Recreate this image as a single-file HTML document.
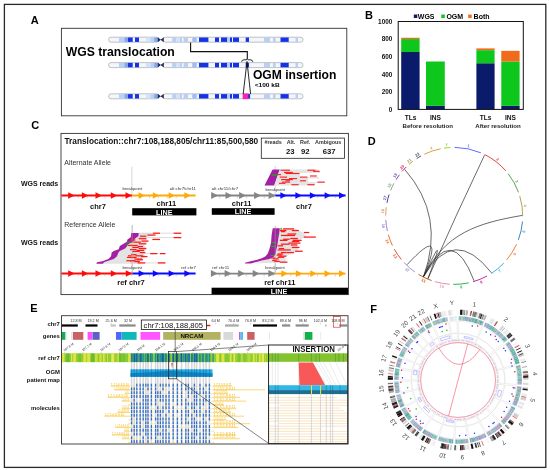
<!DOCTYPE html>
<html><head><meta charset="utf-8"><title>Figure</title>
<style>
html,body{margin:0;padding:0;background:#fff;}
svg{display:block;font-family:"Liberation Sans",Arial,sans-serif;}
</style></head><body>
<svg width="550" height="470" viewBox="0 0 550 470">
<rect x="0" y="0" width="550" height="470" fill="#fff"/>
<rect x="4.4" y="4.4" width="541.4" height="463" fill="none" stroke="#2a2a2a" stroke-width="1.3"/>
<text x="30.7" y="24" font-size="11" font-weight="bold" fill="#000" >A</text>
<text x="365" y="18.7" font-size="11" font-weight="bold" fill="#000" >B</text>
<text x="31.3" y="129.4" font-size="11" font-weight="bold" fill="#000" >C</text>
<text x="367.7" y="144.9" font-size="11" font-weight="bold" fill="#000" >D</text>
<text x="30.3" y="312.2" font-size="11" font-weight="bold" fill="#000" >E</text>
<text x="370.3" y="313" font-size="11" font-weight="bold" fill="#000" >F</text>
<rect x="61.4" y="28.3" width="285.4" height="87.5" fill="none" stroke="#333" stroke-width="0.9"/>
<g>
<rect x="108.6" y="37.2" width="50" height="5.0" rx="2.4" fill="#f3f6fc" stroke="#9a9a9a" stroke-width="0.6"/>
<rect x="163" y="37.2" width="140" height="5.0" rx="2.4" fill="#f3f6fc" stroke="#9a9a9a" stroke-width="0.6"/>
<rect x="119" y="37.5" width="5.5" height="4.4" fill="#b9d0f5" />
<rect x="124.5" y="37.5" width="3.5" height="4.4" fill="#7fa6ee" />
<rect x="128" y="37.5" width="4.7" height="4.4" fill="#1433e6" />
<rect x="135" y="37.5" width="4" height="4.4" fill="#1433e6" />
<rect x="146" y="37.5" width="4.4" height="4.4" fill="#d3e2f9" />
<rect x="150.4" y="37.5" width="3.8" height="4.4" fill="#b9d0f5" />
<rect x="154.2" y="37.5" width="4.2" height="4.4" fill="#7fa6ee" />
<rect x="172.2" y="37.5" width="4.3" height="4.4" fill="#b9d0f5" />
<rect x="176.5" y="37.5" width="3.3" height="4.4" fill="#d3e2f9" />
<rect x="179.8" y="37.5" width="2.2" height="4.4" fill="#b9d0f5" />
<rect x="183.6" y="37.5" width="4.4" height="4.4" fill="#b9d0f5" />
<rect x="192.3" y="37.5" width="4.4" height="4.4" fill="#9dbcf2" />
<rect x="199" y="37.5" width="9.4" height="4.4" fill="#1433e6" />
<rect x="215" y="37.5" width="4" height="4.4" fill="#1433e6" />
<rect x="221" y="37.5" width="6.3" height="4.4" fill="#1433e6" />
<rect x="227.3" y="37.5" width="2.7" height="4.4" fill="#b9d0f5" />
<rect x="230" y="37.5" width="2" height="4.4" fill="#1433e6" />
<rect x="233" y="37.5" width="6" height="4.4" fill="#1433e6" />
<rect x="245.7" y="37.5" width="3.3" height="4.4" fill="#1433e6" />
<rect x="264" y="37.5" width="6" height="4.4" fill="#b9d0f5" />
<rect x="273" y="37.5" width="2.7" height="4.4" fill="#b9d0f5" />
<rect x="280.5" y="37.5" width="8.2" height="4.4" fill="#1433e6" />
<rect x="295.5" y="37.5" width="2.5" height="4.4" fill="#b9d0f5" />
<path d="M157.8 37.2 L160.9 39.7 L157.8 42.2 Z M163.8 37.2 L160.5 39.7 L163.8 42.2 Z" fill="#2a2a55"/>
</g>
<g>
<rect x="108.6" y="62.6" width="50" height="5.0" rx="2.4" fill="#f3f6fc" stroke="#9a9a9a" stroke-width="0.6"/>
<rect x="163" y="62.6" width="140" height="5.0" rx="2.4" fill="#f3f6fc" stroke="#9a9a9a" stroke-width="0.6"/>
<rect x="119" y="62.9" width="5.5" height="4.4" fill="#b9d0f5" />
<rect x="124.5" y="62.9" width="3.5" height="4.4" fill="#7fa6ee" />
<rect x="128" y="62.9" width="4.7" height="4.4" fill="#1433e6" />
<rect x="135" y="62.9" width="4" height="4.4" fill="#1433e6" />
<rect x="146" y="62.9" width="4.4" height="4.4" fill="#d3e2f9" />
<rect x="150.4" y="62.9" width="3.8" height="4.4" fill="#b9d0f5" />
<rect x="154.2" y="62.9" width="4.2" height="4.4" fill="#7fa6ee" />
<rect x="172.2" y="62.9" width="4.3" height="4.4" fill="#b9d0f5" />
<rect x="176.5" y="62.9" width="3.3" height="4.4" fill="#d3e2f9" />
<rect x="179.8" y="62.9" width="2.2" height="4.4" fill="#b9d0f5" />
<rect x="183.6" y="62.9" width="4.4" height="4.4" fill="#b9d0f5" />
<rect x="192.3" y="62.9" width="4.4" height="4.4" fill="#9dbcf2" />
<rect x="199" y="62.9" width="9.4" height="4.4" fill="#1433e6" />
<rect x="215" y="62.9" width="4" height="4.4" fill="#1433e6" />
<rect x="221" y="62.9" width="6.3" height="4.4" fill="#1433e6" />
<rect x="227.3" y="62.9" width="2.7" height="4.4" fill="#b9d0f5" />
<rect x="230" y="62.9" width="2" height="4.4" fill="#1433e6" />
<rect x="233" y="62.9" width="6" height="4.4" fill="#1433e6" />
<rect x="245.7" y="62.9" width="3.3" height="4.4" fill="#1433e6" />
<rect x="264" y="62.9" width="6" height="4.4" fill="#b9d0f5" />
<rect x="273" y="62.9" width="2.7" height="4.4" fill="#b9d0f5" />
<rect x="280.5" y="62.9" width="8.2" height="4.4" fill="#1433e6" />
<rect x="295.5" y="62.9" width="2.5" height="4.4" fill="#b9d0f5" />
<path d="M157.8 62.6 L160.9 65.1 L157.8 67.6 Z M163.8 62.6 L160.5 65.1 L163.8 67.6 Z" fill="#2a2a55"/>
</g>
<g>
<rect x="108.6" y="93.8" width="50" height="5.0" rx="2.4" fill="#f3f6fc" stroke="#9a9a9a" stroke-width="0.6"/>
<rect x="163" y="93.8" width="140" height="5.0" rx="2.4" fill="#f3f6fc" stroke="#9a9a9a" stroke-width="0.6"/>
<rect x="119" y="94.1" width="5.5" height="4.4" fill="#b9d0f5" />
<rect x="124.5" y="94.1" width="3.5" height="4.4" fill="#7fa6ee" />
<rect x="128" y="94.1" width="4.7" height="4.4" fill="#1433e6" />
<rect x="135" y="94.1" width="4" height="4.4" fill="#1433e6" />
<rect x="146" y="94.1" width="4.4" height="4.4" fill="#d3e2f9" />
<rect x="150.4" y="94.1" width="3.8" height="4.4" fill="#b9d0f5" />
<rect x="154.2" y="94.1" width="4.2" height="4.4" fill="#7fa6ee" />
<rect x="172.2" y="94.1" width="4.3" height="4.4" fill="#b9d0f5" />
<rect x="176.5" y="94.1" width="3.3" height="4.4" fill="#d3e2f9" />
<rect x="179.8" y="94.1" width="2.2" height="4.4" fill="#b9d0f5" />
<rect x="183.6" y="94.1" width="4.4" height="4.4" fill="#b9d0f5" />
<rect x="192.3" y="94.1" width="4.4" height="4.4" fill="#9dbcf2" />
<rect x="199" y="94.1" width="9.4" height="4.4" fill="#1433e6" />
<rect x="215" y="94.1" width="4" height="4.4" fill="#1433e6" />
<rect x="221" y="94.1" width="6.3" height="4.4" fill="#1433e6" />
<rect x="227.3" y="94.1" width="2.7" height="4.4" fill="#b9d0f5" />
<rect x="230" y="94.1" width="2" height="4.4" fill="#1433e6" />
<rect x="233" y="94.1" width="6" height="4.4" fill="#1433e6" />
<rect x="245.7" y="94.1" width="3.3" height="4.4" fill="#1433e6" />
<rect x="264" y="94.1" width="6" height="4.4" fill="#b9d0f5" />
<rect x="273" y="94.1" width="2.7" height="4.4" fill="#b9d0f5" />
<rect x="280.5" y="94.1" width="8.2" height="4.4" fill="#1433e6" />
<rect x="295.5" y="94.1" width="2.5" height="4.4" fill="#b9d0f5" />
<path d="M157.8 93.8 L160.9 96.3 L157.8 98.8 Z M163.8 93.8 L160.5 96.3 L163.8 98.8 Z" fill="#2a2a55"/>
<rect x="242.7" y="93.5" width="5.8" height="5.6" fill="#ff1fb4" />
<rect x="248.5" y="94.1" width="1.6" height="4.4" fill="#1433e6" />
</g>
<path d="M190.6 42.4 V51.6 H247.3 V58.6" fill="none" stroke="#111" stroke-width="1.1"/>
<path d="M241.6 61.8 Q241.8 59.8 244 59.8 H246 Q247.2 59.8 247.3 58.4 Q247.4 59.8 248.6 59.8 H250.4 Q252.6 59.8 252.8 61.8" fill="none" stroke="#111" stroke-width="0.9"/>
<path d="M243.2 94 L247 61.5 L250.6 94" fill="none" stroke="#111" stroke-width="0.9"/>
<text x="65.8" y="56.2" font-size="12.5" font-weight="bold" fill="#000" textLength="109" lengthAdjust="spacingAndGlyphs" >WGS translocation</text>
<text x="252.9" y="79" font-size="12.5" font-weight="bold" fill="#000" textLength="83.4" lengthAdjust="spacingAndGlyphs" >OGM insertion</text>
<text x="254.7" y="87" font-size="5.6" font-weight="bold" fill="#000" textLength="25" lengthAdjust="spacingAndGlyphs" >&lt;100 kB</text>
<rect x="401.2" y="52" width="18.4" height="57.4" fill="#0b1b6b" />
<rect x="401.2" y="39.08" width="18.4" height="12.92" fill="#0ec71c" />
<rect x="401.2" y="37.76" width="18.4" height="1.32" fill="#f26a1b" />
<rect x="426" y="105.88" width="18.8" height="3.52" fill="#0b1b6b" />
<rect x="426" y="61.49" width="18.8" height="44.39" fill="#0ec71c" />
<rect x="476.4" y="63.25" width="18.2" height="46.15" fill="#0b1b6b" />
<rect x="476.4" y="50.16" width="18.2" height="13.1" fill="#0ec71c" />
<rect x="476.4" y="48.4" width="18.2" height="1.76" fill="#f26a1b" />
<rect x="501.3" y="105.88" width="18.3" height="3.52" fill="#0b1b6b" />
<rect x="501.3" y="61.49" width="18.3" height="44.39" fill="#0ec71c" />
<rect x="501.3" y="50.86" width="18.3" height="10.64" fill="#f26a1b" />
<rect x="398.2" y="21.5" width="125.1" height="87.9" fill="none" stroke="#111" stroke-width="1"/>
<text x="392.3" y="111.7" font-size="6.4" font-weight="bold" text-anchor="end" fill="#111" >0</text>
<text x="392.3" y="94.12" font-size="6.4" font-weight="bold" text-anchor="end" fill="#111" >200</text>
<text x="392.3" y="76.54" font-size="6.4" font-weight="bold" text-anchor="end" fill="#111" >400</text>
<text x="392.3" y="58.96" font-size="6.4" font-weight="bold" text-anchor="end" fill="#111" >600</text>
<text x="392.3" y="41.38" font-size="6.4" font-weight="bold" text-anchor="end" fill="#111" >800</text>
<text x="392.3" y="23.8" font-size="6.4" font-weight="bold" text-anchor="end" fill="#111" >1000</text>
<rect x="413.8" y="14.5" width="3.5" height="3.5" fill="#0b1b6b" />
<text x="417.8" y="18.7" font-size="7" font-weight="bold" fill="#000" >WGS</text>
<rect x="441.3" y="14.5" width="3.5" height="3.5" fill="#0ec71c" />
<text x="446.4" y="18.7" font-size="7" font-weight="bold" fill="#000" >OGM</text>
<rect x="468.2" y="14.5" width="3.5" height="3.5" fill="#f26a1b" />
<text x="473.6" y="18.7" font-size="7" font-weight="bold" fill="#000" >Both</text>
<text x="410.6" y="120" font-size="6.6" font-weight="bold" text-anchor="middle" fill="#111" >TLs</text>
<text x="435.5" y="120" font-size="6.6" font-weight="bold" text-anchor="middle" fill="#111" >INS</text>
<text x="485.5" y="120" font-size="6.6" font-weight="bold" text-anchor="middle" fill="#111" >TLs</text>
<text x="510.5" y="120" font-size="6.6" font-weight="bold" text-anchor="middle" fill="#111" >INS</text>
<text x="427.8" y="128.2" font-size="6.1" font-weight="bold" text-anchor="middle" fill="#222" >Before resolution</text>
<text x="498" y="128.2" font-size="6.1" font-weight="bold" text-anchor="middle" fill="#222" >After resolution</text>
<rect x="61" y="133.4" width="287.4" height="161.2" fill="none" stroke="#333" stroke-width="0.9"/>
<text x="64.5" y="143.6" font-size="8.4" font-weight="bold" fill="#111" textLength="193.7" lengthAdjust="spacingAndGlyphs" >Translocation::chr7:108,188,805/chr11:85,500,580</text>
<rect x="261.3" y="138.1" width="83.2" height="20.2" fill="none" stroke="#222" stroke-width="0.8"/>
<text x="264.4" y="143.8" font-size="5.4" font-weight="bold" fill="#333" >#reads</text>
<text x="286.7" y="143.8" font-size="5.4" font-weight="bold" fill="#333" >Alt.</text>
<text x="300" y="143.8" font-size="5.4" font-weight="bold" fill="#333" >Ref.</text>
<text x="315" y="143.8" font-size="5.4" font-weight="bold" fill="#333" >Ambigous</text>
<text x="290.2" y="154.2" font-size="7.7" font-weight="bold" text-anchor="middle" fill="#111" >23</text>
<text x="305.3" y="154.2" font-size="7.7" font-weight="bold" text-anchor="middle" fill="#111" >92</text>
<text x="329.1" y="154.2" font-size="7.7" font-weight="bold" text-anchor="middle" fill="#111" >637</text>
<text x="64.3" y="164.5" font-size="7" fill="#333" >Alternate Allele</text>
<text x="64.3" y="227.3" font-size="7" fill="#333" >Reference Allele</text>
<text x="20.9" y="185.7" font-size="7" font-weight="bold" fill="#111" >WGS reads</text>
<text x="20.9" y="245.3" font-size="7" font-weight="bold" fill="#111" >WGS reads</text>
<line x1="131.9" y1="166.8" x2="131.9" y2="196" stroke="#bbb" stroke-width="0.6" />
<line x1="61.4" y1="195.5" x2="131.9" y2="195.5" stroke="#ff0a0a" stroke-width="1.8" />
<line x1="131.9" y1="195.5" x2="195.6" y2="195.5" stroke="#ffa90a" stroke-width="1.8" />
<path d="M74.6 195.5 L68.2 192.2 V198.8 Z" fill="#ff0a0a"/>
<path d="M88.3 195.5 L81.9 192.2 V198.8 Z" fill="#ff0a0a"/>
<path d="M101.9 195.5 L95.5 192.2 V198.8 Z" fill="#ff0a0a"/>
<path d="M117.2 195.5 L110.8 192.2 V198.8 Z" fill="#ff0a0a"/>
<path d="M131.9 195.5 L125.5 192.2 V198.8 Z" fill="#ff0a0a"/>
<path d="M145 195.5 L138.6 192.2 V198.8 Z" fill="#ffa90a"/>
<path d="M159.2 195.5 L152.8 192.2 V198.8 Z" fill="#ffa90a"/>
<path d="M175 195.5 L168.6 192.2 V198.8 Z" fill="#ffa90a"/>
<path d="M190.8 195.5 L184.4 192.2 V198.8 Z" fill="#ffa90a"/>
<line x1="69.4" y1="196.5" x2="69.4" y2="198.3" stroke="#888" stroke-width="0.4" />
<line x1="78.3" y1="196.5" x2="78.3" y2="198.3" stroke="#888" stroke-width="0.4" />
<line x1="87.2" y1="196.5" x2="87.2" y2="198.3" stroke="#888" stroke-width="0.4" />
<line x1="96.1" y1="196.5" x2="96.1" y2="198.3" stroke="#888" stroke-width="0.4" />
<line x1="105" y1="196.5" x2="105" y2="198.3" stroke="#888" stroke-width="0.4" />
<line x1="113.9" y1="196.5" x2="113.9" y2="198.3" stroke="#888" stroke-width="0.4" />
<line x1="122.8" y1="196.5" x2="122.8" y2="198.3" stroke="#888" stroke-width="0.4" />
<line x1="131.7" y1="196.5" x2="131.7" y2="198.3" stroke="#888" stroke-width="0.4" />
<line x1="140.6" y1="196.5" x2="140.6" y2="198.3" stroke="#888" stroke-width="0.4" />
<line x1="149.5" y1="196.5" x2="149.5" y2="198.3" stroke="#888" stroke-width="0.4" />
<line x1="158.4" y1="196.5" x2="158.4" y2="198.3" stroke="#888" stroke-width="0.4" />
<line x1="167.3" y1="196.5" x2="167.3" y2="198.3" stroke="#888" stroke-width="0.4" />
<line x1="176.2" y1="196.5" x2="176.2" y2="198.3" stroke="#888" stroke-width="0.4" />
<line x1="185.1" y1="196.5" x2="185.1" y2="198.3" stroke="#888" stroke-width="0.4" />
<text x="132.3" y="190" font-size="4.2" text-anchor="middle" fill="#333" >breakpoint</text>
<text x="196" y="190" font-size="4.4" text-anchor="end" fill="#333" >alt chr7/chr11</text>
<text x="98" y="208.5" font-size="7.5" font-weight="bold" text-anchor="middle" fill="#111" >chr7</text>
<text x="166.4" y="206.2" font-size="7.5" font-weight="bold" text-anchor="middle" fill="#111" >chr11</text>
<rect x="132.2" y="208.2" width="64.2" height="7.2" fill="#000" />
<text x="164.3" y="214.7" font-size="7.2" font-weight="bold" text-anchor="middle" fill="#fff" >LINE</text>
<line x1="275.2" y1="166" x2="275.2" y2="196" stroke="#bbb" stroke-width="0.6" />
<line x1="211.8" y1="195.5" x2="275.4" y2="195.5" stroke="#858585" stroke-width="1.8" />
<line x1="275.4" y1="195.5" x2="345.6" y2="195.5" stroke="#0a0aff" stroke-width="1.8" />
<path d="M218 195.5 L211.2 192 V199 Z" fill="#858585"/>
<path d="M232.3 195.5 L225.5 192 V199 Z" fill="#858585"/>
<path d="M245.9 195.5 L239.1 192 V199 Z" fill="#858585"/>
<path d="M260.9 195.5 L254.1 192 V199 Z" fill="#858585"/>
<path d="M275.4 195.5 L268.6 192 V199 Z" fill="#858585"/>
<path d="M286.8 195.5 L280.4 192.2 V198.8 Z" fill="#0a0aff"/>
<path d="M301.8 195.5 L295.4 192.2 V198.8 Z" fill="#0a0aff"/>
<path d="M316.3 195.5 L309.9 192.2 V198.8 Z" fill="#0a0aff"/>
<path d="M331 195.5 L324.6 192.2 V198.8 Z" fill="#0a0aff"/>
<path d="M345.4 195.5 L339 192.2 V198.8 Z" fill="#0a0aff"/>
<line x1="219.8" y1="196.5" x2="219.8" y2="198.3" stroke="#888" stroke-width="0.4" />
<line x1="228.7" y1="196.5" x2="228.7" y2="198.3" stroke="#888" stroke-width="0.4" />
<line x1="237.6" y1="196.5" x2="237.6" y2="198.3" stroke="#888" stroke-width="0.4" />
<line x1="246.5" y1="196.5" x2="246.5" y2="198.3" stroke="#888" stroke-width="0.4" />
<line x1="255.4" y1="196.5" x2="255.4" y2="198.3" stroke="#888" stroke-width="0.4" />
<line x1="264.3" y1="196.5" x2="264.3" y2="198.3" stroke="#888" stroke-width="0.4" />
<line x1="273.2" y1="196.5" x2="273.2" y2="198.3" stroke="#888" stroke-width="0.4" />
<line x1="282.1" y1="196.5" x2="282.1" y2="198.3" stroke="#888" stroke-width="0.4" />
<line x1="291" y1="196.5" x2="291" y2="198.3" stroke="#888" stroke-width="0.4" />
<line x1="299.9" y1="196.5" x2="299.9" y2="198.3" stroke="#888" stroke-width="0.4" />
<line x1="308.8" y1="196.5" x2="308.8" y2="198.3" stroke="#888" stroke-width="0.4" />
<line x1="317.7" y1="196.5" x2="317.7" y2="198.3" stroke="#888" stroke-width="0.4" />
<line x1="326.6" y1="196.5" x2="326.6" y2="198.3" stroke="#888" stroke-width="0.4" />
<line x1="335.5" y1="196.5" x2="335.5" y2="198.3" stroke="#888" stroke-width="0.4" />
<text x="211.8" y="189.6" font-size="4.4" fill="#333" >alt chr11/chr7</text>
<text x="275.2" y="191" font-size="4.2" text-anchor="middle" fill="#333" >breakpoint</text>
<text x="241.6" y="206.2" font-size="7.5" font-weight="bold" text-anchor="middle" fill="#111" >chr11</text>
<rect x="211.8" y="208.2" width="62.8" height="6.6" fill="#000" />
<text x="243" y="214.3" font-size="7.2" font-weight="bold" text-anchor="middle" fill="#fff" >LINE</text>
<text x="304" y="209" font-size="7.5" font-weight="bold" text-anchor="middle" fill="#111" >chr7</text>
<line x1="132.2" y1="225" x2="132.2" y2="274" stroke="#bbb" stroke-width="0.6" />
<line x1="61.4" y1="273.5" x2="132.2" y2="273.5" stroke="#ff0a0a" stroke-width="1.8" />
<line x1="132.2" y1="273.5" x2="195.6" y2="273.5" stroke="#0a0aff" stroke-width="1.8" />
<path d="M74.6 273.5 L68.2 270.2 V276.8 Z" fill="#ff0a0a"/>
<path d="M88.3 273.5 L81.9 270.2 V276.8 Z" fill="#ff0a0a"/>
<path d="M101.9 273.5 L95.5 270.2 V276.8 Z" fill="#ff0a0a"/>
<path d="M117.2 273.5 L110.8 270.2 V276.8 Z" fill="#ff0a0a"/>
<path d="M132.2 273.5 L125.8 270.2 V276.8 Z" fill="#ff0a0a"/>
<path d="M145 273.5 L138.6 270.2 V276.8 Z" fill="#0a0aff"/>
<path d="M159.2 273.5 L152.8 270.2 V276.8 Z" fill="#0a0aff"/>
<path d="M175 273.5 L168.6 270.2 V276.8 Z" fill="#0a0aff"/>
<path d="M190.8 273.5 L184.4 270.2 V276.8 Z" fill="#0a0aff"/>
<line x1="69.4" y1="274.5" x2="69.4" y2="276.3" stroke="#888" stroke-width="0.4" />
<line x1="78.3" y1="274.5" x2="78.3" y2="276.3" stroke="#888" stroke-width="0.4" />
<line x1="87.2" y1="274.5" x2="87.2" y2="276.3" stroke="#888" stroke-width="0.4" />
<line x1="96.1" y1="274.5" x2="96.1" y2="276.3" stroke="#888" stroke-width="0.4" />
<line x1="105" y1="274.5" x2="105" y2="276.3" stroke="#888" stroke-width="0.4" />
<line x1="113.9" y1="274.5" x2="113.9" y2="276.3" stroke="#888" stroke-width="0.4" />
<line x1="122.8" y1="274.5" x2="122.8" y2="276.3" stroke="#888" stroke-width="0.4" />
<line x1="131.7" y1="274.5" x2="131.7" y2="276.3" stroke="#888" stroke-width="0.4" />
<line x1="140.6" y1="274.5" x2="140.6" y2="276.3" stroke="#888" stroke-width="0.4" />
<line x1="149.5" y1="274.5" x2="149.5" y2="276.3" stroke="#888" stroke-width="0.4" />
<line x1="158.4" y1="274.5" x2="158.4" y2="276.3" stroke="#888" stroke-width="0.4" />
<line x1="167.3" y1="274.5" x2="167.3" y2="276.3" stroke="#888" stroke-width="0.4" />
<line x1="176.2" y1="274.5" x2="176.2" y2="276.3" stroke="#888" stroke-width="0.4" />
<line x1="185.1" y1="274.5" x2="185.1" y2="276.3" stroke="#888" stroke-width="0.4" />
<text x="132.3" y="269.2" font-size="4.2" text-anchor="middle" fill="#333" >breakpoint</text>
<text x="196" y="269.2" font-size="4.4" text-anchor="end" fill="#333" >ref chr7</text>
<text x="131" y="284.5" font-size="7.5" font-weight="bold" text-anchor="middle" fill="#111" >ref chr7</text>
<line x1="275.2" y1="226" x2="275.2" y2="274" stroke="#bbb" stroke-width="0.6" />
<line x1="211.6" y1="273.6" x2="275.2" y2="273.6" stroke="#858585" stroke-width="1.8" />
<line x1="275.2" y1="273.6" x2="345.6" y2="273.6" stroke="#ffa90a" stroke-width="1.8" />
<path d="M217.7 273.6 L210.9 270.1 V277.1 Z" fill="#858585"/>
<path d="M231.4 273.6 L224.6 270.1 V277.1 Z" fill="#858585"/>
<path d="M245 273.6 L238.2 270.1 V277.1 Z" fill="#858585"/>
<path d="M259.5 273.6 L252.7 270.1 V277.1 Z" fill="#858585"/>
<path d="M275.2 273.6 L268.4 270.1 V277.1 Z" fill="#858585"/>
<path d="M287.8 273.6 L281.4 270.3 V276.9 Z" fill="#ffa90a"/>
<path d="M302.3 273.6 L295.9 270.3 V276.9 Z" fill="#ffa90a"/>
<path d="M316.7 273.6 L310.3 270.3 V276.9 Z" fill="#ffa90a"/>
<path d="M330.9 273.6 L324.5 270.3 V276.9 Z" fill="#ffa90a"/>
<path d="M345.4 273.6 L339 270.3 V276.9 Z" fill="#ffa90a"/>
<line x1="219.6" y1="274.6" x2="219.6" y2="276.4" stroke="#888" stroke-width="0.4" />
<line x1="228.5" y1="274.6" x2="228.5" y2="276.4" stroke="#888" stroke-width="0.4" />
<line x1="237.4" y1="274.6" x2="237.4" y2="276.4" stroke="#888" stroke-width="0.4" />
<line x1="246.3" y1="274.6" x2="246.3" y2="276.4" stroke="#888" stroke-width="0.4" />
<line x1="255.2" y1="274.6" x2="255.2" y2="276.4" stroke="#888" stroke-width="0.4" />
<line x1="264.1" y1="274.6" x2="264.1" y2="276.4" stroke="#888" stroke-width="0.4" />
<line x1="273" y1="274.6" x2="273" y2="276.4" stroke="#888" stroke-width="0.4" />
<line x1="281.9" y1="274.6" x2="281.9" y2="276.4" stroke="#888" stroke-width="0.4" />
<line x1="290.8" y1="274.6" x2="290.8" y2="276.4" stroke="#888" stroke-width="0.4" />
<line x1="299.7" y1="274.6" x2="299.7" y2="276.4" stroke="#888" stroke-width="0.4" />
<line x1="308.6" y1="274.6" x2="308.6" y2="276.4" stroke="#888" stroke-width="0.4" />
<line x1="317.5" y1="274.6" x2="317.5" y2="276.4" stroke="#888" stroke-width="0.4" />
<line x1="326.4" y1="274.6" x2="326.4" y2="276.4" stroke="#888" stroke-width="0.4" />
<line x1="335.3" y1="274.6" x2="335.3" y2="276.4" stroke="#888" stroke-width="0.4" />
<text x="212.3" y="268.8" font-size="4.4" fill="#333" >ref chr11</text>
<text x="275" y="269.4" font-size="4.2" text-anchor="middle" fill="#333" >breakpoint</text>
<text x="279.8" y="285.4" font-size="7.5" font-weight="bold" text-anchor="middle" fill="#111" >ref chr11</text>
<rect x="211.6" y="287.7" width="136.4" height="6.7" fill="#000" />
<text x="279" y="293.9" font-size="7.2" font-weight="bold" text-anchor="middle" fill="#fff" >LINE</text>
<path d="M264.5 185.6 L272.6 169.4 H279.8 L274.2 185.6 Z" fill="#a31fa3"/>
<path d="M279.8 169.4 H318.5 V171.5 H320 V173 H300 V177 H319 V178.5 H308 V182 H325 V183 H315 V185.4 H274.2 Z" fill="#e4e4e4"/>
<line x1="280.5" y1="170.2" x2="290" y2="170.2" stroke="#ff1a1a" stroke-width="1.1" />
<line x1="307.4" y1="170.2" x2="315.4" y2="170.2" stroke="#ff1a1a" stroke-width="1.1" />
<line x1="313" y1="171.3" x2="319.7" y2="171.3" stroke="#ff1a1a" stroke-width="1.1" />
<line x1="284" y1="172.4" x2="292.8" y2="172.4" stroke="#ff1a1a" stroke-width="1.1" />
<line x1="285.5" y1="173.5" x2="299.4" y2="173.5" stroke="#ff1a1a" stroke-width="1.1" />
<line x1="278" y1="174.6" x2="281" y2="174.6" stroke="#ff1a1a" stroke-width="1.1" />
<line x1="310" y1="176" x2="316.8" y2="176" stroke="#ff1a1a" stroke-width="1.1" />
<line x1="279.7" y1="177.1" x2="287" y2="177.1" stroke="#ff1a1a" stroke-width="1.1" />
<line x1="300" y1="177.1" x2="307.4" y2="177.1" stroke="#ff1a1a" stroke-width="1.1" />
<line x1="289" y1="178.6" x2="297" y2="178.6" stroke="#ff1a1a" stroke-width="1.1" />
<line x1="281" y1="179.6" x2="292.8" y2="179.6" stroke="#ff1a1a" stroke-width="1.1" />
<line x1="285.5" y1="180.8" x2="290" y2="180.8" stroke="#ff1a1a" stroke-width="1.1" />
<line x1="300" y1="180.8" x2="306" y2="180.8" stroke="#ff1a1a" stroke-width="1.1" />
<line x1="282" y1="182.1" x2="290" y2="182.1" stroke="#ff1a1a" stroke-width="1.1" />
<line x1="317.5" y1="182.1" x2="324.8" y2="182.1" stroke="#ff1a1a" stroke-width="1.1" />
<line x1="279" y1="183.3" x2="285.5" y2="183.3" stroke="#ff1a1a" stroke-width="1.1" />
<line x1="291.4" y1="184.7" x2="298.6" y2="184.7" stroke="#ff1a1a" stroke-width="1.1" />
<line x1="307.4" y1="184.7" x2="314.6" y2="184.7" stroke="#ff1a1a" stroke-width="1.1" />
<line x1="271.7" y1="175" x2="277.6" y2="175" stroke="#12b312" stroke-width="1.2" />
<path d="M138.89 232.91 L153.07 232.91 L153.07 235.63 L146.53 236.72 L147.62 242.18 L144.34 244.36 L146.53 249.81 L143.25 253.08 L145.44 256.57 L139.98 260.72 L141.07 263.77 L102.91 263.77 L102.91 263.77 L104 262.35 L108.36 260.72 L113.81 259.08 L117.08 256.35 L118.17 253.08 L119.81 250.9 L124.72 248.72 L126.9 246.54 L127.99 244.36 L132.89 242.18 L134.53 238.91 L138.35 236.18 Z" fill="#e3e3e3" />
<path d="M131.26 232.91 L130.71 237.27 L127.44 239.45 L126.9 241.63 L123.62 243.81 L119.81 245.99 L118.72 249.26 L113.81 250.9 L111.63 252.54 L111.08 256.35 L108.36 259.08 L105.09 260.17 L102.36 261.26 L96.91 262.35 L96.36 263.77 L102.91 263.77 L104 262.35 L108.36 260.72 L113.81 259.08 L117.08 256.35 L118.17 253.08 L119.81 250.9 L124.72 248.72 L126.9 246.54 L127.99 244.36 L132.89 242.18 L134.53 238.91 L138.35 236.18 L138.89 232.91 Z" fill="#a31fa3" />
<line x1="138.72" y1="233.23" x2="181.25" y2="233.23" stroke="#cfcfcf" stroke-width="0.7" />
<line x1="136.54" y1="237.6" x2="181.25" y2="237.6" stroke="#cfcfcf" stroke-width="0.7" />
<line x1="130" y1="253.63" x2="165.44" y2="253.63" stroke="#cfcfcf" stroke-width="0.7" />
<line x1="130" y1="262.9" x2="165.44" y2="262.9" stroke="#cfcfcf" stroke-width="0.7" />
<line x1="152.9" y1="233.23" x2="159.99" y2="233.23" stroke="#ff1a1a" stroke-width="1.25" />
<line x1="173.62" y1="233.23" x2="181.25" y2="233.23" stroke="#ff1a1a" stroke-width="1.25" />
<line x1="147.45" y1="235.09" x2="155.63" y2="235.09" stroke="#ff1a1a" stroke-width="1.25" />
<line x1="173.62" y1="237.6" x2="181.25" y2="237.6" stroke="#ff1a1a" stroke-width="1.25" />
<line x1="138.72" y1="238.69" x2="146.36" y2="238.69" stroke="#ff1a1a" stroke-width="1.25" />
<line x1="152.36" y1="239.45" x2="159.99" y2="239.45" stroke="#ff1a1a" stroke-width="1.25" />
<line x1="141.45" y1="241.09" x2="148.54" y2="241.09" stroke="#ff1a1a" stroke-width="1.25" />
<line x1="138.72" y1="243.81" x2="146.36" y2="243.81" stroke="#ff1a1a" stroke-width="1.25" />
<line x1="131.09" y1="245.45" x2="137.63" y2="245.45" stroke="#ff1a1a" stroke-width="1.25" />
<line x1="132.18" y1="247.41" x2="138.72" y2="247.41" stroke="#ff1a1a" stroke-width="1.25" />
<line x1="138.72" y1="248.5" x2="146.36" y2="248.5" stroke="#ff1a1a" stroke-width="1.25" />
<line x1="136.54" y1="250.36" x2="144.18" y2="250.36" stroke="#ff1a1a" stroke-width="1.25" />
<line x1="132.18" y1="251.45" x2="139.81" y2="251.45" stroke="#ff1a1a" stroke-width="1.25" />
<line x1="150.17" y1="253.63" x2="157.26" y2="253.63" stroke="#ff1a1a" stroke-width="1.25" />
<line x1="159.99" y1="253.63" x2="165.44" y2="253.63" stroke="#ff1a1a" stroke-width="1.25" />
<line x1="135.45" y1="255.81" x2="143.09" y2="255.81" stroke="#ff1a1a" stroke-width="1.25" />
<line x1="130" y1="257.44" x2="136.54" y2="257.44" stroke="#ff1a1a" stroke-width="1.25" />
<line x1="134.36" y1="259.08" x2="142" y2="259.08" stroke="#ff1a1a" stroke-width="1.25" />
<line x1="130" y1="260.72" x2="133.82" y2="260.72" stroke="#ff1a1a" stroke-width="1.25" />
<line x1="137.63" y1="262.9" x2="145.27" y2="262.9" stroke="#ff1a1a" stroke-width="1.25" />
<line x1="157.81" y1="262.9" x2="165.44" y2="262.9" stroke="#ff1a1a" stroke-width="1.25" />
<line x1="133.27" y1="242.18" x2="140.91" y2="242.18" stroke="#ff1a1a" stroke-width="1.25" />
<line x1="139.81" y1="236.18" x2="146.36" y2="236.18" stroke="#ff1a1a" stroke-width="1.25" />
<line x1="131.09" y1="254.72" x2="136.54" y2="254.72" stroke="#ff1a1a" stroke-width="1.25" />
<line x1="130" y1="240" x2="135.45" y2="240" stroke="#ff1a1a" stroke-width="1.25" />
<line x1="137.63" y1="246.54" x2="143.09" y2="246.54" stroke="#ff1a1a" stroke-width="1.25" />
<line x1="130" y1="249.59" x2="136.54" y2="249.59" stroke="#ff1a1a" stroke-width="1.25" />
<line x1="139.81" y1="252.54" x2="145.27" y2="252.54" stroke="#ff1a1a" stroke-width="1.25" />
<line x1="140.91" y1="256.57" x2="147.45" y2="256.57" stroke="#ff1a1a" stroke-width="1.25" />
<line x1="136.54" y1="259.84" x2="143.09" y2="259.84" stroke="#ff1a1a" stroke-width="1.25" />
<line x1="134.36" y1="261.59" x2="139.81" y2="261.59" stroke="#ff1a1a" stroke-width="1.25" />
<line x1="127.99" y1="245.45" x2="132.35" y2="245.45" stroke="#ff1a1a" stroke-width="1.25" />
<line x1="126.9" y1="257.44" x2="135.62" y2="257.44" stroke="#ff1a1a" stroke-width="1.25" />
<line x1="126.35" y1="260.72" x2="135.62" y2="260.72" stroke="#ff1a1a" stroke-width="1.25" />
<line x1="127.99" y1="255.81" x2="131.48" y2="255.81" stroke="#ff1a1a" stroke-width="1.25" />
<line x1="126.9" y1="242.39" x2="131.8" y2="242.39" stroke="#12b312" stroke-width="1" />
<line x1="126.35" y1="244.9" x2="128.21" y2="244.9" stroke="#12b312" stroke-width="1" />
<line x1="132.2" y1="225" x2="132.2" y2="274" stroke="#aaa" stroke-width="0.5" />
<path d="M279.8 228.36 L295.08 228.36 L302.72 232.51 L307.08 236.87 L297.26 240.36 L298.35 251.26 L291.81 253.44 L285.27 256.72 L286.36 262.39 L254.18 263.48 L261.81 260.53 L269.44 258.9 L273.81 256.72 L275.44 253.99 L276.53 249.08 L277.62 243.63 L278.17 239.27 L279.26 233.81 Z" fill="#e3e3e3"/>
<path d="M272.72 228.36 L271.62 234.91 L271.08 242.54 L269.44 249.08 L267.81 253.44 L265.63 256.17 L261.81 258.35 L256.36 259.99 L249.81 261.62 L244.91 262.71 L244.91 263.48 L250.91 263.48 L256.36 261.95 L261.81 260.53 L269.44 258.9 L273.81 256.72 L275.44 253.99 L276.53 249.08 L277.62 243.63 L278.17 239.27 L279.26 233.81 L279.8 228.36 Z" fill="#a31fa3" />
<line x1="283.09" y1="228.91" x2="293.99" y2="228.91" stroke="#ff1a1a" stroke-width="1.25" />
<line x1="279.81" y1="230.54" x2="286.36" y2="230.54" stroke="#ff1a1a" stroke-width="1.25" />
<line x1="291.81" y1="230.54" x2="298.9" y2="230.54" stroke="#ff1a1a" stroke-width="1.25" />
<line x1="303.81" y1="232.51" x2="309.26" y2="232.51" stroke="#ff1a1a" stroke-width="1.25" />
<line x1="287.45" y1="234.03" x2="296.17" y2="234.03" stroke="#ff1a1a" stroke-width="1.25" />
<line x1="280.91" y1="235.45" x2="287.45" y2="235.45" stroke="#ff1a1a" stroke-width="1.25" />
<line x1="286.36" y1="235.45" x2="295.08" y2="235.45" stroke="#ff1a1a" stroke-width="1.25" />
<line x1="303.81" y1="237.09" x2="315.8" y2="237.09" stroke="#ff1a1a" stroke-width="1.25" />
<line x1="290.17" y1="238.5" x2="297.81" y2="238.5" stroke="#ff1a1a" stroke-width="1.25" />
<line x1="279.81" y1="240.36" x2="287.45" y2="240.36" stroke="#ff1a1a" stroke-width="1.25" />
<line x1="292.9" y1="240.36" x2="301.62" y2="240.36" stroke="#ff1a1a" stroke-width="1.25" />
<line x1="291.81" y1="241.45" x2="299.44" y2="241.45" stroke="#ff1a1a" stroke-width="1.25" />
<line x1="288.54" y1="243.08" x2="300.53" y2="243.08" stroke="#ff1a1a" stroke-width="1.25" />
<line x1="280.91" y1="244.17" x2="289.63" y2="244.17" stroke="#ff1a1a" stroke-width="1.25" />
<line x1="277.63" y1="245.81" x2="283.09" y2="245.81" stroke="#ff1a1a" stroke-width="1.25" />
<line x1="291.81" y1="247.45" x2="299.44" y2="247.45" stroke="#ff1a1a" stroke-width="1.25" />
<line x1="278.72" y1="248.54" x2="284.18" y2="248.54" stroke="#ff1a1a" stroke-width="1.25" />
<line x1="277.63" y1="249.95" x2="290.72" y2="249.95" stroke="#ff1a1a" stroke-width="1.25" />
<line x1="295.08" y1="251.26" x2="302.72" y2="251.26" stroke="#ff1a1a" stroke-width="1.25" />
<line x1="286.36" y1="252.57" x2="293.99" y2="252.57" stroke="#ff1a1a" stroke-width="1.25" />
<line x1="280.91" y1="252.57" x2="286.36" y2="252.57" stroke="#ff1a1a" stroke-width="1.25" />
<line x1="277.63" y1="253.99" x2="283.09" y2="253.99" stroke="#ff1a1a" stroke-width="1.25" />
<line x1="278.72" y1="256.17" x2="286.36" y2="256.17" stroke="#ff1a1a" stroke-width="1.25" />
<line x1="277.63" y1="257.26" x2="284.18" y2="257.26" stroke="#ff1a1a" stroke-width="1.25" />
<line x1="273.27" y1="258.9" x2="278.72" y2="258.9" stroke="#ff1a1a" stroke-width="1.25" />
<line x1="272.18" y1="260.53" x2="276.54" y2="260.53" stroke="#ff1a1a" stroke-width="1.25" />
<line x1="279.81" y1="262.17" x2="287.45" y2="262.17" stroke="#ff1a1a" stroke-width="1.25" />
<line x1="280.91" y1="231.63" x2="285.27" y2="231.63" stroke="#ff1a1a" stroke-width="1.25" />
<line x1="283.09" y1="239.27" x2="289.63" y2="239.27" stroke="#ff1a1a" stroke-width="1.25" />
<line x1="290.72" y1="244.94" x2="297.26" y2="244.94" stroke="#ff1a1a" stroke-width="1.25" />
<line x1="276.54" y1="255.08" x2="282" y2="255.08" stroke="#ff1a1a" stroke-width="1.25" />
<line x1="271.09" y1="258.02" x2="275.45" y2="258.02" stroke="#ff1a1a" stroke-width="1.25" />
<line x1="274.36" y1="261.4" x2="279.81" y2="261.4" stroke="#ff1a1a" stroke-width="1.25" />
<line x1="280.35" y1="228.91" x2="281.98" y2="228.91" stroke="#12b312" stroke-width="1.1" />
<line x1="276.53" y1="235.23" x2="278.71" y2="235.23" stroke="#12b312" stroke-width="1.1" />
<line x1="271.62" y1="242.54" x2="275.99" y2="242.54" stroke="#12b312" stroke-width="1.1" />
<line x1="270.53" y1="246.36" x2="275.44" y2="246.36" stroke="#12b312" stroke-width="1.1" />
<line x1="270.53" y1="255.41" x2="274.35" y2="255.41" stroke="#12b312" stroke-width="1.1" />
<line x1="275.2" y1="226" x2="275.2" y2="274" stroke="#aaa" stroke-width="0.5" />
<path d="M454.56 147.4 A68.5 68.5 0 0 1 480.85 152.8" fill="none" stroke="#5b6cff" stroke-width="1"/>
<text x="468.3" y="147.23" font-size="4" font-weight="bold" fill="#5b6cff" text-anchor="middle" transform="rotate(11.6 468.3 147.23)">1</text>
<path d="M484.66 154.54 A68.5 68.5 0 0 1 505.74 170.78" fill="none" stroke="#f0413a" stroke-width="1"/>
<text x="496.97" y="160.36" font-size="4" font-weight="bold" fill="#f0413a" text-anchor="middle" transform="rotate(37.6 496.97 160.36)">2</text>
<path d="M508.18 173.73 A68.5 68.5 0 0 1 518.53 192.36" fill="none" stroke="#5aa455" stroke-width="1"/>
<text x="515.48" y="181.86" font-size="4" font-weight="bold" fill="#5aa455" text-anchor="middle" transform="rotate(60.95 515.48 181.86)">3</text>
<path d="M519.74 195.99 A68.5 68.5 0 0 1 522.7 216.26" fill="none" stroke="#b3a45c" stroke-width="1"/>
<text x="523.57" y="205.78" font-size="4" font-weight="bold" fill="#b3a45c" text-anchor="middle" transform="rotate(81.7 523.57 205.78)">4</text>
<path d="M522.47 221.51 A68.5 68.5 0 0 1 518.36 239.89" fill="none" stroke="#3f86b8" stroke-width="1"/>
<text x="525.34" y="231.8" font-size="4" font-weight="bold" fill="#3f86b8" text-anchor="middle" transform="rotate(282.6 525.34 231.8)">5</text>
<path d="M516.58 244.2 A68.5 68.5 0 0 1 506.75 259.84" fill="none" stroke="#ec8142" stroke-width="1"/>
<text x="515.92" y="254.69" font-size="4" font-weight="bold" fill="#ec8142" text-anchor="middle" transform="rotate(302.15 515.92 254.69)">6</text>
<path d="M503.81 263.14 A68.5 68.5 0 0 1 491.11 273.61" fill="none" stroke="#3fb0dc" stroke-width="1"/>
<text x="500.57" y="272.15" font-size="4" font-weight="bold" fill="#3fb0dc" text-anchor="middle" transform="rotate(320.5 500.57 272.15)">7</text>
<path d="M486.99 276.04 A68.5 68.5 0 0 1 472.97 281.78" fill="none" stroke="#c22f9c" stroke-width="1"/>
<text x="481.8" y="283.37" font-size="4" font-weight="bold" fill="#c22f9c" text-anchor="middle" transform="rotate(337.75 481.8 283.37)">8</text>
<path d="M468.68 282.85 A68.5 68.5 0 0 1 453.24 284.39" fill="none" stroke="#2fb552" stroke-width="1"/>
<text x="461.44" y="288.44" font-size="4" font-weight="bold" fill="#2fb552" text-anchor="middle" transform="rotate(354.3 461.44 288.44)">9</text>
<path d="M449.78 284.26 A68.5 68.5 0 0 1 434.97 281.65" fill="none" stroke="#e38fb4" stroke-width="1"/>
<text x="441.54" y="287.69" font-size="4" font-weight="bold" fill="#e38fb4" text-anchor="middle" transform="rotate(370 441.54 287.69)">10</text>
<path d="M431.56 280.55 A68.5 68.5 0 0 1 418.51 274.37" fill="none" stroke="#c2601c" stroke-width="1"/>
<text x="422.99" y="281.78" font-size="4" font-weight="bold" fill="#c2601c" text-anchor="middle" transform="rotate(385.35 422.99 281.78)">11</text>
<path d="M414.91 272.01 A68.5 68.5 0 0 1 404.02 262.53" fill="none" stroke="#9a98c8" stroke-width="1"/>
<text x="406.33" y="270.88" font-size="4" font-weight="bold" fill="#9a98c8" text-anchor="middle" transform="rotate(401.05 406.33 270.88)">12</text>
<path d="M401.34 259.47 A68.5 68.5 0 0 1 394.29 249.11" fill="none" stroke="#ea4f2c" stroke-width="1"/>
<text x="393.94" y="256.93" font-size="4" font-weight="bold" fill="#ea4f2c" text-anchor="middle" transform="rotate(415.75 393.94 256.93)">13</text>
<path d="M392.42 245.5 A68.5 68.5 0 0 1 388.32 234.67" fill="none" stroke="#e8742c" stroke-width="1"/>
<text x="386.03" y="241.73" font-size="4" font-weight="bold" fill="#e8742c" text-anchor="middle" transform="rotate(429.25 386.03 241.73)">14</text>
<path d="M387.38 230.96 A68.5 68.5 0 0 1 385.82 219.96" fill="none" stroke="#9a84d6" stroke-width="1"/>
<text x="382.02" y="226.11" font-size="4" font-weight="bold" fill="#9a84d6" text-anchor="middle" transform="rotate(441.95 382.02 226.11)">15</text>
<path d="M385.7 215.54 A68.5 68.5 0 0 1 386.26 207.2" fill="none" stroke="#d9a066" stroke-width="1"/>
<text x="384.25" y="211.25" font-size="4" font-weight="bold" fill="#d9a066" text-anchor="middle" transform="rotate(273.8 384.25 211.25)">16</text>
<path d="M386.96 202.83 A68.5 68.5 0 0 1 389.13 194.51" fill="none" stroke="#4b3f9e" stroke-width="1"/>
<text x="386.36" y="198.23" font-size="4" font-weight="bold" fill="#4b3f9e" text-anchor="middle" transform="rotate(284.6 386.36 198.23)">17</text>
<path d="M390.55 190.57 A68.5 68.5 0 0 1 393.94 183.32" fill="none" stroke="#8aa78a" stroke-width="1"/>
<text x="390.69" y="186.22" font-size="4" font-weight="bold" fill="#8aa78a" text-anchor="middle" transform="rotate(295.05 390.69 186.22)">18</text>
<path d="M396.05 179.7 A68.5 68.5 0 0 1 399.42 174.77" fill="none" stroke="#7a3fc0" stroke-width="1"/>
<text x="396.36" y="176.3" font-size="4" font-weight="bold" fill="#7a3fc0" text-anchor="middle" transform="rotate(304.4 396.36 176.3)">19</text>
<path d="M402.19 171.32 A68.5 68.5 0 0 1 406.27 166.96" fill="none" stroke="#d62468" stroke-width="1"/>
<text x="403.02" y="168" font-size="4" font-weight="bold" fill="#d62468" text-anchor="middle" transform="rotate(313.1 403.02 168)">20</text>
<path d="M409.17 164.28 A68.5 68.5 0 0 1 412.69 161.41" fill="none" stroke="#a89a3c" stroke-width="1"/>
<text x="409.89" y="161.58" font-size="4" font-weight="bold" fill="#a89a3c" text-anchor="middle" transform="rotate(320.8 409.89 161.58)">21</text>
<path d="M416.69 158.58 A68.5 68.5 0 0 1 421.1 155.93" fill="none" stroke="#46505a" stroke-width="1"/>
<text x="418.04" y="155.84" font-size="4" font-weight="bold" fill="#46505a" text-anchor="middle" transform="rotate(328.95 418.04 155.84)">22</text>
<path d="M424.28 154.28 A68.5 68.5 0 0 1 440.66 148.75" fill="none" stroke="#d9a23c" stroke-width="1"/>
<text x="431.78" y="149.48" font-size="4" font-weight="bold" fill="#d9a23c" text-anchor="middle" transform="rotate(341.35 431.78 149.48)">X</text>
<path d="M443.96 148.17 A68.5 68.5 0 0 1 450.14 147.52" fill="none" stroke="#9fd62a" stroke-width="1"/>
<text x="446.87" y="146.18" font-size="4" font-weight="bold" fill="#9fd62a" text-anchor="middle" transform="rotate(354 446.87 146.18)">Y</text>
<path d="M407.03 264.74 Q446.3 222.3 423.59 276.51" fill="none" stroke="#2a2a2a" stroke-width="0.7"/>
<path d="M404.7 169.42 Q445.6 216 423.59 276.51" fill="none" stroke="#2a2a2a" stroke-width="0.7"/>
<path d="M423.59 276.51 Q448.8 223 428 278.54" fill="none" stroke="#2a2a2a" stroke-width="0.7"/>
<path d="M484.5 155.13 Q455.5 216 428 278.54" fill="none" stroke="#2a2a2a" stroke-width="0.7"/>
<path d="M491.38 272.72 Q454 225 423.59 276.51" fill="none" stroke="#2a2a2a" stroke-width="0.7"/>
<path d="M474.05 280.83 Q452 222 423.59 276.51" fill="none" stroke="#2a2a2a" stroke-width="0.7"/>
<path d="M522.1 215.43 C478 223 445 233 423.59 276.51" fill="none" stroke="#2a2a2a" stroke-width="0.7"/>
<text x="59.9" y="326.2" font-size="5.9" font-weight="bold" text-anchor="end" fill="#111" >chr7</text>
<text x="59.9" y="337.5" font-size="5.9" font-weight="bold" text-anchor="end" fill="#111" >genes</text>
<text x="59.9" y="360" font-size="5.9" font-weight="bold" text-anchor="end" fill="#111" >ref chr7</text>
<text x="59.9" y="374.3" font-size="5.9" font-weight="bold" text-anchor="end" fill="#111" >OGM</text>
<text x="59.9" y="381.5" font-size="5.9" font-weight="bold" text-anchor="end" fill="#111" >patient map</text>
<text x="59.9" y="409.5" font-size="5.9" font-weight="bold" text-anchor="end" fill="#111" >molecules</text>
<rect x="61.5" y="324.4" width="16.3" height="2.2" fill="#000" />
<rect x="85.5" y="324.4" width="12" height="2.2" fill="#000" />
<rect x="110.6" y="324.4" width="5.4" height="2.2" fill="#c4c4c4" />
<rect x="119.3" y="324.4" width="16.3" height="2.2" fill="#8a8a8a" />
<rect x="225" y="324.4" width="13.7" height="2.2" fill="#a8a8a8" />
<rect x="253" y="324.4" width="24" height="2.2" fill="#000" />
<rect x="282" y="324.4" width="8.2" height="2.2" fill="#8a8a8a" />
<rect x="295.6" y="324.4" width="13.1" height="2.2" fill="#8a8a8a" />
<rect x="325.4" y="324.4" width="1" height="2.2" fill="#999" />
<rect x="339.3" y="324.4" width="8.1" height="2.2" fill="#8a8a8a" />
<rect x="206.5" y="324.8" width="3.8" height="1.4" fill="#f01010" />
<rect x="333.4" y="316.6" width="7" height="10.6" fill="none" stroke="#f03030" stroke-width="0.7"/>
<text x="76" y="322.4" font-size="3.7" text-anchor="middle" fill="#333" >12.8 M</text>
<line x1="76" y1="323" x2="76" y2="324.4" stroke="#666" stroke-width="0.3" />
<text x="93.1" y="322.4" font-size="3.7" text-anchor="middle" fill="#333" >19.2 M</text>
<line x1="93.1" y1="323" x2="93.1" y2="324.4" stroke="#666" stroke-width="0.3" />
<text x="111.2" y="322.4" font-size="3.7" text-anchor="middle" fill="#333" >25.6 M</text>
<line x1="111.2" y1="323" x2="111.2" y2="324.4" stroke="#666" stroke-width="0.3" />
<text x="128" y="322.4" font-size="3.7" text-anchor="middle" fill="#333" >32 M</text>
<line x1="128" y1="323" x2="128" y2="324.4" stroke="#666" stroke-width="0.3" />
<text x="215.7" y="322.4" font-size="3.7" text-anchor="middle" fill="#333" >64 M</text>
<line x1="215.7" y1="323" x2="215.7" y2="324.4" stroke="#666" stroke-width="0.3" />
<text x="233.6" y="322.4" font-size="3.7" text-anchor="middle" fill="#333" >70.4 M</text>
<line x1="233.6" y1="323" x2="233.6" y2="324.4" stroke="#666" stroke-width="0.3" />
<text x="250.5" y="322.4" font-size="3.7" text-anchor="middle" fill="#333" >76.8 M</text>
<line x1="250.5" y1="323" x2="250.5" y2="324.4" stroke="#666" stroke-width="0.3" />
<text x="268" y="322.4" font-size="3.7" text-anchor="middle" fill="#333" >83.2 M</text>
<line x1="268" y1="323" x2="268" y2="324.4" stroke="#666" stroke-width="0.3" />
<text x="285.4" y="322.4" font-size="3.7" text-anchor="middle" fill="#333" >89.6 M</text>
<line x1="285.4" y1="323" x2="285.4" y2="324.4" stroke="#666" stroke-width="0.3" />
<text x="302.8" y="322.4" font-size="3.7" text-anchor="middle" fill="#333" >96 M</text>
<line x1="302.8" y1="323" x2="302.8" y2="324.4" stroke="#666" stroke-width="0.3" />
<text x="320.3" y="322.4" font-size="3.7" text-anchor="middle" fill="#333" >102.4 M</text>
<line x1="320.3" y1="323" x2="320.3" y2="324.4" stroke="#666" stroke-width="0.3" />
<text x="337.8" y="322.4" font-size="3.7" text-anchor="middle" fill="#333" >108.8 M</text>
<line x1="337.8" y1="323" x2="337.8" y2="324.4" stroke="#666" stroke-width="0.3" />
<rect x="61.8" y="332" width="3.6" height="7.8" fill="#12b04c" />
<rect x="65.4" y="332" width="1" height="7.8" fill="#b8e0c8" />
<rect x="71.3" y="332" width="1.3" height="7.8" fill="#d8d8d8" />
<rect x="73" y="332" width="10.3" height="7.8" fill="#c96262" />
<rect x="87.6" y="332" width="4.4" height="7.8" fill="#ff52ff" />
<rect x="92.4" y="332" width="7.2" height="7.8" fill="#6060c4" />
<rect x="116" y="332" width="5.5" height="7.8" fill="#5464ff" />
<rect x="121.5" y="332" width="15.1" height="7.8" fill="#10b9b9" />
<rect x="140.5" y="332" width="19.6" height="7.8" fill="#ff54ff" />
<rect x="163.2" y="332" width="57.4" height="7.8" fill="#b2b260" />
<rect x="223.4" y="332" width="9.8" height="7.8" fill="#d9d9d9" />
<rect x="239" y="332" width="1.6" height="7.8" fill="#e050e0" />
<rect x="240.6" y="332" width="2.4" height="7.8" fill="#40c8e8" />
<rect x="247.2" y="332" width="7.4" height="7.8" fill="#c96262" />
<rect x="303.3" y="332" width="1.7" height="7.8" fill="#d8d8d8" />
<rect x="305" y="332" width="7.4" height="7.8" fill="#12b04c" />
<line x1="269.5" y1="332" x2="269.5" y2="339.8" stroke="#c8d4f0" stroke-width="0.5" />
<line x1="320.7" y1="332" x2="320.7" y2="339.8" stroke="#c8d4f0" stroke-width="0.5" />
<text x="191.9" y="338.4" font-size="6.2" font-weight="bold" text-anchor="middle" fill="#111" >NRCAM</text>
<text x="64.6" y="351.6" font-size="3.3" fill="#333" transform="rotate(-38 64.6 351.6)">107.6 M</text>
<line x1="64.6" y1="352.2" x2="64.6" y2="353.4" stroke="#555" stroke-width="0.3" />
<text x="82.9" y="351.6" font-size="3.3" fill="#333" transform="rotate(-38 82.9 351.6)">107.7 M</text>
<line x1="82.9" y1="352.2" x2="82.9" y2="353.4" stroke="#555" stroke-width="0.3" />
<text x="101.2" y="351.6" font-size="3.3" fill="#333" transform="rotate(-38 101.2 351.6)">107.8 M</text>
<line x1="101.2" y1="352.2" x2="101.2" y2="353.4" stroke="#555" stroke-width="0.3" />
<text x="119.5" y="351.6" font-size="3.3" fill="#333" transform="rotate(-38 119.5 351.6)">107.9 M</text>
<line x1="119.5" y1="352.2" x2="119.5" y2="353.4" stroke="#555" stroke-width="0.3" />
<text x="137.8" y="351.6" font-size="3.3" fill="#333" transform="rotate(-38 137.8 351.6)">108 M</text>
<line x1="137.8" y1="352.2" x2="137.8" y2="353.4" stroke="#555" stroke-width="0.3" />
<text x="156.1" y="351.6" font-size="3.3" fill="#333" transform="rotate(-38 156.1 351.6)">108.1 M</text>
<line x1="156.1" y1="352.2" x2="156.1" y2="353.4" stroke="#555" stroke-width="0.3" />
<text x="174.4" y="351.6" font-size="3.3" fill="#333" transform="rotate(-38 174.4 351.6)">108.2 M</text>
<line x1="174.4" y1="352.2" x2="174.4" y2="353.4" stroke="#555" stroke-width="0.3" />
<text x="192.7" y="351.6" font-size="3.3" fill="#333" transform="rotate(-38 192.7 351.6)">108.3 M</text>
<line x1="192.7" y1="352.2" x2="192.7" y2="353.4" stroke="#555" stroke-width="0.3" />
<text x="211" y="351.6" font-size="3.3" fill="#333" transform="rotate(-38 211 351.6)">108.4 M</text>
<line x1="211" y1="352.2" x2="211" y2="353.4" stroke="#555" stroke-width="0.3" />
<text x="229.3" y="351.6" font-size="3.3" fill="#333" transform="rotate(-38 229.3 351.6)">108.5 M</text>
<line x1="229.3" y1="352.2" x2="229.3" y2="353.4" stroke="#555" stroke-width="0.3" />
<text x="247.6" y="351.6" font-size="3.3" fill="#333" transform="rotate(-38 247.6 351.6)">108.6 M</text>
<line x1="247.6" y1="352.2" x2="247.6" y2="353.4" stroke="#555" stroke-width="0.3" />
<rect x="61.5" y="353.4" width="207.1" height="8.7" fill="#8ccc34" />
<rect x="61.5" y="353.4" width="3" height="8.7" fill="#dfe440" />
<rect x="66.3" y="353.4" width="3" height="8.7" fill="#6dbb34" />
<rect x="71.1" y="353.4" width="1.2" height="8.7" fill="#e8e84c" />
<rect x="73.1" y="353.4" width="3" height="8.7" fill="#dfe440" />
<rect x="78.5" y="353.4" width="2.4" height="8.7" fill="#78c234" />
<rect x="83.3" y="353.4" width="3" height="8.7" fill="#dfe440" />
<rect x="87.1" y="353.4" width="3" height="8.7" fill="#dfe440" />
<rect x="91.3" y="353.4" width="3" height="8.7" fill="#6dbb34" />
<rect x="95.1" y="353.4" width="2.4" height="8.7" fill="#cfe03a" />
<rect x="99.3" y="353.4" width="2.4" height="8.7" fill="#cfe03a" />
<rect x="102.9" y="353.4" width="1.2" height="8.7" fill="#dfe440" />
<rect x="104.4" y="353.4" width="0.8" height="8.7" fill="#e8e84c" />
<rect x="107" y="353.4" width="0.8" height="8.7" fill="#dfe440" />
<rect x="108.6" y="353.4" width="0.8" height="8.7" fill="#9cd238" />
<rect x="111.2" y="353.4" width="3" height="8.7" fill="#e8e84c" />
<rect x="115.4" y="353.4" width="1.8" height="8.7" fill="#9cd238" />
<rect x="117.5" y="353.4" width="1.2" height="8.7" fill="#dfe440" />
<rect x="119" y="353.4" width="2.4" height="8.7" fill="#6dbb34" />
<rect x="122.2" y="353.4" width="3" height="8.7" fill="#78c234" />
<rect x="127" y="353.4" width="0.8" height="8.7" fill="#84c834" />
<rect x="128.1" y="353.4" width="3" height="8.7" fill="#dfe440" />
<rect x="131.9" y="353.4" width="0.8" height="8.7" fill="#2a8f8a" />
<rect x="135.1" y="353.4" width="1.6" height="8.7" fill="#1f8f9c" />
<rect x="137.5" y="353.4" width="1.2" height="8.7" fill="#2a8f8a" />
<rect x="141.1" y="353.4" width="1" height="8.7" fill="#157a8c" />
<rect x="142.4" y="353.4" width="0.6" height="8.7" fill="#4fb03a" />
<rect x="143.8" y="353.4" width="0.6" height="8.7" fill="#2a9a6a" />
<rect x="146.8" y="353.4" width="1.2" height="8.7" fill="#4fb03a" />
<rect x="149.8" y="353.4" width="1.6" height="8.7" fill="#157a8c" />
<rect x="152.2" y="353.4" width="0.8" height="8.7" fill="#1f8f9c" />
<rect x="155.4" y="353.4" width="0.8" height="8.7" fill="#1f8f9c" />
<rect x="158.6" y="353.4" width="0.8" height="8.7" fill="#157a8c" />
<rect x="161.2" y="353.4" width="1.6" height="8.7" fill="#1b6fb0" />
<rect x="163.1" y="353.4" width="0.6" height="8.7" fill="#2a9a6a" />
<rect x="164.5" y="353.4" width="1.2" height="8.7" fill="#2a8f8a" />
<rect x="168.1" y="353.4" width="1.2" height="8.7" fill="#1f8f9c" />
<rect x="169.6" y="353.4" width="0.8" height="8.7" fill="#4fb03a" />
<rect x="172.8" y="353.4" width="1.6" height="8.7" fill="#1f8f9c" />
<rect x="175.2" y="353.4" width="0.6" height="8.7" fill="#157a8c" />
<rect x="177.6" y="353.4" width="0.8" height="8.7" fill="#1f8f9c" />
<rect x="179.6" y="353.4" width="1" height="8.7" fill="#1f8f9c" />
<rect x="180.9" y="353.4" width="1" height="8.7" fill="#157a8c" />
<rect x="183.1" y="353.4" width="1.6" height="8.7" fill="#1f8f9c" />
<rect x="187.1" y="353.4" width="0.6" height="8.7" fill="#157a8c" />
<rect x="188.9" y="353.4" width="1" height="8.7" fill="#1b6fb0" />
<rect x="192.3" y="353.4" width="0.6" height="8.7" fill="#1b6fb0" />
<rect x="194.1" y="353.4" width="1" height="8.7" fill="#1b6fb0" />
<rect x="195.4" y="353.4" width="1.2" height="8.7" fill="#1b6fb0" />
<rect x="196.9" y="353.4" width="0.8" height="8.7" fill="#2a9a6a" />
<rect x="198.9" y="353.4" width="0.6" height="8.7" fill="#1b6fb0" />
<rect x="201.3" y="353.4" width="0.6" height="8.7" fill="#4fb03a" />
<rect x="202.2" y="353.4" width="1.6" height="8.7" fill="#157a8c" />
<rect x="206.2" y="353.4" width="0.6" height="8.7" fill="#1b6fb0" />
<rect x="207.1" y="353.4" width="0.6" height="8.7" fill="#157a8c" />
<rect x="208.9" y="353.4" width="1.2" height="8.7" fill="#1b6fb0" />
<rect x="212.5" y="353.4" width="1.2" height="8.7" fill="#2a8f8a" />
<rect x="216.1" y="353.4" width="3" height="8.7" fill="#dfe440" />
<rect x="220.3" y="353.4" width="0.8" height="8.7" fill="#84c834" />
<rect x="221.4" y="353.4" width="3" height="8.7" fill="#dfe440" />
<rect x="225.6" y="353.4" width="1.8" height="8.7" fill="#84c834" />
<rect x="229.8" y="353.4" width="1.8" height="8.7" fill="#dfe440" />
<rect x="233.4" y="353.4" width="1.8" height="8.7" fill="#e8e84c" />
<rect x="236" y="353.4" width="1.2" height="8.7" fill="#9cd238" />
<rect x="238" y="353.4" width="1.8" height="8.7" fill="#78c234" />
<rect x="241.6" y="353.4" width="0.8" height="8.7" fill="#e8e84c" />
<rect x="243.2" y="353.4" width="2.4" height="8.7" fill="#84c834" />
<rect x="247.4" y="353.4" width="3" height="8.7" fill="#b4d838" />
<rect x="252.8" y="353.4" width="1.8" height="8.7" fill="#dfe440" />
<rect x="255.8" y="353.4" width="0.8" height="8.7" fill="#e8e84c" />
<rect x="259" y="353.4" width="1.8" height="8.7" fill="#dfe440" />
<rect x="261.6" y="353.4" width="2.4" height="8.7" fill="#e8e84c" />
<rect x="264.8" y="353.4" width="0.8" height="8.7" fill="#cfe03a" />
<rect x="267.4" y="353.4" width="3" height="8.7" fill="#b4d838" />
<line x1="131.6" y1="362.1" x2="131.6" y2="443.5" stroke="#d6d6d6" stroke-width="1.5" />
<rect x="130.8" y="353.4" width="1.6" height="8.7" fill="#1b7fa6" />
<line x1="134.2" y1="362.1" x2="134.2" y2="443.5" stroke="#d6d6d6" stroke-width="1.5" />
<rect x="133.4" y="353.4" width="1.6" height="8.7" fill="#135f9e" />
<line x1="136.8" y1="362.1" x2="136.8" y2="443.5" stroke="#d6d6d6" stroke-width="1.5" />
<rect x="136" y="353.4" width="1.6" height="8.7" fill="#1766ae" />
<line x1="140.2" y1="362.1" x2="140.2" y2="443.5" stroke="#d6d6d6" stroke-width="1.5" />
<rect x="139.4" y="353.4" width="1.6" height="8.7" fill="#1766ae" />
<line x1="143.2" y1="362.1" x2="143.2" y2="443.5" stroke="#d6d6d6" stroke-width="1.5" />
<rect x="142.4" y="353.4" width="1.6" height="8.7" fill="#22998a" />
<line x1="145.8" y1="362.1" x2="145.8" y2="443.5" stroke="#d6d6d6" stroke-width="1.5" />
<rect x="145" y="353.4" width="1.6" height="8.7" fill="#22998a" />
<line x1="148" y1="362.1" x2="148" y2="443.5" stroke="#d6d6d6" stroke-width="1.5" />
<rect x="147.2" y="353.4" width="1.6" height="8.7" fill="#135f9e" />
<line x1="151.4" y1="362.1" x2="151.4" y2="443.5" stroke="#d6d6d6" stroke-width="1.5" />
<rect x="150.6" y="353.4" width="1.6" height="8.7" fill="#22998a" />
<line x1="155.6" y1="362.1" x2="155.6" y2="443.5" stroke="#d6d6d6" stroke-width="1.5" />
<rect x="154.8" y="353.4" width="1.6" height="8.7" fill="#1f8f9c" />
<line x1="157.8" y1="362.1" x2="157.8" y2="443.5" stroke="#d6d6d6" stroke-width="1.5" />
<rect x="157" y="353.4" width="1.6" height="8.7" fill="#1766ae" />
<line x1="160.4" y1="362.1" x2="160.4" y2="443.5" stroke="#d6d6d6" stroke-width="1.5" />
<rect x="159.6" y="353.4" width="1.6" height="8.7" fill="#1f8f9c" />
<line x1="163" y1="362.1" x2="163" y2="443.5" stroke="#d6d6d6" stroke-width="1.5" />
<rect x="162.2" y="353.4" width="1.6" height="8.7" fill="#135f9e" />
<line x1="166" y1="362.1" x2="166" y2="443.5" stroke="#d6d6d6" stroke-width="1.5" />
<rect x="165.2" y="353.4" width="1.6" height="8.7" fill="#1b7fa6" />
<line x1="169" y1="362.1" x2="169" y2="443.5" stroke="#d6d6d6" stroke-width="1.5" />
<rect x="168.2" y="353.4" width="1.6" height="8.7" fill="#1766ae" />
<line x1="173.2" y1="362.1" x2="173.2" y2="443.5" stroke="#d6d6d6" stroke-width="1.5" />
<rect x="172.4" y="353.4" width="1.6" height="8.7" fill="#135f9e" />
<line x1="177.4" y1="362.1" x2="177.4" y2="443.5" stroke="#d6d6d6" stroke-width="1.5" />
<rect x="176.6" y="353.4" width="1.6" height="8.7" fill="#135f9e" />
<line x1="181.6" y1="362.1" x2="181.6" y2="443.5" stroke="#d6d6d6" stroke-width="1.5" />
<rect x="180.8" y="353.4" width="1.6" height="8.7" fill="#135f9e" />
<line x1="185.8" y1="362.1" x2="185.8" y2="443.5" stroke="#d6d6d6" stroke-width="1.5" />
<rect x="185" y="353.4" width="1.6" height="8.7" fill="#1766ae" />
<line x1="188.4" y1="362.1" x2="188.4" y2="443.5" stroke="#d6d6d6" stroke-width="1.5" />
<rect x="187.6" y="353.4" width="1.6" height="8.7" fill="#1b7fa6" />
<line x1="191.8" y1="362.1" x2="191.8" y2="443.5" stroke="#d6d6d6" stroke-width="1.5" />
<rect x="191" y="353.4" width="1.6" height="8.7" fill="#1b7fa6" />
<line x1="194.4" y1="362.1" x2="194.4" y2="443.5" stroke="#d6d6d6" stroke-width="1.5" />
<rect x="193.6" y="353.4" width="1.6" height="8.7" fill="#1766ae" />
<line x1="196.6" y1="362.1" x2="196.6" y2="443.5" stroke="#d6d6d6" stroke-width="1.5" />
<rect x="195.8" y="353.4" width="1.6" height="8.7" fill="#1766ae" />
<line x1="200" y1="362.1" x2="200" y2="443.5" stroke="#d6d6d6" stroke-width="1.5" />
<rect x="199.2" y="353.4" width="1.6" height="8.7" fill="#1f8f9c" />
<line x1="203.4" y1="362.1" x2="203.4" y2="443.5" stroke="#d6d6d6" stroke-width="1.5" />
<rect x="202.6" y="353.4" width="1.6" height="8.7" fill="#22998a" />
<line x1="206" y1="362.1" x2="206" y2="443.5" stroke="#d6d6d6" stroke-width="1.5" />
<rect x="205.2" y="353.4" width="1.6" height="8.7" fill="#1f8f9c" />
<line x1="209.4" y1="362.1" x2="209.4" y2="443.5" stroke="#d6d6d6" stroke-width="1.5" />
<rect x="208.6" y="353.4" width="1.6" height="8.7" fill="#1f8f9c" />
<rect x="130.5" y="369.3" width="82" height="7.5" fill="#25aee6" />
<path d="M130.5 373.2 Q150 372.6 171 370.8 Q192 372.6 212.5 373.2 V376.8 H130.5 Z" fill="#0f86c0"/>
<line x1="131.6" y1="369.3" x2="131.6" y2="376.8" stroke="#0b5fa8" stroke-width="0.7" opacity="0.75"/>
<line x1="134.2" y1="369.3" x2="134.2" y2="376.8" stroke="#0b5fa8" stroke-width="0.7" opacity="0.75"/>
<line x1="136.8" y1="369.3" x2="136.8" y2="376.8" stroke="#0b5fa8" stroke-width="0.7" opacity="0.75"/>
<line x1="140.2" y1="369.3" x2="140.2" y2="376.8" stroke="#0b5fa8" stroke-width="0.7" opacity="0.75"/>
<line x1="143.2" y1="369.3" x2="143.2" y2="376.8" stroke="#0b5fa8" stroke-width="0.7" opacity="0.75"/>
<line x1="145.8" y1="369.3" x2="145.8" y2="376.8" stroke="#0b5fa8" stroke-width="0.7" opacity="0.75"/>
<line x1="148" y1="369.3" x2="148" y2="376.8" stroke="#0b5fa8" stroke-width="0.7" opacity="0.75"/>
<line x1="151.4" y1="369.3" x2="151.4" y2="376.8" stroke="#0b5fa8" stroke-width="0.7" opacity="0.75"/>
<line x1="155.6" y1="369.3" x2="155.6" y2="376.8" stroke="#0b5fa8" stroke-width="0.7" opacity="0.75"/>
<line x1="157.8" y1="369.3" x2="157.8" y2="376.8" stroke="#0b5fa8" stroke-width="0.7" opacity="0.75"/>
<line x1="160.4" y1="369.3" x2="160.4" y2="376.8" stroke="#0b5fa8" stroke-width="0.7" opacity="0.75"/>
<line x1="163" y1="369.3" x2="163" y2="376.8" stroke="#0b5fa8" stroke-width="0.7" opacity="0.75"/>
<line x1="166" y1="369.3" x2="166" y2="376.8" stroke="#0b5fa8" stroke-width="0.7" opacity="0.75"/>
<line x1="169" y1="369.3" x2="169" y2="376.8" stroke="#0b5fa8" stroke-width="0.7" opacity="0.75"/>
<line x1="173.2" y1="369.3" x2="173.2" y2="376.8" stroke="#0b5fa8" stroke-width="0.7" opacity="0.75"/>
<line x1="177.4" y1="369.3" x2="177.4" y2="376.8" stroke="#0b5fa8" stroke-width="0.7" opacity="0.75"/>
<line x1="181.6" y1="369.3" x2="181.6" y2="376.8" stroke="#0b5fa8" stroke-width="0.7" opacity="0.75"/>
<line x1="185.8" y1="369.3" x2="185.8" y2="376.8" stroke="#0b5fa8" stroke-width="0.7" opacity="0.75"/>
<line x1="188.4" y1="369.3" x2="188.4" y2="376.8" stroke="#0b5fa8" stroke-width="0.7" opacity="0.75"/>
<line x1="191.8" y1="369.3" x2="191.8" y2="376.8" stroke="#0b5fa8" stroke-width="0.7" opacity="0.75"/>
<line x1="194.4" y1="369.3" x2="194.4" y2="376.8" stroke="#0b5fa8" stroke-width="0.7" opacity="0.75"/>
<line x1="196.6" y1="369.3" x2="196.6" y2="376.8" stroke="#0b5fa8" stroke-width="0.7" opacity="0.75"/>
<line x1="200" y1="369.3" x2="200" y2="376.8" stroke="#0b5fa8" stroke-width="0.7" opacity="0.75"/>
<line x1="203.4" y1="369.3" x2="203.4" y2="376.8" stroke="#0b5fa8" stroke-width="0.7" opacity="0.75"/>
<line x1="206" y1="369.3" x2="206" y2="376.8" stroke="#0b5fa8" stroke-width="0.7" opacity="0.75"/>
<line x1="209.4" y1="369.3" x2="209.4" y2="376.8" stroke="#0b5fa8" stroke-width="0.7" opacity="0.75"/>
<line x1="110.9" y1="386.1" x2="130.5" y2="386.1" stroke="#f5bd1e" stroke-width="0.6" />
<line x1="212.5" y1="386.1" x2="232" y2="386.1" stroke="#f5bd1e" stroke-width="0.6" />
<line x1="130.5" y1="386.1" x2="212.5" y2="386.1" stroke="#f7d77a" stroke-width="0.4" />
<text x="110.9" y="385.8" font-size="2.6" fill="#f2b40a" textLength="18.1" lengthAdjust="spacingAndGlyphs">1,2,5,6,8,9,10</text>
<text x="213.5" y="385.8" font-size="2.6" fill="#f2b40a" textLength="18" lengthAdjust="spacingAndGlyphs">1,2,3,5,8,9,11</text>
<rect x="136.15" y="383.7" width="1.3" height="2.9" fill="#2f70d6" />
<rect x="139.55" y="383.7" width="1.3" height="2.9" fill="#2f70d6" />
<rect x="142.55" y="383.7" width="1.3" height="2.9" fill="#2f70d6" />
<rect x="145.15" y="383.7" width="1.3" height="2.9" fill="#2f70d6" />
<rect x="147.35" y="383.7" width="1.3" height="2.9" fill="#2f70d6" />
<rect x="150.75" y="383.7" width="1.3" height="2.9" fill="#2f70d6" />
<rect x="154.95" y="383.7" width="1.3" height="2.9" fill="#2f70d6" />
<rect x="159.75" y="383.7" width="1.3" height="2.9" fill="#2f70d6" />
<rect x="162.35" y="383.7" width="1.3" height="2.9" fill="#2f70d6" />
<rect x="165.35" y="383.7" width="1.3" height="2.9" fill="#2f70d6" />
<rect x="168.35" y="383.7" width="1.3" height="2.9" fill="#2f70d6" />
<rect x="172.55" y="383.7" width="1.3" height="2.9" fill="#2f70d6" />
<rect x="176.75" y="383.7" width="1.3" height="2.9" fill="#2f70d6" />
<rect x="180.95" y="383.7" width="1.3" height="2.9" fill="#2f70d6" />
<rect x="185.15" y="383.7" width="1.3" height="2.9" fill="#2f70d6" />
<rect x="187.75" y="383.7" width="1.3" height="2.9" fill="#2f70d6" />
<rect x="193.75" y="383.7" width="1.3" height="2.9" fill="#2f70d6" />
<rect x="199.35" y="383.7" width="1.3" height="2.9" fill="#2f70d6" />
<rect x="205.35" y="383.7" width="1.3" height="2.9" fill="#2f70d6" />
<rect x="208.75" y="383.7" width="1.3" height="2.9" fill="#2f70d6" />
<line x1="114.2" y1="389.86" x2="130.5" y2="389.86" stroke="#f5bd1e" stroke-width="0.6" />
<line x1="212.5" y1="389.86" x2="265" y2="389.86" stroke="#f5bd1e" stroke-width="0.6" />
<line x1="130.5" y1="389.86" x2="212.5" y2="389.86" stroke="#f7d77a" stroke-width="0.4" />
<text x="114.2" y="389.56" font-size="2.6" fill="#f2b40a" textLength="14.8" lengthAdjust="spacingAndGlyphs">1,2,5,6,8,9,10</text>
<text x="213.5" y="389.56" font-size="2.6" fill="#f2b40a" textLength="22" lengthAdjust="spacingAndGlyphs">1,2,3,5,8,9,11</text>
<rect x="130.95" y="387.46" width="1.3" height="2.9" fill="#2f70d6" />
<rect x="133.55" y="387.46" width="1.3" height="2.9" fill="#2f70d6" />
<rect x="136.15" y="387.46" width="1.3" height="2.9" fill="#2f70d6" />
<rect x="139.55" y="387.46" width="1.3" height="2.9" fill="#2f70d6" />
<rect x="142.55" y="387.46" width="1.3" height="2.9" fill="#2f70d6" />
<rect x="147.35" y="387.46" width="1.3" height="2.9" fill="#2f70d6" />
<rect x="150.75" y="387.46" width="1.3" height="2.9" fill="#2f70d6" />
<rect x="154.95" y="387.46" width="1.3" height="2.9" fill="#2f70d6" />
<rect x="162.35" y="387.46" width="1.3" height="2.9" fill="#2f70d6" />
<rect x="172.55" y="387.46" width="1.3" height="2.9" fill="#2f70d6" />
<rect x="176.75" y="387.46" width="1.3" height="2.9" fill="#2f70d6" />
<rect x="180.95" y="387.46" width="1.3" height="2.9" fill="#2f70d6" />
<rect x="185.15" y="387.46" width="1.3" height="2.9" fill="#2f70d6" />
<rect x="187.75" y="387.46" width="1.3" height="2.9" fill="#2f70d6" />
<rect x="191.15" y="387.46" width="1.3" height="2.9" fill="#2f70d6" />
<rect x="193.75" y="387.46" width="1.3" height="2.9" fill="#2f70d6" />
<rect x="199.35" y="387.46" width="1.3" height="2.9" fill="#2f70d6" />
<rect x="202.75" y="387.46" width="1.3" height="2.9" fill="#2f70d6" />
<rect x="208.75" y="387.46" width="1.3" height="2.9" fill="#2f70d6" />
<line x1="125" y1="393.62" x2="130.5" y2="393.62" stroke="#f5bd1e" stroke-width="0.6" />
<line x1="212.5" y1="393.62" x2="228" y2="393.62" stroke="#f5bd1e" stroke-width="0.6" />
<line x1="130.5" y1="393.62" x2="212.5" y2="393.62" stroke="#f7d77a" stroke-width="0.4" />
<text x="125" y="393.32" font-size="2.6" fill="#f2b40a" textLength="4" lengthAdjust="spacingAndGlyphs">1,2,5,6,8,9,10</text>
<text x="213.5" y="393.32" font-size="2.6" fill="#f2b40a" textLength="14" lengthAdjust="spacingAndGlyphs">1,2,3,5,8,9,11</text>
<rect x="130.95" y="391.22" width="1.3" height="2.9" fill="#2f70d6" />
<rect x="133.55" y="391.22" width="1.3" height="2.9" fill="#2f70d6" />
<rect x="136.15" y="391.22" width="1.3" height="2.9" fill="#2f70d6" />
<rect x="139.55" y="391.22" width="1.3" height="2.9" fill="#2f70d6" />
<rect x="142.55" y="391.22" width="1.3" height="2.9" fill="#2f70d6" />
<rect x="150.75" y="391.22" width="1.3" height="2.9" fill="#2f70d6" />
<rect x="154.95" y="391.22" width="1.3" height="2.9" fill="#2f70d6" />
<rect x="157.15" y="391.22" width="1.3" height="2.9" fill="#2f70d6" />
<rect x="159.75" y="391.22" width="1.3" height="2.9" fill="#2f70d6" />
<rect x="168.35" y="391.22" width="1.3" height="2.9" fill="#2f70d6" />
<rect x="172.55" y="391.22" width="1.3" height="2.9" fill="#2f70d6" />
<rect x="176.75" y="391.22" width="1.3" height="2.9" fill="#2f70d6" />
<rect x="180.95" y="391.22" width="1.3" height="2.9" fill="#2f70d6" />
<rect x="187.75" y="391.22" width="1.3" height="2.9" fill="#2f70d6" />
<rect x="191.15" y="391.22" width="1.3" height="2.9" fill="#2f70d6" />
<rect x="193.75" y="391.22" width="1.3" height="2.9" fill="#2f70d6" />
<rect x="195.95" y="391.22" width="1.3" height="2.9" fill="#2f70d6" />
<rect x="199.35" y="391.22" width="1.3" height="2.9" fill="#2f70d6" />
<rect x="202.75" y="391.22" width="1.3" height="2.9" fill="#2f70d6" />
<rect x="205.35" y="391.22" width="1.3" height="2.9" fill="#2f70d6" />
<rect x="208.75" y="391.22" width="1.3" height="2.9" fill="#2f70d6" />
<line x1="107.6" y1="397.38" x2="130.5" y2="397.38" stroke="#f5bd1e" stroke-width="0.6" />
<line x1="212.5" y1="397.38" x2="240" y2="397.38" stroke="#f5bd1e" stroke-width="0.6" />
<line x1="130.5" y1="397.38" x2="212.5" y2="397.38" stroke="#f7d77a" stroke-width="0.4" />
<text x="107.6" y="397.08" font-size="2.6" fill="#f2b40a" textLength="20" lengthAdjust="spacingAndGlyphs">1,2,5,6,8,9,10</text>
<text x="213.5" y="397.08" font-size="2.6" fill="#f2b40a" textLength="22" lengthAdjust="spacingAndGlyphs">1,2,3,5,8,9,11</text>
<rect x="130.95" y="394.98" width="1.3" height="2.9" fill="#2f70d6" />
<rect x="133.55" y="394.98" width="1.3" height="2.9" fill="#2f70d6" />
<rect x="136.15" y="394.98" width="1.3" height="2.9" fill="#2f70d6" />
<rect x="139.55" y="394.98" width="1.3" height="2.9" fill="#2f70d6" />
<rect x="142.55" y="394.98" width="1.3" height="2.9" fill="#2f70d6" />
<rect x="145.15" y="394.98" width="1.3" height="2.9" fill="#2f70d6" />
<rect x="147.35" y="394.98" width="1.3" height="2.9" fill="#2f70d6" />
<rect x="150.75" y="394.98" width="1.3" height="2.9" fill="#2f70d6" />
<rect x="154.95" y="394.98" width="1.3" height="2.9" fill="#2f70d6" />
<rect x="157.15" y="394.98" width="1.3" height="2.9" fill="#2f70d6" />
<rect x="159.75" y="394.98" width="1.3" height="2.9" fill="#2f70d6" />
<rect x="162.35" y="394.98" width="1.3" height="2.9" fill="#2f70d6" />
<rect x="165.35" y="394.98" width="1.3" height="2.9" fill="#2f70d6" />
<rect x="168.35" y="394.98" width="1.3" height="2.9" fill="#2f70d6" />
<rect x="172.55" y="394.98" width="1.3" height="2.9" fill="#2f70d6" />
<rect x="176.75" y="394.98" width="1.3" height="2.9" fill="#2f70d6" />
<rect x="180.95" y="394.98" width="1.3" height="2.9" fill="#2f70d6" />
<rect x="187.75" y="394.98" width="1.3" height="2.9" fill="#2f70d6" />
<rect x="193.75" y="394.98" width="1.3" height="2.9" fill="#2f70d6" />
<rect x="195.95" y="394.98" width="1.3" height="2.9" fill="#2f70d6" />
<rect x="205.35" y="394.98" width="1.3" height="2.9" fill="#2f70d6" />
<rect x="208.75" y="394.98" width="1.3" height="2.9" fill="#2f70d6" />
<line x1="121.8" y1="401.14" x2="130.5" y2="401.14" stroke="#f5bd1e" stroke-width="0.6" />
<line x1="212.5" y1="401.14" x2="246" y2="401.14" stroke="#f5bd1e" stroke-width="0.6" />
<line x1="130.5" y1="401.14" x2="212.5" y2="401.14" stroke="#f7d77a" stroke-width="0.4" />
<text x="121.8" y="400.84" font-size="2.6" fill="#f2b40a" textLength="7.2" lengthAdjust="spacingAndGlyphs">1,2,5,6,8,9,10</text>
<text x="213.5" y="400.84" font-size="2.6" fill="#f2b40a" textLength="22" lengthAdjust="spacingAndGlyphs">1,2,3,5,8,9,11</text>
<rect x="133.55" y="398.74" width="1.3" height="2.9" fill="#2f70d6" />
<rect x="142.55" y="398.74" width="1.3" height="2.9" fill="#2f70d6" />
<rect x="145.15" y="398.74" width="1.3" height="2.9" fill="#2f70d6" />
<rect x="147.35" y="398.74" width="1.3" height="2.9" fill="#2f70d6" />
<rect x="150.75" y="398.74" width="1.3" height="2.9" fill="#2f70d6" />
<rect x="154.95" y="398.74" width="1.3" height="2.9" fill="#2f70d6" />
<rect x="159.75" y="398.74" width="1.3" height="2.9" fill="#2f70d6" />
<rect x="162.35" y="398.74" width="1.3" height="2.9" fill="#2f70d6" />
<rect x="165.35" y="398.74" width="1.3" height="2.9" fill="#2f70d6" />
<rect x="168.35" y="398.74" width="1.3" height="2.9" fill="#2f70d6" />
<rect x="172.55" y="398.74" width="1.3" height="2.9" fill="#2f70d6" />
<rect x="176.75" y="398.74" width="1.3" height="2.9" fill="#2f70d6" />
<rect x="180.95" y="398.74" width="1.3" height="2.9" fill="#2f70d6" />
<rect x="185.15" y="398.74" width="1.3" height="2.9" fill="#2f70d6" />
<rect x="193.75" y="398.74" width="1.3" height="2.9" fill="#2f70d6" />
<rect x="195.95" y="398.74" width="1.3" height="2.9" fill="#2f70d6" />
<rect x="199.35" y="398.74" width="1.3" height="2.9" fill="#2f70d6" />
<rect x="202.75" y="398.74" width="1.3" height="2.9" fill="#2f70d6" />
<rect x="205.35" y="398.74" width="1.3" height="2.9" fill="#2f70d6" />
<rect x="208.75" y="398.74" width="1.3" height="2.9" fill="#2f70d6" />
<line x1="128.4" y1="404.9" x2="130.5" y2="404.9" stroke="#f5bd1e" stroke-width="0.6" />
<line x1="212.5" y1="404.9" x2="224" y2="404.9" stroke="#f5bd1e" stroke-width="0.6" />
<line x1="130.5" y1="404.9" x2="212.5" y2="404.9" stroke="#f7d77a" stroke-width="0.4" />
<text x="213.5" y="404.6" font-size="2.6" fill="#f2b40a" textLength="10" lengthAdjust="spacingAndGlyphs">1,2,3,5,8,9,11</text>
<rect x="130.95" y="402.5" width="1.3" height="2.9" fill="#2f70d6" />
<rect x="133.55" y="402.5" width="1.3" height="2.9" fill="#2f70d6" />
<rect x="136.15" y="402.5" width="1.3" height="2.9" fill="#2f70d6" />
<rect x="139.55" y="402.5" width="1.3" height="2.9" fill="#2f70d6" />
<rect x="142.55" y="402.5" width="1.3" height="2.9" fill="#2f70d6" />
<rect x="145.15" y="402.5" width="1.3" height="2.9" fill="#2f70d6" />
<rect x="147.35" y="402.5" width="1.3" height="2.9" fill="#2f70d6" />
<rect x="150.75" y="402.5" width="1.3" height="2.9" fill="#2f70d6" />
<rect x="154.95" y="402.5" width="1.3" height="2.9" fill="#2f70d6" />
<rect x="165.35" y="402.5" width="1.3" height="2.9" fill="#2f70d6" />
<rect x="168.35" y="402.5" width="1.3" height="2.9" fill="#2f70d6" />
<rect x="176.75" y="402.5" width="1.3" height="2.9" fill="#2f70d6" />
<rect x="180.95" y="402.5" width="1.3" height="2.9" fill="#2f70d6" />
<rect x="185.15" y="402.5" width="1.3" height="2.9" fill="#2f70d6" />
<rect x="187.75" y="402.5" width="1.3" height="2.9" fill="#2f70d6" />
<rect x="191.15" y="402.5" width="1.3" height="2.9" fill="#2f70d6" />
<rect x="193.75" y="402.5" width="1.3" height="2.9" fill="#2f70d6" />
<rect x="195.95" y="402.5" width="1.3" height="2.9" fill="#2f70d6" />
<rect x="199.35" y="402.5" width="1.3" height="2.9" fill="#2f70d6" />
<rect x="202.75" y="402.5" width="1.3" height="2.9" fill="#2f70d6" />
<rect x="208.75" y="402.5" width="1.3" height="2.9" fill="#2f70d6" />
<line x1="121.8" y1="408.66" x2="130.5" y2="408.66" stroke="#f5bd1e" stroke-width="0.6" />
<line x1="212.5" y1="408.66" x2="236" y2="408.66" stroke="#f5bd1e" stroke-width="0.6" />
<line x1="130.5" y1="408.66" x2="212.5" y2="408.66" stroke="#f7d77a" stroke-width="0.4" />
<text x="121.8" y="408.36" font-size="2.6" fill="#f2b40a" textLength="7.2" lengthAdjust="spacingAndGlyphs">1,2,5,6,8,9,10</text>
<text x="213.5" y="408.36" font-size="2.6" fill="#f2b40a" textLength="22" lengthAdjust="spacingAndGlyphs">1,2,3,5,8,9,11</text>
<rect x="130.95" y="406.26" width="1.3" height="2.9" fill="#2f70d6" />
<rect x="133.55" y="406.26" width="1.3" height="2.9" fill="#2f70d6" />
<rect x="136.15" y="406.26" width="1.3" height="2.9" fill="#2f70d6" />
<rect x="139.55" y="406.26" width="1.3" height="2.9" fill="#2f70d6" />
<rect x="142.55" y="406.26" width="1.3" height="2.9" fill="#2f70d6" />
<rect x="145.15" y="406.26" width="1.3" height="2.9" fill="#2f70d6" />
<rect x="147.35" y="406.26" width="1.3" height="2.9" fill="#2f70d6" />
<rect x="157.15" y="406.26" width="1.3" height="2.9" fill="#2f70d6" />
<rect x="162.35" y="406.26" width="1.3" height="2.9" fill="#2f70d6" />
<rect x="165.35" y="406.26" width="1.3" height="2.9" fill="#2f70d6" />
<rect x="168.35" y="406.26" width="1.3" height="2.9" fill="#2f70d6" />
<rect x="172.55" y="406.26" width="1.3" height="2.9" fill="#2f70d6" />
<rect x="185.15" y="406.26" width="1.3" height="2.9" fill="#2f70d6" />
<rect x="191.15" y="406.26" width="1.3" height="2.9" fill="#2f70d6" />
<rect x="193.75" y="406.26" width="1.3" height="2.9" fill="#2f70d6" />
<rect x="199.35" y="406.26" width="1.3" height="2.9" fill="#2f70d6" />
<rect x="208.75" y="406.26" width="1.3" height="2.9" fill="#2f70d6" />
<line x1="117.5" y1="412.42" x2="130.5" y2="412.42" stroke="#f5bd1e" stroke-width="0.6" />
<line x1="212.5" y1="412.42" x2="231" y2="412.42" stroke="#f5bd1e" stroke-width="0.6" />
<line x1="130.5" y1="412.42" x2="212.5" y2="412.42" stroke="#f7d77a" stroke-width="0.4" />
<text x="117.5" y="412.12" font-size="2.6" fill="#f2b40a" textLength="11.5" lengthAdjust="spacingAndGlyphs">1,2,5,6,8,9,10</text>
<text x="213.5" y="412.12" font-size="2.6" fill="#f2b40a" textLength="17" lengthAdjust="spacingAndGlyphs">1,2,3,5,8,9,11</text>
<rect x="130.95" y="410.02" width="1.3" height="2.9" fill="#2f70d6" />
<rect x="133.55" y="410.02" width="1.3" height="2.9" fill="#2f70d6" />
<rect x="136.15" y="410.02" width="1.3" height="2.9" fill="#2f70d6" />
<rect x="139.55" y="410.02" width="1.3" height="2.9" fill="#2f70d6" />
<rect x="142.55" y="410.02" width="1.3" height="2.9" fill="#2f70d6" />
<rect x="145.15" y="410.02" width="1.3" height="2.9" fill="#2f70d6" />
<rect x="147.35" y="410.02" width="1.3" height="2.9" fill="#2f70d6" />
<rect x="150.75" y="410.02" width="1.3" height="2.9" fill="#2f70d6" />
<rect x="154.95" y="410.02" width="1.3" height="2.9" fill="#2f70d6" />
<rect x="157.15" y="410.02" width="1.3" height="2.9" fill="#2f70d6" />
<rect x="159.75" y="410.02" width="1.3" height="2.9" fill="#2f70d6" />
<rect x="162.35" y="410.02" width="1.3" height="2.9" fill="#2f70d6" />
<rect x="168.35" y="410.02" width="1.3" height="2.9" fill="#2f70d6" />
<rect x="172.55" y="410.02" width="1.3" height="2.9" fill="#2f70d6" />
<rect x="176.75" y="410.02" width="1.3" height="2.9" fill="#2f70d6" />
<rect x="180.95" y="410.02" width="1.3" height="2.9" fill="#2f70d6" />
<rect x="185.15" y="410.02" width="1.3" height="2.9" fill="#2f70d6" />
<rect x="187.75" y="410.02" width="1.3" height="2.9" fill="#2f70d6" />
<rect x="193.75" y="410.02" width="1.3" height="2.9" fill="#2f70d6" />
<rect x="195.95" y="410.02" width="1.3" height="2.9" fill="#2f70d6" />
<rect x="199.35" y="410.02" width="1.3" height="2.9" fill="#2f70d6" />
<rect x="205.35" y="410.02" width="1.3" height="2.9" fill="#2f70d6" />
<rect x="208.75" y="410.02" width="1.3" height="2.9" fill="#2f70d6" />
<line x1="104.4" y1="416.18" x2="130.5" y2="416.18" stroke="#f5bd1e" stroke-width="0.6" />
<line x1="212.5" y1="416.18" x2="244" y2="416.18" stroke="#f5bd1e" stroke-width="0.6" />
<line x1="130.5" y1="416.18" x2="212.5" y2="416.18" stroke="#f7d77a" stroke-width="0.4" />
<text x="104.4" y="415.88" font-size="2.6" fill="#f2b40a" textLength="20" lengthAdjust="spacingAndGlyphs">1,2,5,6,8,9,10</text>
<text x="213.5" y="415.88" font-size="2.6" fill="#f2b40a" textLength="22" lengthAdjust="spacingAndGlyphs">1,2,3,5,8,9,11</text>
<rect x="130.95" y="413.78" width="1.3" height="2.9" fill="#2f70d6" />
<rect x="133.55" y="413.78" width="1.3" height="2.9" fill="#2f70d6" />
<rect x="136.15" y="413.78" width="1.3" height="2.9" fill="#2f70d6" />
<rect x="139.55" y="413.78" width="1.3" height="2.9" fill="#2f70d6" />
<rect x="142.55" y="413.78" width="1.3" height="2.9" fill="#2f70d6" />
<rect x="145.15" y="413.78" width="1.3" height="2.9" fill="#2f70d6" />
<rect x="147.35" y="413.78" width="1.3" height="2.9" fill="#2f70d6" />
<rect x="150.75" y="413.78" width="1.3" height="2.9" fill="#2f70d6" />
<rect x="157.15" y="413.78" width="1.3" height="2.9" fill="#2f70d6" />
<rect x="159.75" y="413.78" width="1.3" height="2.9" fill="#2f70d6" />
<rect x="165.35" y="413.78" width="1.3" height="2.9" fill="#2f70d6" />
<rect x="172.55" y="413.78" width="1.3" height="2.9" fill="#2f70d6" />
<rect x="180.95" y="413.78" width="1.3" height="2.9" fill="#2f70d6" />
<rect x="185.15" y="413.78" width="1.3" height="2.9" fill="#2f70d6" />
<rect x="187.75" y="413.78" width="1.3" height="2.9" fill="#2f70d6" />
<rect x="191.15" y="413.78" width="1.3" height="2.9" fill="#2f70d6" />
<rect x="195.95" y="413.78" width="1.3" height="2.9" fill="#2f70d6" />
<rect x="199.35" y="413.78" width="1.3" height="2.9" fill="#2f70d6" />
<rect x="202.75" y="413.78" width="1.3" height="2.9" fill="#2f70d6" />
<rect x="205.35" y="413.78" width="1.3" height="2.9" fill="#2f70d6" />
<rect x="208.75" y="413.78" width="1.3" height="2.9" fill="#2f70d6" />
<line x1="128.5" y1="419.94" x2="130.5" y2="419.94" stroke="#f5bd1e" stroke-width="0.6" />
<line x1="212.5" y1="419.94" x2="226" y2="419.94" stroke="#f5bd1e" stroke-width="0.6" />
<line x1="130.5" y1="419.94" x2="212.5" y2="419.94" stroke="#f7d77a" stroke-width="0.4" />
<text x="213.5" y="419.64" font-size="2.6" fill="#f2b40a" textLength="12" lengthAdjust="spacingAndGlyphs">1,2,3,5,8,9,11</text>
<rect x="130.95" y="417.54" width="1.3" height="2.9" fill="#2f70d6" />
<rect x="136.15" y="417.54" width="1.3" height="2.9" fill="#2f70d6" />
<rect x="139.55" y="417.54" width="1.3" height="2.9" fill="#2f70d6" />
<rect x="142.55" y="417.54" width="1.3" height="2.9" fill="#2f70d6" />
<rect x="145.15" y="417.54" width="1.3" height="2.9" fill="#2f70d6" />
<rect x="147.35" y="417.54" width="1.3" height="2.9" fill="#2f70d6" />
<rect x="150.75" y="417.54" width="1.3" height="2.9" fill="#2f70d6" />
<rect x="154.95" y="417.54" width="1.3" height="2.9" fill="#2f70d6" />
<rect x="157.15" y="417.54" width="1.3" height="2.9" fill="#2f70d6" />
<rect x="159.75" y="417.54" width="1.3" height="2.9" fill="#2f70d6" />
<rect x="162.35" y="417.54" width="1.3" height="2.9" fill="#2f70d6" />
<rect x="165.35" y="417.54" width="1.3" height="2.9" fill="#2f70d6" />
<rect x="168.35" y="417.54" width="1.3" height="2.9" fill="#2f70d6" />
<rect x="172.55" y="417.54" width="1.3" height="2.9" fill="#2f70d6" />
<rect x="176.75" y="417.54" width="1.3" height="2.9" fill="#2f70d6" />
<rect x="180.95" y="417.54" width="1.3" height="2.9" fill="#2f70d6" />
<rect x="185.15" y="417.54" width="1.3" height="2.9" fill="#2f70d6" />
<rect x="191.15" y="417.54" width="1.3" height="2.9" fill="#2f70d6" />
<rect x="193.75" y="417.54" width="1.3" height="2.9" fill="#2f70d6" />
<rect x="202.75" y="417.54" width="1.3" height="2.9" fill="#2f70d6" />
<rect x="208.75" y="417.54" width="1.3" height="2.9" fill="#2f70d6" />
<line x1="128.5" y1="423.7" x2="130.5" y2="423.7" stroke="#f5bd1e" stroke-width="0.6" />
<line x1="212.5" y1="423.7" x2="250" y2="423.7" stroke="#f5bd1e" stroke-width="0.6" />
<line x1="130.5" y1="423.7" x2="212.5" y2="423.7" stroke="#f7d77a" stroke-width="0.4" />
<text x="213.5" y="423.4" font-size="2.6" fill="#f2b40a" textLength="22" lengthAdjust="spacingAndGlyphs">1,2,3,5,8,9,11</text>
<rect x="130.95" y="421.3" width="1.3" height="2.9" fill="#2f70d6" />
<rect x="136.15" y="421.3" width="1.3" height="2.9" fill="#2f70d6" />
<rect x="139.55" y="421.3" width="1.3" height="2.9" fill="#2f70d6" />
<rect x="145.15" y="421.3" width="1.3" height="2.9" fill="#2f70d6" />
<rect x="147.35" y="421.3" width="1.3" height="2.9" fill="#2f70d6" />
<rect x="157.15" y="421.3" width="1.3" height="2.9" fill="#2f70d6" />
<rect x="159.75" y="421.3" width="1.3" height="2.9" fill="#2f70d6" />
<rect x="162.35" y="421.3" width="1.3" height="2.9" fill="#2f70d6" />
<rect x="165.35" y="421.3" width="1.3" height="2.9" fill="#2f70d6" />
<rect x="168.35" y="421.3" width="1.3" height="2.9" fill="#2f70d6" />
<rect x="172.55" y="421.3" width="1.3" height="2.9" fill="#2f70d6" />
<rect x="176.75" y="421.3" width="1.3" height="2.9" fill="#2f70d6" />
<rect x="180.95" y="421.3" width="1.3" height="2.9" fill="#2f70d6" />
<rect x="185.15" y="421.3" width="1.3" height="2.9" fill="#2f70d6" />
<rect x="187.75" y="421.3" width="1.3" height="2.9" fill="#2f70d6" />
<rect x="191.15" y="421.3" width="1.3" height="2.9" fill="#2f70d6" />
<rect x="193.75" y="421.3" width="1.3" height="2.9" fill="#2f70d6" />
<rect x="195.95" y="421.3" width="1.3" height="2.9" fill="#2f70d6" />
<rect x="199.35" y="421.3" width="1.3" height="2.9" fill="#2f70d6" />
<rect x="202.75" y="421.3" width="1.3" height="2.9" fill="#2f70d6" />
<rect x="205.35" y="421.3" width="1.3" height="2.9" fill="#2f70d6" />
<line x1="115.3" y1="427.46" x2="130.5" y2="427.46" stroke="#f5bd1e" stroke-width="0.6" />
<line x1="212.5" y1="427.46" x2="238" y2="427.46" stroke="#f5bd1e" stroke-width="0.6" />
<line x1="130.5" y1="427.46" x2="212.5" y2="427.46" stroke="#f7d77a" stroke-width="0.4" />
<text x="115.3" y="427.16" font-size="2.6" fill="#f2b40a" textLength="13.7" lengthAdjust="spacingAndGlyphs">1,2,5,6,8,9,10</text>
<text x="213.5" y="427.16" font-size="2.6" fill="#f2b40a" textLength="22" lengthAdjust="spacingAndGlyphs">1,2,3,5,8,9,11</text>
<rect x="133.55" y="425.06" width="1.3" height="2.9" fill="#2f70d6" />
<rect x="136.15" y="425.06" width="1.3" height="2.9" fill="#2f70d6" />
<rect x="139.55" y="425.06" width="1.3" height="2.9" fill="#2f70d6" />
<rect x="145.15" y="425.06" width="1.3" height="2.9" fill="#2f70d6" />
<rect x="147.35" y="425.06" width="1.3" height="2.9" fill="#2f70d6" />
<rect x="150.75" y="425.06" width="1.3" height="2.9" fill="#2f70d6" />
<rect x="154.95" y="425.06" width="1.3" height="2.9" fill="#2f70d6" />
<rect x="157.15" y="425.06" width="1.3" height="2.9" fill="#2f70d6" />
<rect x="159.75" y="425.06" width="1.3" height="2.9" fill="#2f70d6" />
<rect x="162.35" y="425.06" width="1.3" height="2.9" fill="#2f70d6" />
<rect x="165.35" y="425.06" width="1.3" height="2.9" fill="#2f70d6" />
<rect x="168.35" y="425.06" width="1.3" height="2.9" fill="#2f70d6" />
<rect x="172.55" y="425.06" width="1.3" height="2.9" fill="#2f70d6" />
<rect x="176.75" y="425.06" width="1.3" height="2.9" fill="#2f70d6" />
<rect x="191.15" y="425.06" width="1.3" height="2.9" fill="#2f70d6" />
<rect x="193.75" y="425.06" width="1.3" height="2.9" fill="#2f70d6" />
<rect x="195.95" y="425.06" width="1.3" height="2.9" fill="#2f70d6" />
<rect x="199.35" y="425.06" width="1.3" height="2.9" fill="#2f70d6" />
<rect x="202.75" y="425.06" width="1.3" height="2.9" fill="#2f70d6" />
<rect x="205.35" y="425.06" width="1.3" height="2.9" fill="#2f70d6" />
<rect x="208.75" y="425.06" width="1.3" height="2.9" fill="#2f70d6" />
<line x1="124" y1="431.22" x2="130.5" y2="431.22" stroke="#f5bd1e" stroke-width="0.6" />
<line x1="212.5" y1="431.22" x2="214" y2="431.22" stroke="#f5bd1e" stroke-width="0.6" />
<line x1="130.5" y1="431.22" x2="212.5" y2="431.22" stroke="#f7d77a" stroke-width="0.4" />
<text x="124" y="430.92" font-size="2.6" fill="#f2b40a" textLength="5" lengthAdjust="spacingAndGlyphs">1,2,5,6,8,9,10</text>
<rect x="130.95" y="428.82" width="1.3" height="2.9" fill="#2f70d6" />
<rect x="133.55" y="428.82" width="1.3" height="2.9" fill="#2f70d6" />
<rect x="136.15" y="428.82" width="1.3" height="2.9" fill="#2f70d6" />
<rect x="139.55" y="428.82" width="1.3" height="2.9" fill="#2f70d6" />
<rect x="142.55" y="428.82" width="1.3" height="2.9" fill="#2f70d6" />
<rect x="145.15" y="428.82" width="1.3" height="2.9" fill="#2f70d6" />
<rect x="147.35" y="428.82" width="1.3" height="2.9" fill="#2f70d6" />
<rect x="150.75" y="428.82" width="1.3" height="2.9" fill="#2f70d6" />
<rect x="154.95" y="428.82" width="1.3" height="2.9" fill="#2f70d6" />
<rect x="157.15" y="428.82" width="1.3" height="2.9" fill="#2f70d6" />
<rect x="162.35" y="428.82" width="1.3" height="2.9" fill="#2f70d6" />
<rect x="165.35" y="428.82" width="1.3" height="2.9" fill="#2f70d6" />
<rect x="172.55" y="428.82" width="1.3" height="2.9" fill="#2f70d6" />
<rect x="176.75" y="428.82" width="1.3" height="2.9" fill="#2f70d6" />
<rect x="180.95" y="428.82" width="1.3" height="2.9" fill="#2f70d6" />
<rect x="185.15" y="428.82" width="1.3" height="2.9" fill="#2f70d6" />
<rect x="187.75" y="428.82" width="1.3" height="2.9" fill="#2f70d6" />
<rect x="193.75" y="428.82" width="1.3" height="2.9" fill="#2f70d6" />
<rect x="195.95" y="428.82" width="1.3" height="2.9" fill="#2f70d6" />
<rect x="202.75" y="428.82" width="1.3" height="2.9" fill="#2f70d6" />
<rect x="205.35" y="428.82" width="1.3" height="2.9" fill="#2f70d6" />
<rect x="208.75" y="428.82" width="1.3" height="2.9" fill="#2f70d6" />
<line x1="112" y1="434.98" x2="130.5" y2="434.98" stroke="#f5bd1e" stroke-width="0.6" />
<line x1="212.5" y1="434.98" x2="236" y2="434.98" stroke="#f5bd1e" stroke-width="0.6" />
<line x1="130.5" y1="434.98" x2="212.5" y2="434.98" stroke="#f7d77a" stroke-width="0.4" />
<text x="112" y="434.68" font-size="2.6" fill="#f2b40a" textLength="17" lengthAdjust="spacingAndGlyphs">1,2,5,6,8,9,10</text>
<text x="213.5" y="434.68" font-size="2.6" fill="#f2b40a" textLength="22" lengthAdjust="spacingAndGlyphs">1,2,3,5,8,9,11</text>
<rect x="133.55" y="432.58" width="1.3" height="2.9" fill="#2f70d6" />
<rect x="136.15" y="432.58" width="1.3" height="2.9" fill="#2f70d6" />
<rect x="139.55" y="432.58" width="1.3" height="2.9" fill="#2f70d6" />
<rect x="145.15" y="432.58" width="1.3" height="2.9" fill="#2f70d6" />
<rect x="147.35" y="432.58" width="1.3" height="2.9" fill="#2f70d6" />
<rect x="150.75" y="432.58" width="1.3" height="2.9" fill="#2f70d6" />
<rect x="154.95" y="432.58" width="1.3" height="2.9" fill="#2f70d6" />
<rect x="157.15" y="432.58" width="1.3" height="2.9" fill="#2f70d6" />
<rect x="159.75" y="432.58" width="1.3" height="2.9" fill="#2f70d6" />
<rect x="162.35" y="432.58" width="1.3" height="2.9" fill="#2f70d6" />
<rect x="165.35" y="432.58" width="1.3" height="2.9" fill="#2f70d6" />
<rect x="168.35" y="432.58" width="1.3" height="2.9" fill="#2f70d6" />
<rect x="172.55" y="432.58" width="1.3" height="2.9" fill="#2f70d6" />
<rect x="176.75" y="432.58" width="1.3" height="2.9" fill="#2f70d6" />
<rect x="180.95" y="432.58" width="1.3" height="2.9" fill="#2f70d6" />
<rect x="185.15" y="432.58" width="1.3" height="2.9" fill="#2f70d6" />
<rect x="187.75" y="432.58" width="1.3" height="2.9" fill="#2f70d6" />
<rect x="191.15" y="432.58" width="1.3" height="2.9" fill="#2f70d6" />
<rect x="193.75" y="432.58" width="1.3" height="2.9" fill="#2f70d6" />
<rect x="195.95" y="432.58" width="1.3" height="2.9" fill="#2f70d6" />
<rect x="199.35" y="432.58" width="1.3" height="2.9" fill="#2f70d6" />
<rect x="202.75" y="432.58" width="1.3" height="2.9" fill="#2f70d6" />
<rect x="205.35" y="432.58" width="1.3" height="2.9" fill="#2f70d6" />
<rect x="208.75" y="432.58" width="1.3" height="2.9" fill="#2f70d6" />
<line x1="121.8" y1="438.74" x2="130.5" y2="438.74" stroke="#f5bd1e" stroke-width="0.6" />
<line x1="212.5" y1="438.74" x2="240" y2="438.74" stroke="#f5bd1e" stroke-width="0.6" />
<line x1="130.5" y1="438.74" x2="212.5" y2="438.74" stroke="#f7d77a" stroke-width="0.4" />
<text x="121.8" y="438.44" font-size="2.6" fill="#f2b40a" textLength="7.2" lengthAdjust="spacingAndGlyphs">1,2,5,6,8,9,10</text>
<text x="213.5" y="438.44" font-size="2.6" fill="#f2b40a" textLength="22" lengthAdjust="spacingAndGlyphs">1,2,3,5,8,9,11</text>
<rect x="130.95" y="436.34" width="1.3" height="2.9" fill="#2f70d6" />
<rect x="142.55" y="436.34" width="1.3" height="2.9" fill="#2f70d6" />
<rect x="147.35" y="436.34" width="1.3" height="2.9" fill="#2f70d6" />
<rect x="150.75" y="436.34" width="1.3" height="2.9" fill="#2f70d6" />
<rect x="154.95" y="436.34" width="1.3" height="2.9" fill="#2f70d6" />
<rect x="162.35" y="436.34" width="1.3" height="2.9" fill="#2f70d6" />
<rect x="165.35" y="436.34" width="1.3" height="2.9" fill="#2f70d6" />
<rect x="168.35" y="436.34" width="1.3" height="2.9" fill="#2f70d6" />
<rect x="172.55" y="436.34" width="1.3" height="2.9" fill="#2f70d6" />
<rect x="176.75" y="436.34" width="1.3" height="2.9" fill="#2f70d6" />
<rect x="180.95" y="436.34" width="1.3" height="2.9" fill="#2f70d6" />
<rect x="185.15" y="436.34" width="1.3" height="2.9" fill="#2f70d6" />
<rect x="187.75" y="436.34" width="1.3" height="2.9" fill="#2f70d6" />
<rect x="191.15" y="436.34" width="1.3" height="2.9" fill="#2f70d6" />
<rect x="193.75" y="436.34" width="1.3" height="2.9" fill="#2f70d6" />
<rect x="199.35" y="436.34" width="1.3" height="2.9" fill="#2f70d6" />
<rect x="202.75" y="436.34" width="1.3" height="2.9" fill="#2f70d6" />
<rect x="205.35" y="436.34" width="1.3" height="2.9" fill="#2f70d6" />
<line x1="128.5" y1="442.5" x2="130.5" y2="442.5" stroke="#f5bd1e" stroke-width="0.6" />
<line x1="212.5" y1="442.5" x2="214" y2="442.5" stroke="#f5bd1e" stroke-width="0.6" />
<line x1="130.5" y1="442.5" x2="212.5" y2="442.5" stroke="#f7d77a" stroke-width="0.4" />
<rect x="130.95" y="440.1" width="1.3" height="2.9" fill="#2f70d6" />
<rect x="133.55" y="440.1" width="1.3" height="2.9" fill="#2f70d6" />
<rect x="136.15" y="440.1" width="1.3" height="2.9" fill="#2f70d6" />
<rect x="139.55" y="440.1" width="1.3" height="2.9" fill="#2f70d6" />
<rect x="142.55" y="440.1" width="1.3" height="2.9" fill="#2f70d6" />
<rect x="147.35" y="440.1" width="1.3" height="2.9" fill="#2f70d6" />
<rect x="154.95" y="440.1" width="1.3" height="2.9" fill="#2f70d6" />
<rect x="157.15" y="440.1" width="1.3" height="2.9" fill="#2f70d6" />
<rect x="159.75" y="440.1" width="1.3" height="2.9" fill="#2f70d6" />
<rect x="162.35" y="440.1" width="1.3" height="2.9" fill="#2f70d6" />
<rect x="165.35" y="440.1" width="1.3" height="2.9" fill="#2f70d6" />
<rect x="168.35" y="440.1" width="1.3" height="2.9" fill="#2f70d6" />
<rect x="176.75" y="440.1" width="1.3" height="2.9" fill="#2f70d6" />
<rect x="180.95" y="440.1" width="1.3" height="2.9" fill="#2f70d6" />
<rect x="185.15" y="440.1" width="1.3" height="2.9" fill="#2f70d6" />
<rect x="187.75" y="440.1" width="1.3" height="2.9" fill="#2f70d6" />
<rect x="191.15" y="440.1" width="1.3" height="2.9" fill="#2f70d6" />
<rect x="193.75" y="440.1" width="1.3" height="2.9" fill="#2f70d6" />
<rect x="195.95" y="440.1" width="1.3" height="2.9" fill="#2f70d6" />
<rect x="199.35" y="440.1" width="1.3" height="2.9" fill="#2f70d6" />
<rect x="202.75" y="440.1" width="1.3" height="2.9" fill="#2f70d6" />
<rect x="205.35" y="440.1" width="1.3" height="2.9" fill="#2f70d6" />
<rect x="208.75" y="440.1" width="1.3" height="2.9" fill="#2f70d6" />
<rect x="168.5" y="351.5" width="7.9" height="27.3" fill="none" stroke="#222" stroke-width="0.7"/>
<line x1="175.2" y1="329.5" x2="175.2" y2="351.5" stroke="#333" stroke-width="0.6" />
<line x1="176.4" y1="351.6" x2="268.6" y2="345" stroke="#333" stroke-width="0.6" />
<line x1="176.4" y1="378.8" x2="268.6" y2="443.4" stroke="#333" stroke-width="0.6" />
<path d="M171.2 363 L172 368.5 L172.9 363 Z" fill="#f05050"/>
<rect x="141.3" y="320" width="65.1" height="9.5" fill="#fff" stroke="#111" stroke-width="0.8"/>
<text x="143.6" y="327.6" font-size="7.7" fill="#111" textLength="59.4" lengthAdjust="spacingAndGlyphs" >chr7:108,188,805</text>
<rect x="268.6" y="345" width="79.2" height="98.6" fill="#fff" />
<rect x="268.6" y="353.3" width="79.2" height="8.5" fill="#84c32e" />
<line x1="272.3" y1="353.3" x2="272.3" y2="361.8" stroke="#3f8f4a" stroke-width="0.5" />
<line x1="275.3" y1="353.3" x2="275.3" y2="361.8" stroke="#3f8f4a" stroke-width="0.5" />
<line x1="278.1" y1="353.3" x2="278.1" y2="361.8" stroke="#3f8f4a" stroke-width="0.5" />
<line x1="298.7" y1="353.3" x2="298.7" y2="361.8" stroke="#3f8f4a" stroke-width="0.5" />
<line x1="311.4" y1="353.3" x2="311.4" y2="361.8" stroke="#3f8f4a" stroke-width="0.5" />
<line x1="316" y1="353.3" x2="316" y2="361.8" stroke="#3f8f4a" stroke-width="0.5" />
<line x1="319.4" y1="353.3" x2="319.4" y2="361.8" stroke="#3f8f4a" stroke-width="0.5" />
<line x1="335.5" y1="353.3" x2="335.5" y2="361.8" stroke="#3f8f4a" stroke-width="0.5" />
<line x1="338.9" y1="353.3" x2="338.9" y2="361.8" stroke="#3f8f4a" stroke-width="0.5" />
<line x1="343.5" y1="353.3" x2="343.5" y2="361.8" stroke="#3f8f4a" stroke-width="0.5" />
<line x1="272.3" y1="361.8" x2="272.3" y2="385.2" stroke="#c9c9c9" stroke-width="0.4" />
<line x1="275.3" y1="361.8" x2="275.3" y2="385.2" stroke="#c9c9c9" stroke-width="0.4" />
<line x1="278.1" y1="361.8" x2="278.1" y2="385.2" stroke="#c9c9c9" stroke-width="0.4" />
<line x1="298.7" y1="361.8" x2="298.7" y2="385.2" stroke="#c9c9c9" stroke-width="0.4" />
<line x1="311.4" y1="361.8" x2="326.3" y2="385.2" stroke="#d0d0d0" stroke-width="0.4" />
<line x1="316" y1="361.8" x2="330.4" y2="385.2" stroke="#d0d0d0" stroke-width="0.4" />
<line x1="319.4" y1="361.8" x2="332.7" y2="385.2" stroke="#d0d0d0" stroke-width="0.4" />
<line x1="335.5" y1="361.8" x2="347" y2="385.2" stroke="#d0d0d0" stroke-width="0.4" />
<line x1="329" y1="361.8" x2="340" y2="385.2" stroke="#d0d0d0" stroke-width="0.4" />
<line x1="323" y1="361.8" x2="336" y2="385.2" stroke="#d0d0d0" stroke-width="0.4" />
<path d="M298.7 362.5 H313 L325.1 384.9 H299.4 Z" fill="#f95858"/>
<rect x="268.6" y="385.2" width="79.2" height="4.9" fill="#33b7e6" />
<rect x="268.6" y="390.1" width="79.2" height="4" fill="#1f6f90" />
<line x1="275.3" y1="385.2" x2="275.3" y2="394.1" stroke="#1a5a80" stroke-width="0.4" />
<line x1="278.1" y1="385.2" x2="278.1" y2="394.1" stroke="#1a5a80" stroke-width="0.4" />
<line x1="299.2" y1="385.2" x2="299.2" y2="394.1" stroke="#1a5a80" stroke-width="0.4" />
<line x1="326.3" y1="385.2" x2="326.3" y2="394.1" stroke="#1a5a80" stroke-width="0.4" />
<line x1="330.4" y1="385.2" x2="330.4" y2="394.1" stroke="#1a5a80" stroke-width="0.4" />
<line x1="332.7" y1="385.2" x2="332.7" y2="394.1" stroke="#1a5a80" stroke-width="0.4" />
<line x1="340" y1="385.2" x2="340" y2="394.1" stroke="#1a5a80" stroke-width="0.4" />
<rect x="311" y="385.4" width="1" height="8.6" fill="#f2ea2a" />
<rect x="320.1" y="385.4" width="1" height="8.6" fill="#f2ea2a" />
<line x1="268.9" y1="397.6" x2="336.81" y2="397.6" stroke="#f7ddb4" stroke-width="0.8" />
<line x1="268.9" y1="400.2" x2="347.5" y2="400.2" stroke="#f7ddb4" stroke-width="0.8" />
<line x1="268.9" y1="402.8" x2="347.5" y2="402.8" stroke="#f7ddb4" stroke-width="0.8" />
<line x1="279.39" y1="405.4" x2="347.5" y2="405.4" stroke="#f7ddb4" stroke-width="0.8" />
<line x1="268.9" y1="408" x2="340.15" y2="408" stroke="#f7ddb4" stroke-width="0.8" />
<line x1="268.9" y1="410.6" x2="343.94" y2="410.6" stroke="#f7ddb4" stroke-width="0.8" />
<line x1="268.9" y1="413.2" x2="347.5" y2="413.2" stroke="#f7ddb4" stroke-width="0.8" />
<line x1="268.9" y1="415.8" x2="347.5" y2="415.8" stroke="#f7ddb4" stroke-width="0.8" />
<line x1="268.9" y1="418.4" x2="347.5" y2="418.4" stroke="#f7ddb4" stroke-width="0.8" />
<line x1="268.9" y1="421" x2="347.5" y2="421" stroke="#f7ddb4" stroke-width="0.8" />
<line x1="278.76" y1="423.6" x2="347.5" y2="423.6" stroke="#f7ddb4" stroke-width="0.8" />
<line x1="268.9" y1="426.2" x2="347.5" y2="426.2" stroke="#f7ddb4" stroke-width="0.8" />
<line x1="268.9" y1="428.8" x2="321.48" y2="428.8" stroke="#f7ddb4" stroke-width="0.8" />
<line x1="268.9" y1="431.4" x2="347.5" y2="431.4" stroke="#f7ddb4" stroke-width="0.8" />
<line x1="268.9" y1="434" x2="347.5" y2="434" stroke="#f7ddb4" stroke-width="0.8" />
<line x1="268.9" y1="436.6" x2="347.5" y2="436.6" stroke="#f7ddb4" stroke-width="0.8" />
<line x1="268.9" y1="439.2" x2="347.5" y2="439.2" stroke="#f7ddb4" stroke-width="0.8" />
<line x1="272.65" y1="441.8" x2="347.5" y2="441.8" stroke="#f7ddb4" stroke-width="0.8" />
<line x1="275.3" y1="394.1" x2="275.3" y2="443.4" stroke="#a9b9cf" stroke-width="0.5" />
<line x1="278.1" y1="394.1" x2="278.1" y2="443.4" stroke="#a9b9cf" stroke-width="0.5" />
<line x1="299.2" y1="394.1" x2="299.2" y2="443.4" stroke="#a9b9cf" stroke-width="0.5" />
<line x1="311.4" y1="394.1" x2="311.4" y2="443.4" stroke="#a9b9cf" stroke-width="0.5" />
<line x1="320.5" y1="394.1" x2="320.5" y2="443.4" stroke="#a9b9cf" stroke-width="0.5" />
<line x1="326.3" y1="394.1" x2="326.3" y2="443.4" stroke="#a9b9cf" stroke-width="0.5" />
<line x1="330.4" y1="394.1" x2="330.4" y2="443.4" stroke="#a9b9cf" stroke-width="0.5" />
<line x1="332.7" y1="394.1" x2="332.7" y2="443.4" stroke="#a9b9cf" stroke-width="0.5" />
<text x="292.4" y="352" font-size="8.3" font-weight="bold" fill="#111" textLength="42.5" lengthAdjust="spacingAndGlyphs" >INSERTION</text>
<text x="338" y="351.5" font-size="2.6" fill="#444" transform="rotate(-35 338 351.5)">108.19 M</text>
<rect x="268.6" y="345" width="79.2" height="98.6" fill="none" stroke="#111" stroke-width="0.9"/>
<rect x="61.5" y="315.7" width="286.5" height="128.3" fill="none" stroke="#333" stroke-width="0.9"/>
<path d="M458.71 309.7 A70.3 70.3 0 0 1 486.69 315.78 L484.62 320.44 A65.2 65.2 0 0 0 458.67 314.8 Z" fill="#f4f4f4" stroke="none" stroke-width="0.3" />
<path d="M458.71 309.7 A70.3 70.3 0 0 1 460.19 309.73 L460.03 314.83 A65.2 65.2 0 0 0 458.67 314.8 Z" fill="#f6f6f6" stroke="none" stroke-width="0.3" />
<path d="M460.19 309.73 A70.3 70.3 0 0 1 462.64 309.85 L462.31 314.94 A65.2 65.2 0 0 0 460.03 314.83 Z" fill="#111" stroke="none" stroke-width="0.3" />
<path d="M462.64 309.85 A70.3 70.3 0 0 1 464.59 310 L464.12 315.08 A65.2 65.2 0 0 0 462.31 314.94 Z" fill="#aaa" stroke="none" stroke-width="0.3" />
<path d="M464.59 310 A70.3 70.3 0 0 1 465.45 310.09 L464.92 315.16 A65.2 65.2 0 0 0 464.12 315.08 Z" fill="#777" stroke="none" stroke-width="0.3" />
<path d="M465.45 310.09 A70.3 70.3 0 0 1 466.3 310.18 L465.71 315.25 A65.2 65.2 0 0 0 464.92 315.16 Z" fill="#ececec" stroke="none" stroke-width="0.3" />
<path d="M466.3 310.18 A70.3 70.3 0 0 1 468.25 310.44 L467.51 315.48 A65.2 65.2 0 0 0 465.71 315.25 Z" fill="#aaa" stroke="none" stroke-width="0.3" />
<path d="M468.25 310.44 A70.3 70.3 0 0 1 470.19 310.75 L469.31 315.77 A65.2 65.2 0 0 0 467.51 315.48 Z" fill="#fff" stroke="none" stroke-width="0.3" />
<path d="M470.19 310.75 A70.3 70.3 0 0 1 471.03 310.9 L470.09 315.91 A65.2 65.2 0 0 0 469.31 315.77 Z" fill="#e2e2e2" stroke="none" stroke-width="0.3" />
<path d="M471.03 310.9 A70.3 70.3 0 0 1 472.12 311.11 L471.1 316.11 A65.2 65.2 0 0 0 470.09 315.91 Z" fill="#111" stroke="none" stroke-width="0.3" />
<path d="M472.12 311.11 A70.3 70.3 0 0 1 473.2 311.34 L472.1 316.32 A65.2 65.2 0 0 0 471.1 316.11 Z" fill="#fff" stroke="none" stroke-width="0.3" />
<path d="M473.2 311.34 A70.3 70.3 0 0 1 474.63 311.67 L473.43 316.63 A65.2 65.2 0 0 0 472.1 316.32 Z" fill="#777" stroke="none" stroke-width="0.3" />
<path d="M474.63 311.67 A70.3 70.3 0 0 1 476.53 312.16 L475.19 317.08 A65.2 65.2 0 0 0 473.43 316.63 Z" fill="#777" stroke="none" stroke-width="0.3" />
<path d="M476.53 312.16 A70.3 70.3 0 0 1 477.36 312.39 L475.96 317.29 A65.2 65.2 0 0 0 475.19 317.08 Z" fill="#777" stroke="none" stroke-width="0.3" />
<path d="M477.36 312.39 A70.3 70.3 0 0 1 479.71 313.1 L478.14 317.96 A65.2 65.2 0 0 0 475.96 317.29 Z" fill="#e2e2e2" stroke="none" stroke-width="0.3" />
<path d="M479.71 313.1 A70.3 70.3 0 0 1 481.57 313.73 L479.86 318.54 A65.2 65.2 0 0 0 478.14 317.96 Z" fill="#777" stroke="none" stroke-width="0.3" />
<path d="M481.57 313.73 A70.3 70.3 0 0 1 482.6 314.11 L480.83 318.89 A65.2 65.2 0 0 0 479.86 318.54 Z" fill="#111" stroke="none" stroke-width="0.3" />
<path d="M482.6 314.11 A70.3 70.3 0 0 1 483.41 314.41 L481.57 319.17 A65.2 65.2 0 0 0 480.83 318.89 Z" fill="#aaa" stroke="none" stroke-width="0.3" />
<path d="M483.41 314.41 A70.3 70.3 0 0 1 484.43 314.82 L482.52 319.55 A65.2 65.2 0 0 0 481.57 319.17 Z" fill="#777" stroke="none" stroke-width="0.3" />
<path d="M484.43 314.82 A70.3 70.3 0 0 1 485.46 315.24 L483.47 319.94 A65.2 65.2 0 0 0 482.52 319.55 Z" fill="#ccc" stroke="none" stroke-width="0.3" />
<path d="M485.46 315.24 A70.3 70.3 0 0 1 486.69 315.78 L484.62 320.44 A65.2 65.2 0 0 0 483.47 319.94 Z" fill="#aaa" stroke="none" stroke-width="0.3" />
<path d="M470.88 310.87 A70.3 70.3 0 0 1 471.73 311.03 L470.74 316.04 A65.2 65.2 0 0 0 469.96 315.89 Z" fill="#e85a5a" stroke="none" stroke-width="0.3" />
<path d="M458.66 316.2 A63.8 63.8 0 0 1 461.55 316.29 L461.32 320.59 A59.5 59.5 0 0 0 458.62 320.5 Z" fill="#8ac4b8" stroke="none" stroke-width="0.3" />
<path d="M461.55 316.29 A63.8 63.8 0 0 1 462.88 316.38 L462.56 320.67 A59.5 59.5 0 0 0 461.32 320.59 Z" fill="#8ac4b8" stroke="none" stroke-width="0.3" />
<path d="M462.88 316.38 A63.8 63.8 0 0 1 465.1 316.59 L464.63 320.86 A59.5 59.5 0 0 0 462.56 320.67 Z" fill="#a4b0c0" stroke="none" stroke-width="0.3" />
<path d="M465.1 316.59 A63.8 63.8 0 0 1 466.1 316.7 L465.56 320.97 A59.5 59.5 0 0 0 464.63 320.86 Z" fill="#58b0a0" stroke="none" stroke-width="0.3" />
<path d="M466.1 316.7 A63.8 63.8 0 0 1 468.3 317.02 L467.61 321.27 A59.5 59.5 0 0 0 465.56 320.97 Z" fill="#9aa2cc" stroke="none" stroke-width="0.3" />
<path d="M468.3 317.02 A63.8 63.8 0 0 1 469.62 317.25 L468.84 321.48 A59.5 59.5 0 0 0 467.61 321.27 Z" fill="#a4b0c0" stroke="none" stroke-width="0.3" />
<path d="M469.62 317.25 A63.8 63.8 0 0 1 470.6 317.44 L469.76 321.65 A59.5 59.5 0 0 0 468.84 321.48 Z" fill="#58b0a0" stroke="none" stroke-width="0.3" />
<path d="M470.6 317.44 A63.8 63.8 0 0 1 472.34 317.81 L471.38 322 A59.5 59.5 0 0 0 469.76 321.65 Z" fill="#94acac" stroke="none" stroke-width="0.3" />
<path d="M472.34 317.81 A63.8 63.8 0 0 1 475.15 318.52 L474 322.66 A59.5 59.5 0 0 0 471.38 322 Z" fill="#68bcac" stroke="none" stroke-width="0.3" />
<path d="M475.15 318.52 A63.8 63.8 0 0 1 477.92 319.36 L476.59 323.44 A59.5 59.5 0 0 0 474 322.66 Z" fill="#58b0a0" stroke="none" stroke-width="0.3" />
<path d="M477.92 319.36 A63.8 63.8 0 0 1 478.87 319.68 L477.47 323.74 A59.5 59.5 0 0 0 476.59 323.44 Z" fill="#a4b0c0" stroke="none" stroke-width="0.3" />
<path d="M478.87 319.68 A63.8 63.8 0 0 1 480.55 320.28 L479.03 324.3 A59.5 59.5 0 0 0 477.47 323.74 Z" fill="#a4b0c0" stroke="none" stroke-width="0.3" />
<path d="M480.55 320.28 A63.8 63.8 0 0 1 482.62 321.1 L480.97 325.07 A59.5 59.5 0 0 0 479.03 324.3 Z" fill="#58b0a0" stroke="none" stroke-width="0.3" />
<path d="M482.62 321.1 A63.8 63.8 0 0 1 483.85 321.63 L482.11 325.56 A59.5 59.5 0 0 0 480.97 325.07 Z" fill="#b6a2cc" stroke="none" stroke-width="0.3" />
<path d="M483.85 321.63 A63.8 63.8 0 0 1 484.05 321.72 L482.3 325.64 A59.5 59.5 0 0 0 482.11 325.56 Z" fill="#9aa2cc" stroke="none" stroke-width="0.3" />
<path d="M458.61 321.1 A58.9 58.9 0 0 1 482.06 326.19 L477.22 337.06 A47 47 0 0 0 458.51 333 Z" fill="none" stroke="#c8c8c8" stroke-width="0.3" />
<path d="M458.51 333.5 A46.5 46.5 0 0 1 477.01 337.52 L474.69 342.73 A40.8 40.8 0 0 0 458.46 339.2 Z" fill="none" stroke="#c8c8c8" stroke-width="0.3" />
<path d="M458.45 339.6 A40.4 40.4 0 0 1 474.53 343.09 L473.64 345.1 A38.2 38.2 0 0 0 458.43 341.8 Z" fill="none" stroke="#d0d0d0" stroke-width="0.3" />
<text x="474.56" y="304.17" font-size="6.3" fill="#444" text-anchor="middle" dominant-baseline="central" transform="rotate(12.25 474.56 304.17)">1</text>
<path d="M488.36 316.55 A70.3 70.3 0 0 1 512.73 335.76 L508.77 338.97 A65.2 65.2 0 0 0 486.17 321.15 Z" fill="#f4f4f4" stroke="none" stroke-width="0.3" />
<path d="M488.36 316.55 A70.3 70.3 0 0 1 489.14 316.92 L486.89 321.5 A65.2 65.2 0 0 0 486.17 321.15 Z" fill="#f6f6f6" stroke="none" stroke-width="0.3" />
<path d="M489.14 316.92 A70.3 70.3 0 0 1 490.45 317.59 L488.11 322.11 A65.2 65.2 0 0 0 486.89 321.5 Z" fill="#fff" stroke="none" stroke-width="0.3" />
<path d="M490.45 317.59 A70.3 70.3 0 0 1 491.21 317.99 L488.81 322.49 A65.2 65.2 0 0 0 488.11 322.11 Z" fill="#fff" stroke="none" stroke-width="0.3" />
<path d="M491.21 317.99 A70.3 70.3 0 0 1 492.93 318.94 L490.4 323.37 A65.2 65.2 0 0 0 488.81 322.49 Z" fill="#ececec" stroke="none" stroke-width="0.3" />
<path d="M492.93 318.94 A70.3 70.3 0 0 1 494.62 319.93 L491.97 324.29 A65.2 65.2 0 0 0 490.4 323.37 Z" fill="#e2e2e2" stroke="none" stroke-width="0.3" />
<path d="M494.62 319.93 A70.3 70.3 0 0 1 495.35 320.38 L492.65 324.71 A65.2 65.2 0 0 0 491.97 324.29 Z" fill="#fff" stroke="none" stroke-width="0.3" />
<path d="M495.35 320.38 A70.3 70.3 0 0 1 496.08 320.84 L493.32 325.13 A65.2 65.2 0 0 0 492.65 324.71 Z" fill="#f6f6f6" stroke="none" stroke-width="0.3" />
<path d="M496.08 320.84 A70.3 70.3 0 0 1 497 321.45 L494.18 325.69 A65.2 65.2 0 0 0 493.32 325.13 Z" fill="#e2e2e2" stroke="none" stroke-width="0.3" />
<path d="M497 321.45 A70.3 70.3 0 0 1 497.92 322.06 L495.03 326.27 A65.2 65.2 0 0 0 494.18 325.69 Z" fill="#444" stroke="none" stroke-width="0.3" />
<path d="M497.92 322.06 A70.3 70.3 0 0 1 498.82 322.7 L495.87 326.85 A65.2 65.2 0 0 0 495.03 326.27 Z" fill="#fff" stroke="none" stroke-width="0.3" />
<path d="M498.82 322.7 A70.3 70.3 0 0 1 500.01 323.56 L496.97 327.66 A65.2 65.2 0 0 0 495.87 326.85 Z" fill="#fff" stroke="none" stroke-width="0.3" />
<path d="M500.01 323.56 A70.3 70.3 0 0 1 501.19 324.45 L498.06 328.48 A65.2 65.2 0 0 0 496.97 327.66 Z" fill="#fff" stroke="none" stroke-width="0.3" />
<path d="M501.19 324.45 A70.3 70.3 0 0 1 502.34 325.37 L499.13 329.33 A65.2 65.2 0 0 0 498.06 328.48 Z" fill="#fff" stroke="none" stroke-width="0.3" />
<path d="M502.34 325.37 A70.3 70.3 0 0 1 503.01 325.91 L499.75 329.84 A65.2 65.2 0 0 0 499.13 329.33 Z" fill="#e2e2e2" stroke="none" stroke-width="0.3" />
<path d="M503.01 325.91 A70.3 70.3 0 0 1 504.13 326.86 L500.79 330.72 A65.2 65.2 0 0 0 499.75 329.84 Z" fill="#ccc" stroke="none" stroke-width="0.3" />
<path d="M504.13 326.86 A70.3 70.3 0 0 1 504.77 327.43 L501.39 331.24 A65.2 65.2 0 0 0 500.79 330.72 Z" fill="#fff" stroke="none" stroke-width="0.3" />
<path d="M504.77 327.43 A70.3 70.3 0 0 1 505.41 328 L501.98 331.78 A65.2 65.2 0 0 0 501.39 331.24 Z" fill="#aaa" stroke="none" stroke-width="0.3" />
<path d="M505.41 328 A70.3 70.3 0 0 1 506.49 329.01 L502.98 332.71 A65.2 65.2 0 0 0 501.98 331.78 Z" fill="#fff" stroke="none" stroke-width="0.3" />
<path d="M506.49 329.01 A70.3 70.3 0 0 1 508.24 330.73 L504.6 334.3 A65.2 65.2 0 0 0 502.98 332.71 Z" fill="#ececec" stroke="none" stroke-width="0.3" />
<path d="M508.24 330.73 A70.3 70.3 0 0 1 509.01 331.52 L505.32 335.04 A65.2 65.2 0 0 0 504.6 334.3 Z" fill="#ececec" stroke="none" stroke-width="0.3" />
<path d="M509.01 331.52 A70.3 70.3 0 0 1 510.01 332.6 L506.25 336.04 A65.2 65.2 0 0 0 505.32 335.04 Z" fill="#f6f6f6" stroke="none" stroke-width="0.3" />
<path d="M510.01 332.6 A70.3 70.3 0 0 1 511.64 334.44 L507.75 337.74 A65.2 65.2 0 0 0 506.25 336.04 Z" fill="#444" stroke="none" stroke-width="0.3" />
<path d="M511.64 334.44 A70.3 70.3 0 0 1 512.58 335.57 L508.63 338.79 A65.2 65.2 0 0 0 507.75 337.74 Z" fill="#222" stroke="none" stroke-width="0.3" />
<path d="M512.58 335.57 A70.3 70.3 0 0 1 512.73 335.76 L508.77 338.97 A65.2 65.2 0 0 0 508.63 338.79 Z" fill="#ccc" stroke="none" stroke-width="0.3" />
<path d="M496.84 321.34 A70.3 70.3 0 0 1 497.55 321.82 L494.69 326.04 A65.2 65.2 0 0 0 494.03 325.59 Z" fill="#e85a5a" stroke="none" stroke-width="0.3" />
<path d="M485.57 322.42 A63.8 63.8 0 0 1 486.77 323 L484.83 326.84 A59.5 59.5 0 0 0 483.72 326.3 Z" fill="#7fa8c0" stroke="none" stroke-width="0.3" />
<path d="M486.77 323 A63.8 63.8 0 0 1 487.95 323.62 L485.94 327.42 A59.5 59.5 0 0 0 484.83 326.84 Z" fill="#a4b0c0" stroke="none" stroke-width="0.3" />
<path d="M487.95 323.62 A63.8 63.8 0 0 1 489.9 324.69 L487.76 328.42 A59.5 59.5 0 0 0 485.94 327.42 Z" fill="#9aa2cc" stroke="none" stroke-width="0.3" />
<path d="M489.9 324.69 A63.8 63.8 0 0 1 490.77 325.2 L488.57 328.89 A59.5 59.5 0 0 0 487.76 328.42 Z" fill="#7fa8c0" stroke="none" stroke-width="0.3" />
<path d="M490.77 325.2 A63.8 63.8 0 0 1 493.22 326.74 L490.85 330.33 A59.5 59.5 0 0 0 488.57 328.89 Z" fill="#6cb8b8" stroke="none" stroke-width="0.3" />
<path d="M493.22 326.74 A63.8 63.8 0 0 1 495.06 327.99 L492.57 331.5 A59.5 59.5 0 0 0 490.85 330.33 Z" fill="#68bcac" stroke="none" stroke-width="0.3" />
<path d="M495.06 327.99 A63.8 63.8 0 0 1 496.14 328.78 L493.58 332.23 A59.5 59.5 0 0 0 492.57 331.5 Z" fill="#94acac" stroke="none" stroke-width="0.3" />
<path d="M496.14 328.78 A63.8 63.8 0 0 1 497.55 329.86 L494.9 333.24 A59.5 59.5 0 0 0 493.58 332.23 Z" fill="#a4b0c0" stroke="none" stroke-width="0.3" />
<path d="M497.55 329.86 A63.8 63.8 0 0 1 499.28 331.27 L496.5 334.55 A59.5 59.5 0 0 0 494.9 333.24 Z" fill="#b0bcd4" stroke="none" stroke-width="0.3" />
<path d="M499.28 331.27 A63.8 63.8 0 0 1 500.29 332.14 L497.45 335.37 A59.5 59.5 0 0 0 496.5 334.55 Z" fill="#68bcac" stroke="none" stroke-width="0.3" />
<path d="M500.29 332.14 A63.8 63.8 0 0 1 501.04 332.81 L498.14 335.99 A59.5 59.5 0 0 0 497.45 335.37 Z" fill="#b6a2cc" stroke="none" stroke-width="0.3" />
<path d="M501.04 332.81 A63.8 63.8 0 0 1 502.34 334.03 L499.36 337.13 A59.5 59.5 0 0 0 498.14 335.99 Z" fill="#8ac4b8" stroke="none" stroke-width="0.3" />
<path d="M502.34 334.03 A63.8 63.8 0 0 1 503.29 334.97 L500.25 338 A59.5 59.5 0 0 0 499.36 337.13 Z" fill="#94acac" stroke="none" stroke-width="0.3" />
<path d="M503.29 334.97 A63.8 63.8 0 0 1 504.23 335.92 L501.12 338.89 A59.5 59.5 0 0 0 500.25 338 Z" fill="#b0bcd4" stroke="none" stroke-width="0.3" />
<path d="M504.23 335.92 A63.8 63.8 0 0 1 504.91 336.65 L501.76 339.57 A59.5 59.5 0 0 0 501.12 338.89 Z" fill="#9aa2cc" stroke="none" stroke-width="0.3" />
<path d="M504.91 336.65 A63.8 63.8 0 0 1 506.4 338.31 L503.14 341.12 A59.5 59.5 0 0 0 501.76 339.57 Z" fill="#58b0a0" stroke="none" stroke-width="0.3" />
<path d="M506.4 338.31 A63.8 63.8 0 0 1 507.26 339.33 L503.95 342.07 A59.5 59.5 0 0 0 503.14 341.12 Z" fill="#68bcac" stroke="none" stroke-width="0.3" />
<path d="M507.26 339.33 A63.8 63.8 0 0 1 507.68 339.85 L504.34 342.56 A59.5 59.5 0 0 0 503.95 342.07 Z" fill="#a4b0c0" stroke="none" stroke-width="0.3" />
<path d="M483.46 326.84 A58.9 58.9 0 0 1 503.87 342.93 L494.63 350.42 A47 47 0 0 0 478.33 337.58 Z" fill="none" stroke="#c8c8c8" stroke-width="0.3" />
<path d="M478.12 338.03 A46.5 46.5 0 0 1 494.24 350.74 L489.81 354.32 A40.8 40.8 0 0 0 475.66 343.17 Z" fill="none" stroke="#c8c8c8" stroke-width="0.3" />
<path d="M475.49 343.54 A40.4 40.4 0 0 1 489.5 354.58 L487.79 355.96 A38.2 38.2 0 0 0 474.55 345.52 Z" fill="none" stroke="#d0d0d0" stroke-width="0.3" />
<text x="506.14" y="319.06" font-size="6.3" fill="#444" text-anchor="middle" dominant-baseline="central" transform="rotate(38.25 506.14 319.06)">2</text>
<path d="M514.1 337.5 A70.3 70.3 0 0 1 526 361.81 L521.08 363.12 A65.2 65.2 0 0 0 510.03 340.58 Z" fill="#f4f4f4" stroke="none" stroke-width="0.3" />
<path d="M514.1 337.5 A70.3 70.3 0 0 1 515.55 339.48 L511.38 342.42 A65.2 65.2 0 0 0 510.03 340.58 Z" fill="#777" stroke="none" stroke-width="0.3" />
<path d="M515.55 339.48 A70.3 70.3 0 0 1 516.92 341.51 L512.66 344.3 A65.2 65.2 0 0 0 511.38 342.42 Z" fill="#fff" stroke="none" stroke-width="0.3" />
<path d="M516.92 341.51 A70.3 70.3 0 0 1 517.98 343.16 L513.63 345.84 A65.2 65.2 0 0 0 512.66 344.3 Z" fill="#f6f6f6" stroke="none" stroke-width="0.3" />
<path d="M517.98 343.16 A70.3 70.3 0 0 1 518.73 344.43 L514.34 347.01 A65.2 65.2 0 0 0 513.63 345.84 Z" fill="#fff" stroke="none" stroke-width="0.3" />
<path d="M518.73 344.43 A70.3 70.3 0 0 1 519.47 345.7 L515.01 348.19 A65.2 65.2 0 0 0 514.34 347.01 Z" fill="#ccc" stroke="none" stroke-width="0.3" />
<path d="M519.47 345.7 A70.3 70.3 0 0 1 520.4 347.43 L515.88 349.79 A65.2 65.2 0 0 0 515.01 348.19 Z" fill="#fff" stroke="none" stroke-width="0.3" />
<path d="M520.4 347.43 A70.3 70.3 0 0 1 520.9 348.41 L516.35 350.7 A65.2 65.2 0 0 0 515.88 349.79 Z" fill="#444" stroke="none" stroke-width="0.3" />
<path d="M520.9 348.41 A70.3 70.3 0 0 1 521.76 350.18 L517.14 352.34 A65.2 65.2 0 0 0 516.35 350.7 Z" fill="#fff" stroke="none" stroke-width="0.3" />
<path d="M521.76 350.18 A70.3 70.3 0 0 1 522.22 351.18 L517.57 353.27 A65.2 65.2 0 0 0 517.14 352.34 Z" fill="#222" stroke="none" stroke-width="0.3" />
<path d="M522.22 351.18 A70.3 70.3 0 0 1 523 352.98 L518.29 354.94 A65.2 65.2 0 0 0 517.57 353.27 Z" fill="#ececec" stroke="none" stroke-width="0.3" />
<path d="M523 352.98 A70.3 70.3 0 0 1 523.42 354.01 L518.68 355.89 A65.2 65.2 0 0 0 518.29 354.94 Z" fill="#444" stroke="none" stroke-width="0.3" />
<path d="M523.42 354.01 A70.3 70.3 0 0 1 524.12 355.84 L519.33 357.59 A65.2 65.2 0 0 0 518.68 355.89 Z" fill="#ccc" stroke="none" stroke-width="0.3" />
<path d="M524.12 355.84 A70.3 70.3 0 0 1 524.92 358.16 L520.07 359.74 A65.2 65.2 0 0 0 519.33 357.59 Z" fill="#fff" stroke="none" stroke-width="0.3" />
<path d="M524.92 358.16 A70.3 70.3 0 0 1 525.64 360.5 L520.74 361.92 A65.2 65.2 0 0 0 520.07 359.74 Z" fill="#ececec" stroke="none" stroke-width="0.3" />
<path d="M525.64 360.5 A70.3 70.3 0 0 1 525.88 361.33 L520.96 362.69 A65.2 65.2 0 0 0 520.74 361.92 Z" fill="#ececec" stroke="none" stroke-width="0.3" />
<path d="M525.88 361.33 A70.3 70.3 0 0 1 526 361.81 L521.08 363.12 A65.2 65.2 0 0 0 520.96 362.69 Z" fill="#222" stroke="none" stroke-width="0.3" />
<path d="M519.03 344.94 A70.3 70.3 0 0 1 519.46 345.69 L515.01 348.18 A65.2 65.2 0 0 0 514.61 347.49 Z" fill="#e85a5a" stroke="none" stroke-width="0.3" />
<path d="M508.92 341.43 A63.8 63.8 0 0 1 509.52 342.23 L506.05 344.78 A59.5 59.5 0 0 0 505.49 344.03 Z" fill="#a4b0c0" stroke="none" stroke-width="0.3" />
<path d="M509.52 342.23 A63.8 63.8 0 0 1 510.55 343.68 L507.02 346.13 A59.5 59.5 0 0 0 506.05 344.78 Z" fill="#6cb8b8" stroke="none" stroke-width="0.3" />
<path d="M510.55 343.68 A63.8 63.8 0 0 1 511.55 345.16 L507.94 347.51 A59.5 59.5 0 0 0 507.02 346.13 Z" fill="#b6a2cc" stroke="none" stroke-width="0.3" />
<path d="M511.55 345.16 A63.8 63.8 0 0 1 512.5 346.66 L508.83 348.91 A59.5 59.5 0 0 0 507.94 347.51 Z" fill="#a4b0c0" stroke="none" stroke-width="0.3" />
<path d="M512.5 346.66 A63.8 63.8 0 0 1 513.41 348.2 L509.68 350.34 A59.5 59.5 0 0 0 508.83 348.91 Z" fill="#9aa2cc" stroke="none" stroke-width="0.3" />
<path d="M513.41 348.2 A63.8 63.8 0 0 1 514.79 350.74 L510.97 352.71 A59.5 59.5 0 0 0 509.68 350.34 Z" fill="#68bcac" stroke="none" stroke-width="0.3" />
<path d="M514.79 350.74 A63.8 63.8 0 0 1 515.78 352.73 L511.89 354.57 A59.5 59.5 0 0 0 510.97 352.71 Z" fill="#6cb8b8" stroke="none" stroke-width="0.3" />
<path d="M515.78 352.73 A63.8 63.8 0 0 1 516.52 354.36 L512.58 356.08 A59.5 59.5 0 0 0 511.89 354.57 Z" fill="#58b0a0" stroke="none" stroke-width="0.3" />
<path d="M516.52 354.36 A63.8 63.8 0 0 1 517.21 356 L513.23 357.61 A59.5 59.5 0 0 0 512.58 356.08 Z" fill="#b6a2cc" stroke="none" stroke-width="0.3" />
<path d="M517.21 356 A63.8 63.8 0 0 1 517.86 357.66 L513.83 359.16 A59.5 59.5 0 0 0 513.23 357.61 Z" fill="#6cb8b8" stroke="none" stroke-width="0.3" />
<path d="M517.86 357.66 A63.8 63.8 0 0 1 518.46 359.33 L514.39 360.73 A59.5 59.5 0 0 0 513.83 359.16 Z" fill="#58b0a0" stroke="none" stroke-width="0.3" />
<path d="M518.46 359.33 A63.8 63.8 0 0 1 519.01 361.03 L514.91 362.31 A59.5 59.5 0 0 0 514.39 360.73 Z" fill="#58b0a0" stroke="none" stroke-width="0.3" />
<path d="M519.01 361.03 A63.8 63.8 0 0 1 519.64 363.16 L515.49 364.3 A59.5 59.5 0 0 0 514.91 362.31 Z" fill="#58b0a0" stroke="none" stroke-width="0.3" />
<path d="M519.64 363.16 A63.8 63.8 0 0 1 519.73 363.49 L515.57 364.6 A59.5 59.5 0 0 0 515.49 364.3 Z" fill="#b6a2cc" stroke="none" stroke-width="0.3" />
<path d="M505.02 344.39 A58.9 58.9 0 0 1 514.99 364.76 L503.5 367.84 A47 47 0 0 0 495.54 351.58 Z" fill="none" stroke="#c8c8c8" stroke-width="0.3" />
<path d="M495.14 351.89 A46.5 46.5 0 0 1 503.02 367.96 L497.51 369.44 A40.8 40.8 0 0 0 490.6 355.33 Z" fill="none" stroke="#c8c8c8" stroke-width="0.3" />
<path d="M490.28 355.57 A40.4 40.4 0 0 1 497.12 369.54 L495 370.11 A38.2 38.2 0 0 0 488.53 356.9 Z" fill="none" stroke="#d0d0d0" stroke-width="0.3" />
<text x="527.79" y="345.86" font-size="6.3" fill="#444" text-anchor="middle" dominant-baseline="central" transform="rotate(63.9 527.79 345.86)">3</text>
<path d="M526.46 363.59 A70.3 70.3 0 0 1 528.2 385.27 L523.12 384.89 A65.2 65.2 0 0 0 521.5 364.78 Z" fill="#f4f4f4" stroke="none" stroke-width="0.3" />
<path d="M526.46 363.59 A70.3 70.3 0 0 1 526.79 365.02 L521.8 366.11 A65.2 65.2 0 0 0 521.5 364.78 Z" fill="#fff" stroke="none" stroke-width="0.3" />
<path d="M526.79 365.02 A70.3 70.3 0 0 1 527.01 366.1 L522.01 367.11 A65.2 65.2 0 0 0 521.8 366.11 Z" fill="#fff" stroke="none" stroke-width="0.3" />
<path d="M527.01 366.1 A70.3 70.3 0 0 1 527.22 367.19 L522.21 368.12 A65.2 65.2 0 0 0 522.01 367.11 Z" fill="#aaa" stroke="none" stroke-width="0.3" />
<path d="M527.22 367.19 A70.3 70.3 0 0 1 527.48 368.64 L522.44 369.46 A65.2 65.2 0 0 0 522.21 368.12 Z" fill="#fff" stroke="none" stroke-width="0.3" />
<path d="M527.48 368.64 A70.3 70.3 0 0 1 527.7 370.09 L522.65 370.81 A65.2 65.2 0 0 0 522.44 369.46 Z" fill="#f6f6f6" stroke="none" stroke-width="0.3" />
<path d="M527.7 370.09 A70.3 70.3 0 0 1 527.81 370.95 L522.76 371.6 A65.2 65.2 0 0 0 522.65 370.81 Z" fill="#f6f6f6" stroke="none" stroke-width="0.3" />
<path d="M527.81 370.95 A70.3 70.3 0 0 1 528.04 372.9 L522.97 373.41 A65.2 65.2 0 0 0 522.76 371.6 Z" fill="#777" stroke="none" stroke-width="0.3" />
<path d="M528.04 372.9 A70.3 70.3 0 0 1 528.25 375.34 L523.16 375.68 A65.2 65.2 0 0 0 522.97 373.41 Z" fill="#e2e2e2" stroke="none" stroke-width="0.3" />
<path d="M528.25 375.34 A70.3 70.3 0 0 1 528.37 377.79 L523.27 377.95 A65.2 65.2 0 0 0 523.16 375.68 Z" fill="#222" stroke="none" stroke-width="0.3" />
<path d="M528.37 377.79 A70.3 70.3 0 0 1 528.4 379.75 L523.3 379.77 A65.2 65.2 0 0 0 523.27 377.95 Z" fill="#ccc" stroke="none" stroke-width="0.3" />
<path d="M528.4 379.75 A70.3 70.3 0 0 1 528.37 382.21 L523.27 382.05 A65.2 65.2 0 0 0 523.3 379.77 Z" fill="#fff" stroke="none" stroke-width="0.3" />
<path d="M528.37 382.21 A70.3 70.3 0 0 1 528.3 383.68 L523.21 383.41 A65.2 65.2 0 0 0 523.27 382.05 Z" fill="#f6f6f6" stroke="none" stroke-width="0.3" />
<path d="M528.3 383.68 A70.3 70.3 0 0 1 528.25 384.54 L523.16 384.21 A65.2 65.2 0 0 0 523.21 383.41 Z" fill="#aaa" stroke="none" stroke-width="0.3" />
<path d="M528.25 384.54 A70.3 70.3 0 0 1 528.2 385.27 L523.12 384.89 A65.2 65.2 0 0 0 523.16 384.21 Z" fill="#e2e2e2" stroke="none" stroke-width="0.3" />
<path d="M528.17 374.26 A70.3 70.3 0 0 1 528.23 375.11 L523.14 375.47 A65.2 65.2 0 0 0 523.08 374.67 Z" fill="#e85a5a" stroke="none" stroke-width="0.3" />
<path d="M520.14 365.11 A63.8 63.8 0 0 1 520.62 367.28 L516.41 368.14 A59.5 59.5 0 0 0 515.96 366.11 Z" fill="#94acac" stroke="none" stroke-width="0.3" />
<path d="M520.62 367.28 A63.8 63.8 0 0 1 520.87 368.59 L516.64 369.36 A59.5 59.5 0 0 0 516.41 368.14 Z" fill="#8ac4b8" stroke="none" stroke-width="0.3" />
<path d="M520.87 368.59 A63.8 63.8 0 0 1 521.1 369.91 L516.85 370.59 A59.5 59.5 0 0 0 516.64 369.36 Z" fill="#68bcac" stroke="none" stroke-width="0.3" />
<path d="M521.1 369.91 A63.8 63.8 0 0 1 521.41 372.11 L517.14 372.65 A59.5 59.5 0 0 0 516.85 370.59 Z" fill="#8ac4b8" stroke="none" stroke-width="0.3" />
<path d="M521.41 372.11 A63.8 63.8 0 0 1 521.56 373.44 L517.28 373.88 A59.5 59.5 0 0 0 517.14 372.65 Z" fill="#68bcac" stroke="none" stroke-width="0.3" />
<path d="M521.56 373.44 A63.8 63.8 0 0 1 521.69 374.77 L517.4 375.12 A59.5 59.5 0 0 0 517.28 373.88 Z" fill="#7fa8c0" stroke="none" stroke-width="0.3" />
<path d="M521.69 374.77 A63.8 63.8 0 0 1 521.81 376.55 L517.51 376.78 A59.5 59.5 0 0 0 517.4 375.12 Z" fill="#9aa2cc" stroke="none" stroke-width="0.3" />
<path d="M521.81 376.55 A63.8 63.8 0 0 1 521.89 378.78 L517.59 378.86 A59.5 59.5 0 0 0 517.51 376.78 Z" fill="#8ac4b8" stroke="none" stroke-width="0.3" />
<path d="M521.89 378.78 A63.8 63.8 0 0 1 521.88 381.67 L517.58 381.56 A59.5 59.5 0 0 0 517.59 378.86 Z" fill="#68bcac" stroke="none" stroke-width="0.3" />
<path d="M521.88 381.67 A63.8 63.8 0 0 1 521.78 383.89 L517.49 383.63 A59.5 59.5 0 0 0 517.58 381.56 Z" fill="#b6a2cc" stroke="none" stroke-width="0.3" />
<path d="M521.78 383.89 A63.8 63.8 0 0 1 521.72 384.78 L517.43 384.46 A59.5 59.5 0 0 0 517.49 383.63 Z" fill="#b0bcd4" stroke="none" stroke-width="0.3" />
<path d="M515.37 366.25 A58.9 58.9 0 0 1 516.83 384.42 L504.97 383.52 A47 47 0 0 0 503.8 369.03 Z" fill="none" stroke="#c8c8c8" stroke-width="0.3" />
<path d="M503.32 369.14 A46.5 46.5 0 0 1 504.47 383.49 L498.79 383.06 A40.8 40.8 0 0 0 497.77 370.48 Z" fill="none" stroke="#c8c8c8" stroke-width="0.3" />
<path d="M497.38 370.57 A40.4 40.4 0 0 1 498.39 383.03 L496.19 382.86 A38.2 38.2 0 0 0 495.24 371.08 Z" fill="none" stroke="#d0d0d0" stroke-width="0.3" />
<text x="535.45" y="373.78" font-size="6.3" fill="#444" text-anchor="middle" dominant-baseline="central" transform="rotate(85.4 535.45 373.78)">4</text>
<path d="M528.01 387.35 A70.3 70.3 0 0 1 522.07 409.15 L517.43 407.04 A65.2 65.2 0 0 0 522.94 386.82 Z" fill="#f4f4f4" stroke="none" stroke-width="0.3" />
<path d="M528.01 387.35 A70.3 70.3 0 0 1 527.92 388.2 L522.85 387.61 A65.2 65.2 0 0 0 522.94 386.82 Z" fill="#e2e2e2" stroke="none" stroke-width="0.3" />
<path d="M527.92 388.2 A70.3 70.3 0 0 1 527.78 389.3 L522.73 388.62 A65.2 65.2 0 0 0 522.85 387.61 Z" fill="#aaa" stroke="none" stroke-width="0.3" />
<path d="M527.78 389.3 A70.3 70.3 0 0 1 527.57 390.75 L522.53 389.97 A65.2 65.2 0 0 0 522.73 388.62 Z" fill="#111" stroke="none" stroke-width="0.3" />
<path d="M527.57 390.75 A70.3 70.3 0 0 1 527.33 392.21 L522.31 391.32 A65.2 65.2 0 0 0 522.53 389.97 Z" fill="#fff" stroke="none" stroke-width="0.3" />
<path d="M527.33 392.21 A70.3 70.3 0 0 1 527.06 393.65 L522.06 392.66 A65.2 65.2 0 0 0 522.31 391.32 Z" fill="#fff" stroke="none" stroke-width="0.3" />
<path d="M527.06 393.65 A70.3 70.3 0 0 1 526.89 394.5 L521.9 393.44 A65.2 65.2 0 0 0 522.06 392.66 Z" fill="#f6f6f6" stroke="none" stroke-width="0.3" />
<path d="M526.89 394.5 A70.3 70.3 0 0 1 526.34 396.89 L521.39 395.66 A65.2 65.2 0 0 0 521.9 393.44 Z" fill="#ececec" stroke="none" stroke-width="0.3" />
<path d="M526.34 396.89 A70.3 70.3 0 0 1 526.13 397.72 L521.19 396.43 A65.2 65.2 0 0 0 521.39 395.66 Z" fill="#fff" stroke="none" stroke-width="0.3" />
<path d="M526.13 397.72 A70.3 70.3 0 0 1 525.47 400.08 L520.58 398.63 A65.2 65.2 0 0 0 521.19 396.43 Z" fill="#ccc" stroke="none" stroke-width="0.3" />
<path d="M525.47 400.08 A70.3 70.3 0 0 1 525.22 400.91 L520.35 399.39 A65.2 65.2 0 0 0 520.58 398.63 Z" fill="#ccc" stroke="none" stroke-width="0.3" />
<path d="M525.22 400.91 A70.3 70.3 0 0 1 524.45 403.24 L519.64 401.55 A65.2 65.2 0 0 0 520.35 399.39 Z" fill="#fff" stroke="none" stroke-width="0.3" />
<path d="M524.45 403.24 A70.3 70.3 0 0 1 523.95 404.62 L519.17 402.83 A65.2 65.2 0 0 0 519.64 401.55 Z" fill="#e2e2e2" stroke="none" stroke-width="0.3" />
<path d="M523.95 404.62 A70.3 70.3 0 0 1 523.42 405.99 L518.68 404.11 A65.2 65.2 0 0 0 519.17 402.83 Z" fill="#ececec" stroke="none" stroke-width="0.3" />
<path d="M523.42 405.99 A70.3 70.3 0 0 1 523 407.02 L518.29 405.06 A65.2 65.2 0 0 0 518.68 404.11 Z" fill="#fff" stroke="none" stroke-width="0.3" />
<path d="M523 407.02 A70.3 70.3 0 0 1 522.22 408.82 L517.57 406.73 A65.2 65.2 0 0 0 518.29 405.06 Z" fill="#e2e2e2" stroke="none" stroke-width="0.3" />
<path d="M522.22 408.82 A70.3 70.3 0 0 1 522.07 409.15 L517.43 407.04 A65.2 65.2 0 0 0 517.57 406.73 Z" fill="#ececec" stroke="none" stroke-width="0.3" />
<path d="M526.31 397.01 A70.3 70.3 0 0 1 526.1 397.84 L521.17 396.55 A65.2 65.2 0 0 0 521.36 395.77 Z" fill="#e85a5a" stroke="none" stroke-width="0.3" />
<path d="M521.55 386.67 A63.8 63.8 0 0 1 521.28 388.88 L517.02 388.28 A59.5 59.5 0 0 0 517.27 386.22 Z" fill="#9aa2cc" stroke="none" stroke-width="0.3" />
<path d="M521.28 388.88 A63.8 63.8 0 0 1 521.08 390.2 L516.83 389.51 A59.5 59.5 0 0 0 517.02 388.28 Z" fill="#94acac" stroke="none" stroke-width="0.3" />
<path d="M521.08 390.2 A63.8 63.8 0 0 1 520.68 392.39 L516.47 391.56 A59.5 59.5 0 0 0 516.83 389.51 Z" fill="#94acac" stroke="none" stroke-width="0.3" />
<path d="M520.68 392.39 A63.8 63.8 0 0 1 520.21 394.57 L516.03 393.59 A59.5 59.5 0 0 0 516.47 391.56 Z" fill="#8ac4b8" stroke="none" stroke-width="0.3" />
<path d="M520.21 394.57 A63.8 63.8 0 0 1 519.9 395.87 L515.73 394.8 A59.5 59.5 0 0 0 516.03 393.59 Z" fill="#94acac" stroke="none" stroke-width="0.3" />
<path d="M519.9 395.87 A63.8 63.8 0 0 1 519.64 396.84 L515.49 395.7 A59.5 59.5 0 0 0 515.73 394.8 Z" fill="#58b0a0" stroke="none" stroke-width="0.3" />
<path d="M519.64 396.84 A63.8 63.8 0 0 1 519.37 397.8 L515.24 396.6 A59.5 59.5 0 0 0 515.49 395.7 Z" fill="#b0bcd4" stroke="none" stroke-width="0.3" />
<path d="M519.37 397.8 A63.8 63.8 0 0 1 519.08 398.76 L514.97 397.5 A59.5 59.5 0 0 0 515.24 396.6 Z" fill="#58b0a0" stroke="none" stroke-width="0.3" />
<path d="M519.08 398.76 A63.8 63.8 0 0 1 518.17 401.51 L514.12 400.06 A59.5 59.5 0 0 0 514.97 397.5 Z" fill="#94acac" stroke="none" stroke-width="0.3" />
<path d="M518.17 401.51 A63.8 63.8 0 0 1 517.13 404.21 L513.15 402.58 A59.5 59.5 0 0 0 514.12 400.06 Z" fill="#9aa2cc" stroke="none" stroke-width="0.3" />
<path d="M517.13 404.21 A63.8 63.8 0 0 1 516.43 405.85 L512.5 404.11 A59.5 59.5 0 0 0 513.15 402.58 Z" fill="#94acac" stroke="none" stroke-width="0.3" />
<path d="M516.43 405.85 A63.8 63.8 0 0 1 516.16 406.46 L512.24 404.67 A59.5 59.5 0 0 0 512.5 404.11 Z" fill="#b0bcd4" stroke="none" stroke-width="0.3" />
<path d="M516.68 386.16 A58.9 58.9 0 0 1 511.7 404.43 L500.87 399.49 A47 47 0 0 0 504.84 384.91 Z" fill="none" stroke="#c8c8c8" stroke-width="0.3" />
<path d="M504.35 384.86 A46.5 46.5 0 0 1 500.41 399.28 L495.23 396.92 A40.8 40.8 0 0 0 498.68 384.26 Z" fill="none" stroke="#c8c8c8" stroke-width="0.3" />
<path d="M498.28 384.22 A40.4 40.4 0 0 1 494.86 396.75 L492.86 395.84 A38.2 38.2 0 0 0 496.09 383.99 Z" fill="none" stroke="#d0d0d0" stroke-width="0.3" />
<text x="532.97" y="400.41" font-size="6.3" fill="#444" text-anchor="middle" dominant-baseline="central" transform="rotate(105.25 532.97 400.41)">5</text>
<path d="M521.29 410.82 A70.3 70.3 0 0 1 508.41 429.1 L504.76 425.54 A65.2 65.2 0 0 0 516.7 408.58 Z" fill="#f4f4f4" stroke="none" stroke-width="0.3" />
<path d="M521.29 410.82 A70.3 70.3 0 0 1 520.79 411.81 L516.25 409.5 A65.2 65.2 0 0 0 516.7 408.58 Z" fill="#fff" stroke="none" stroke-width="0.3" />
<path d="M520.79 411.81 A70.3 70.3 0 0 1 520.11 413.11 L515.61 410.71 A65.2 65.2 0 0 0 516.25 409.5 Z" fill="#fff" stroke="none" stroke-width="0.3" />
<path d="M520.11 413.11 A70.3 70.3 0 0 1 519.16 414.83 L514.73 412.3 A65.2 65.2 0 0 0 515.61 410.71 Z" fill="#fff" stroke="none" stroke-width="0.3" />
<path d="M519.16 414.83 A70.3 70.3 0 0 1 518.61 415.79 L514.22 413.19 A65.2 65.2 0 0 0 514.73 412.3 Z" fill="#e2e2e2" stroke="none" stroke-width="0.3" />
<path d="M518.61 415.79 A70.3 70.3 0 0 1 517.32 417.88 L513.03 415.13 A65.2 65.2 0 0 0 514.22 413.19 Z" fill="#ccc" stroke="none" stroke-width="0.3" />
<path d="M517.32 417.88 A70.3 70.3 0 0 1 516.52 419.11 L512.28 416.27 A65.2 65.2 0 0 0 513.03 415.13 Z" fill="#fff" stroke="none" stroke-width="0.3" />
<path d="M516.52 419.11 A70.3 70.3 0 0 1 515.69 420.32 L511.51 417.4 A65.2 65.2 0 0 0 512.28 416.27 Z" fill="#fff" stroke="none" stroke-width="0.3" />
<path d="M515.69 420.32 A70.3 70.3 0 0 1 515.19 421.02 L511.05 418.05 A65.2 65.2 0 0 0 511.51 417.4 Z" fill="#ececec" stroke="none" stroke-width="0.3" />
<path d="M515.19 421.02 A70.3 70.3 0 0 1 514.32 422.21 L510.24 419.15 A65.2 65.2 0 0 0 511.05 418.05 Z" fill="#fff" stroke="none" stroke-width="0.3" />
<path d="M514.32 422.21 A70.3 70.3 0 0 1 513.42 423.38 L509.41 420.23 A65.2 65.2 0 0 0 510.24 419.15 Z" fill="#777" stroke="none" stroke-width="0.3" />
<path d="M513.42 423.38 A70.3 70.3 0 0 1 512.19 424.91 L508.26 421.65 A65.2 65.2 0 0 0 509.41 420.23 Z" fill="#111" stroke="none" stroke-width="0.3" />
<path d="M512.19 424.91 A70.3 70.3 0 0 1 511.64 425.56 L507.75 422.26 A65.2 65.2 0 0 0 508.26 421.65 Z" fill="#222" stroke="none" stroke-width="0.3" />
<path d="M511.64 425.56 A70.3 70.3 0 0 1 510.01 427.4 L506.25 423.96 A65.2 65.2 0 0 0 507.75 422.26 Z" fill="#fff" stroke="none" stroke-width="0.3" />
<path d="M510.01 427.4 A70.3 70.3 0 0 1 509.26 428.21 L505.55 424.72 A65.2 65.2 0 0 0 506.25 423.96 Z" fill="#ccc" stroke="none" stroke-width="0.3" />
<path d="M509.26 428.21 A70.3 70.3 0 0 1 508.67 428.83 L505 425.29 A65.2 65.2 0 0 0 505.55 424.72 Z" fill="#777" stroke="none" stroke-width="0.3" />
<path d="M508.67 428.83 A70.3 70.3 0 0 1 508.41 429.1 L504.76 425.54 A65.2 65.2 0 0 0 505 425.29 Z" fill="#111" stroke="none" stroke-width="0.3" />
<path d="M517.01 418.36 A70.3 70.3 0 0 1 516.54 419.08 L512.3 416.24 A65.2 65.2 0 0 0 512.74 415.58 Z" fill="#e85a5a" stroke="none" stroke-width="0.3" />
<path d="M515.44 407.97 A63.8 63.8 0 0 1 514.43 409.95 L510.64 407.93 A59.5 59.5 0 0 0 511.58 406.08 Z" fill="#6cb8b8" stroke="none" stroke-width="0.3" />
<path d="M514.43 409.95 A63.8 63.8 0 0 1 513.02 412.48 L509.31 410.29 A59.5 59.5 0 0 0 510.64 407.93 Z" fill="#a4b0c0" stroke="none" stroke-width="0.3" />
<path d="M513.02 412.48 A63.8 63.8 0 0 1 512.32 413.62 L508.67 411.35 A59.5 59.5 0 0 0 509.31 410.29 Z" fill="#b6a2cc" stroke="none" stroke-width="0.3" />
<path d="M512.32 413.62 A63.8 63.8 0 0 1 511.79 414.47 L508.17 412.14 A59.5 59.5 0 0 0 508.67 411.35 Z" fill="#8ac4b8" stroke="none" stroke-width="0.3" />
<path d="M511.79 414.47 A63.8 63.8 0 0 1 510.55 416.32 L507.02 413.87 A59.5 59.5 0 0 0 508.17 412.14 Z" fill="#a4b0c0" stroke="none" stroke-width="0.3" />
<path d="M510.55 416.32 A63.8 63.8 0 0 1 509.78 417.41 L506.3 414.89 A59.5 59.5 0 0 0 507.02 413.87 Z" fill="#a4b0c0" stroke="none" stroke-width="0.3" />
<path d="M509.78 417.41 A63.8 63.8 0 0 1 508.72 418.84 L505.3 416.22 A59.5 59.5 0 0 0 506.3 414.89 Z" fill="#b6a2cc" stroke="none" stroke-width="0.3" />
<path d="M508.72 418.84 A63.8 63.8 0 0 1 506.9 421.1 L503.61 418.33 A59.5 59.5 0 0 0 505.3 416.22 Z" fill="#b6a2cc" stroke="none" stroke-width="0.3" />
<path d="M506.9 421.1 A63.8 63.8 0 0 1 504.99 423.27 L501.83 420.35 A59.5 59.5 0 0 0 503.61 418.33 Z" fill="#94acac" stroke="none" stroke-width="0.3" />
<path d="M504.99 423.27 A63.8 63.8 0 0 1 504.3 424 L501.19 421.03 A59.5 59.5 0 0 0 501.83 420.35 Z" fill="#68bcac" stroke="none" stroke-width="0.3" />
<path d="M504.3 424 A63.8 63.8 0 0 1 503.76 424.56 L500.68 421.56 A59.5 59.5 0 0 0 501.19 421.03 Z" fill="#a4b0c0" stroke="none" stroke-width="0.3" />
<path d="M511.04 405.82 A58.9 58.9 0 0 1 500.25 421.14 L491.74 412.83 A47 47 0 0 0 500.34 400.6 Z" fill="none" stroke="#c8c8c8" stroke-width="0.3" />
<path d="M499.89 400.38 A46.5 46.5 0 0 1 491.38 412.48 L487.3 408.5 A40.8 40.8 0 0 0 494.77 397.89 Z" fill="none" stroke="#c8c8c8" stroke-width="0.3" />
<path d="M494.41 397.71 A40.4 40.4 0 0 1 487.01 408.22 L485.44 406.68 A38.2 38.2 0 0 0 492.43 396.75 Z" fill="none" stroke="#d0d0d0" stroke-width="0.3" />
<text x="521.55" y="424.68" font-size="6.3" fill="#444" text-anchor="middle" dominant-baseline="central" transform="rotate(125.15 521.55 424.68)">6</text>
<path d="M506.93 430.57 A70.3 70.3 0 0 1 491.32 441.96 L488.91 437.46 A65.2 65.2 0 0 0 503.39 426.9 Z" fill="#f4f4f4" stroke="none" stroke-width="0.3" />
<path d="M506.93 430.57 A70.3 70.3 0 0 1 505.86 431.58 L502.4 427.84 A65.2 65.2 0 0 0 503.39 426.9 Z" fill="#e2e2e2" stroke="none" stroke-width="0.3" />
<path d="M505.86 431.58 A70.3 70.3 0 0 1 504.77 432.57 L501.39 428.76 A65.2 65.2 0 0 0 502.4 427.84 Z" fill="#f6f6f6" stroke="none" stroke-width="0.3" />
<path d="M504.77 432.57 A70.3 70.3 0 0 1 502.91 434.17 L499.66 430.24 A65.2 65.2 0 0 0 501.39 428.76 Z" fill="#111" stroke="none" stroke-width="0.3" />
<path d="M502.91 434.17 A70.3 70.3 0 0 1 501.38 435.4 L498.24 431.38 A65.2 65.2 0 0 0 499.66 430.24 Z" fill="#ececec" stroke="none" stroke-width="0.3" />
<path d="M501.38 435.4 A70.3 70.3 0 0 1 500.21 436.29 L497.16 432.21 A65.2 65.2 0 0 0 498.24 431.38 Z" fill="#222" stroke="none" stroke-width="0.3" />
<path d="M500.21 436.29 A70.3 70.3 0 0 1 498.22 437.73 L495.31 433.54 A65.2 65.2 0 0 0 497.16 432.21 Z" fill="#777" stroke="none" stroke-width="0.3" />
<path d="M498.22 437.73 A70.3 70.3 0 0 1 497.51 438.21 L494.65 433.99 A65.2 65.2 0 0 0 495.31 433.54 Z" fill="#111" stroke="none" stroke-width="0.3" />
<path d="M497.51 438.21 A70.3 70.3 0 0 1 496.29 439.03 L493.51 434.74 A65.2 65.2 0 0 0 494.65 433.99 Z" fill="#fff" stroke="none" stroke-width="0.3" />
<path d="M496.29 439.03 A70.3 70.3 0 0 1 494.62 440.07 L491.97 435.71 A65.2 65.2 0 0 0 493.51 434.74 Z" fill="#222" stroke="none" stroke-width="0.3" />
<path d="M494.62 440.07 A70.3 70.3 0 0 1 493.89 440.51 L491.29 436.12 A65.2 65.2 0 0 0 491.97 435.71 Z" fill="#222" stroke="none" stroke-width="0.3" />
<path d="M493.89 440.51 A70.3 70.3 0 0 1 491.75 441.72 L489.31 437.24 A65.2 65.2 0 0 0 491.29 436.12 Z" fill="#aaa" stroke="none" stroke-width="0.3" />
<path d="M491.75 441.72 A70.3 70.3 0 0 1 491.32 441.96 L488.91 437.46 A65.2 65.2 0 0 0 489.31 437.24 Z" fill="#fff" stroke="none" stroke-width="0.3" />
<path d="M501.74 435.12 A70.3 70.3 0 0 1 501.06 435.65 L497.94 431.61 A65.2 65.2 0 0 0 498.57 431.12 Z" fill="#e85a5a" stroke="none" stroke-width="0.3" />
<path d="M502.42 425.89 A63.8 63.8 0 0 1 500.79 427.41 L497.91 424.22 A59.5 59.5 0 0 0 499.43 422.8 Z" fill="#94acac" stroke="none" stroke-width="0.3" />
<path d="M500.79 427.41 A63.8 63.8 0 0 1 498.6 429.3 L495.87 425.98 A59.5 59.5 0 0 0 497.91 424.22 Z" fill="#b6a2cc" stroke="none" stroke-width="0.3" />
<path d="M498.6 429.3 A63.8 63.8 0 0 1 496.85 430.68 L494.24 427.27 A59.5 59.5 0 0 0 495.87 425.98 Z" fill="#b6a2cc" stroke="none" stroke-width="0.3" />
<path d="M496.85 430.68 A63.8 63.8 0 0 1 495.06 432.01 L492.57 428.5 A59.5 59.5 0 0 0 494.24 427.27 Z" fill="#8ac4b8" stroke="none" stroke-width="0.3" />
<path d="M495.06 432.01 A63.8 63.8 0 0 1 493.59 433.02 L491.2 429.44 A59.5 59.5 0 0 0 492.57 428.5 Z" fill="#b6a2cc" stroke="none" stroke-width="0.3" />
<path d="M493.59 433.02 A63.8 63.8 0 0 1 492.75 433.57 L490.42 429.96 A59.5 59.5 0 0 0 491.2 429.44 Z" fill="#a4b0c0" stroke="none" stroke-width="0.3" />
<path d="M492.75 433.57 A63.8 63.8 0 0 1 491.91 434.11 L489.63 430.46 A59.5 59.5 0 0 0 490.42 429.96 Z" fill="#b0bcd4" stroke="none" stroke-width="0.3" />
<path d="M491.91 434.11 A63.8 63.8 0 0 1 489.42 435.58 L487.31 431.84 A59.5 59.5 0 0 0 489.63 430.46 Z" fill="#a4b0c0" stroke="none" stroke-width="0.3" />
<path d="M489.42 435.58 A63.8 63.8 0 0 1 488.25 436.23 L486.22 432.44 A59.5 59.5 0 0 0 487.31 431.84 Z" fill="#a4b0c0" stroke="none" stroke-width="0.3" />
<path d="M499.02 422.37 A58.9 58.9 0 0 1 485.93 431.91 L480.31 421.42 A47 47 0 0 0 490.75 413.81 Z" fill="none" stroke="#c8c8c8" stroke-width="0.3" />
<path d="M490.4 413.45 A46.5 46.5 0 0 1 480.07 420.98 L477.38 415.96 A40.8 40.8 0 0 0 486.44 409.35 Z" fill="none" stroke="#c8c8c8" stroke-width="0.3" />
<path d="M486.16 409.06 A40.4 40.4 0 0 1 477.19 415.6 L476.15 413.67 A38.2 38.2 0 0 0 484.64 407.48 Z" fill="none" stroke="#d0d0d0" stroke-width="0.3" />
<text x="503.82" y="442.7" font-size="6.3" fill="#444" text-anchor="middle" dominant-baseline="central" transform="rotate(143.9 503.82 442.7)">7</text>
<path d="M489.58 442.86 A70.3 70.3 0 0 1 471.51 449.01 L470.54 444 A65.2 65.2 0 0 0 487.29 438.3 Z" fill="#f4f4f4" stroke="none" stroke-width="0.3" />
<path d="M489.58 442.86 A70.3 70.3 0 0 1 487.81 443.71 L485.65 439.09 A65.2 65.2 0 0 0 487.29 438.3 Z" fill="#f6f6f6" stroke="none" stroke-width="0.3" />
<path d="M487.81 443.71 A70.3 70.3 0 0 1 485.57 444.71 L483.58 440.02 A65.2 65.2 0 0 0 485.65 439.09 Z" fill="#fff" stroke="none" stroke-width="0.3" />
<path d="M485.57 444.71 A70.3 70.3 0 0 1 484.21 445.27 L482.31 440.54 A65.2 65.2 0 0 0 483.58 440.02 Z" fill="#fff" stroke="none" stroke-width="0.3" />
<path d="M484.21 445.27 A70.3 70.3 0 0 1 483.18 445.67 L481.36 440.91 A65.2 65.2 0 0 0 482.31 440.54 Z" fill="#fff" stroke="none" stroke-width="0.3" />
<path d="M483.18 445.67 A70.3 70.3 0 0 1 480.87 446.51 L479.22 441.68 A65.2 65.2 0 0 0 481.36 440.91 Z" fill="#fff" stroke="none" stroke-width="0.3" />
<path d="M480.87 446.51 A70.3 70.3 0 0 1 480.06 446.78 L478.46 441.94 A65.2 65.2 0 0 0 479.22 441.68 Z" fill="#444" stroke="none" stroke-width="0.3" />
<path d="M480.06 446.78 A70.3 70.3 0 0 1 479.01 447.12 L477.49 442.25 A65.2 65.2 0 0 0 478.46 441.94 Z" fill="#ccc" stroke="none" stroke-width="0.3" />
<path d="M479.01 447.12 A70.3 70.3 0 0 1 478.18 447.37 L476.73 442.48 A65.2 65.2 0 0 0 477.49 442.25 Z" fill="#444" stroke="none" stroke-width="0.3" />
<path d="M478.18 447.37 A70.3 70.3 0 0 1 477.36 447.61 L475.96 442.71 A65.2 65.2 0 0 0 476.73 442.48 Z" fill="#ececec" stroke="none" stroke-width="0.3" />
<path d="M477.36 447.61 A70.3 70.3 0 0 1 475.46 448.12 L474.2 443.18 A65.2 65.2 0 0 0 475.96 442.71 Z" fill="#444" stroke="none" stroke-width="0.3" />
<path d="M475.46 448.12 A70.3 70.3 0 0 1 473.56 448.58 L472.43 443.6 A65.2 65.2 0 0 0 474.2 443.18 Z" fill="#f6f6f6" stroke="none" stroke-width="0.3" />
<path d="M473.56 448.58 A70.3 70.3 0 0 1 471.63 448.98 L470.65 443.98 A65.2 65.2 0 0 0 472.43 443.6 Z" fill="#111" stroke="none" stroke-width="0.3" />
<path d="M471.63 448.98 A70.3 70.3 0 0 1 471.51 449.01 L470.54 444 A65.2 65.2 0 0 0 470.65 443.98 Z" fill="#444" stroke="none" stroke-width="0.3" />
<path d="M483.84 445.42 A70.3 70.3 0 0 1 483.04 445.73 L481.23 440.96 A65.2 65.2 0 0 0 481.97 440.67 Z" fill="#e85a5a" stroke="none" stroke-width="0.3" />
<path d="M486.67 437.05 A63.8 63.8 0 0 1 485.47 437.63 L483.62 433.75 A59.5 59.5 0 0 0 484.74 433.2 Z" fill="#94acac" stroke="none" stroke-width="0.3" />
<path d="M485.47 437.63 A63.8 63.8 0 0 1 484.56 438.06 L482.77 434.14 A59.5 59.5 0 0 0 483.62 433.75 Z" fill="#9aa2cc" stroke="none" stroke-width="0.3" />
<path d="M484.56 438.06 A63.8 63.8 0 0 1 482.93 438.77 L481.25 434.81 A59.5 59.5 0 0 0 482.77 434.14 Z" fill="#b6a2cc" stroke="none" stroke-width="0.3" />
<path d="M482.93 438.77 A63.8 63.8 0 0 1 481.69 439.28 L480.1 435.28 A59.5 59.5 0 0 0 481.25 434.81 Z" fill="#9aa2cc" stroke="none" stroke-width="0.3" />
<path d="M481.69 439.28 A63.8 63.8 0 0 1 478.98 440.29 L477.57 436.22 A59.5 59.5 0 0 0 480.1 435.28 Z" fill="#9aa2cc" stroke="none" stroke-width="0.3" />
<path d="M478.98 440.29 A63.8 63.8 0 0 1 476.86 440.98 L475.6 436.87 A59.5 59.5 0 0 0 477.57 436.22 Z" fill="#9aa2cc" stroke="none" stroke-width="0.3" />
<path d="M476.86 440.98 A63.8 63.8 0 0 1 475.9 441.27 L474.7 437.14 A59.5 59.5 0 0 0 475.6 436.87 Z" fill="#94acac" stroke="none" stroke-width="0.3" />
<path d="M475.9 441.27 A63.8 63.8 0 0 1 474.61 441.63 L473.5 437.47 A59.5 59.5 0 0 0 474.7 437.14 Z" fill="#68bcac" stroke="none" stroke-width="0.3" />
<path d="M474.61 441.63 A63.8 63.8 0 0 1 471.8 442.31 L470.88 438.11 A59.5 59.5 0 0 0 473.5 437.47 Z" fill="#7fa8c0" stroke="none" stroke-width="0.3" />
<path d="M471.8 442.31 A63.8 63.8 0 0 1 470.27 442.63 L469.45 438.41 A59.5 59.5 0 0 0 470.88 438.11 Z" fill="#7fa8c0" stroke="none" stroke-width="0.3" />
<path d="M484.47 432.67 A58.9 58.9 0 0 1 469.34 437.82 L467.07 426.14 A47 47 0 0 0 479.14 422.03 Z" fill="none" stroke="#c8c8c8" stroke-width="0.3" />
<path d="M478.92 421.58 A46.5 46.5 0 0 1 466.97 425.65 L465.89 420.05 A40.8 40.8 0 0 0 476.37 416.48 Z" fill="none" stroke="#c8c8c8" stroke-width="0.3" />
<path d="M476.19 416.12 A40.4 40.4 0 0 1 465.81 419.66 L465.39 417.5 A38.2 38.2 0 0 0 475.2 414.16 Z" fill="none" stroke="#d0d0d0" stroke-width="0.3" />
<text x="483.11" y="453.46" font-size="6.3" fill="#444" text-anchor="middle" dominant-baseline="central" transform="rotate(161.2 483.11 453.46)">8</text>
<path d="M469.7 449.34 A70.3 70.3 0 0 1 454.42 450.2 L454.69 445.11 A65.2 65.2 0 0 0 468.86 444.31 Z" fill="#f4f4f4" stroke="none" stroke-width="0.3" />
<path d="M469.7 449.34 A70.3 70.3 0 0 1 467.28 449.7 L466.61 444.64 A65.2 65.2 0 0 0 468.86 444.31 Z" fill="#e2e2e2" stroke="none" stroke-width="0.3" />
<path d="M467.28 449.7 A70.3 70.3 0 0 1 466.42 449.81 L465.82 444.74 A65.2 65.2 0 0 0 466.61 444.64 Z" fill="#f6f6f6" stroke="none" stroke-width="0.3" />
<path d="M466.42 449.81 A70.3 70.3 0 0 1 464.47 450.01 L464.01 444.93 A65.2 65.2 0 0 0 465.82 444.74 Z" fill="#e2e2e2" stroke="none" stroke-width="0.3" />
<path d="M464.47 450.01 A70.3 70.3 0 0 1 463.37 450.1 L462.99 445.02 A65.2 65.2 0 0 0 464.01 444.93 Z" fill="#111" stroke="none" stroke-width="0.3" />
<path d="M463.37 450.1 A70.3 70.3 0 0 1 461.41 450.22 L461.17 445.13 A65.2 65.2 0 0 0 462.99 445.02 Z" fill="#444" stroke="none" stroke-width="0.3" />
<path d="M461.41 450.22 A70.3 70.3 0 0 1 459.94 450.28 L459.81 445.18 A65.2 65.2 0 0 0 461.17 445.13 Z" fill="#222" stroke="none" stroke-width="0.3" />
<path d="M459.94 450.28 A70.3 70.3 0 0 1 457.49 450.3 L457.53 445.2 A65.2 65.2 0 0 0 459.81 445.18 Z" fill="#fff" stroke="none" stroke-width="0.3" />
<path d="M457.49 450.3 A70.3 70.3 0 0 1 455.52 450.25 L455.71 445.16 A65.2 65.2 0 0 0 457.53 445.2 Z" fill="#ececec" stroke="none" stroke-width="0.3" />
<path d="M455.52 450.25 A70.3 70.3 0 0 1 454.42 450.2 L454.69 445.11 A65.2 65.2 0 0 0 455.71 445.16 Z" fill="#111" stroke="none" stroke-width="0.3" />
<path d="M464.29 450.03 A70.3 70.3 0 0 1 463.43 450.1 L463.05 445.01 A65.2 65.2 0 0 0 463.84 444.95 Z" fill="#e85a5a" stroke="none" stroke-width="0.3" />
<path d="M468.63 442.93 A63.8 63.8 0 0 1 467.31 443.13 L466.69 438.88 A59.5 59.5 0 0 0 467.92 438.68 Z" fill="#a4b0c0" stroke="none" stroke-width="0.3" />
<path d="M467.31 443.13 A63.8 63.8 0 0 1 465.99 443.31 L465.45 439.04 A59.5 59.5 0 0 0 466.69 438.88 Z" fill="#94acac" stroke="none" stroke-width="0.3" />
<path d="M465.99 443.31 A63.8 63.8 0 0 1 463.11 443.6 L462.77 439.32 A59.5 59.5 0 0 0 465.45 439.04 Z" fill="#a4b0c0" stroke="none" stroke-width="0.3" />
<path d="M463.11 443.6 A63.8 63.8 0 0 1 460.22 443.76 L460.07 439.47 A59.5 59.5 0 0 0 462.77 439.32 Z" fill="#6cb8b8" stroke="none" stroke-width="0.3" />
<path d="M460.22 443.76 A63.8 63.8 0 0 1 457.32 443.8 L457.37 439.5 A59.5 59.5 0 0 0 460.07 439.47 Z" fill="#8ac4b8" stroke="none" stroke-width="0.3" />
<path d="M457.32 443.8 A63.8 63.8 0 0 1 455.54 443.75 L455.71 439.45 A59.5 59.5 0 0 0 457.37 439.5 Z" fill="#7fa8c0" stroke="none" stroke-width="0.3" />
<path d="M455.54 443.75 A63.8 63.8 0 0 1 454.76 443.71 L454.99 439.42 A59.5 59.5 0 0 0 455.71 439.45 Z" fill="#8ac4b8" stroke="none" stroke-width="0.3" />
<path d="M467.82 438.09 A58.9 58.9 0 0 1 455.02 438.82 L455.64 426.94 A47 47 0 0 0 465.86 426.36 Z" fill="none" stroke="#c8c8c8" stroke-width="0.3" />
<path d="M465.77 425.86 A46.5 46.5 0 0 1 455.67 426.44 L455.96 420.74 A40.8 40.8 0 0 0 464.83 420.24 Z" fill="none" stroke="#c8c8c8" stroke-width="0.3" />
<path d="M464.77 419.85 A40.4 40.4 0 0 1 455.99 420.34 L456.1 418.15 A38.2 38.2 0 0 0 464.4 417.68 Z" fill="none" stroke="#d0d0d0" stroke-width="0.3" />
<text x="462.5" y="457.48" font-size="6.3" fill="#444" text-anchor="middle" dominant-baseline="central" transform="rotate(176.75 462.5 457.48)">9</text>
<path d="M452.58 450.08 A70.3 70.3 0 0 1 435.79 446.67 L437.41 441.83 A65.2 65.2 0 0 0 452.98 445 Z" fill="#f4f4f4" stroke="none" stroke-width="0.3" />
<path d="M452.58 450.08 A70.3 70.3 0 0 1 451.12 449.95 L451.62 444.88 A65.2 65.2 0 0 0 452.98 445 Z" fill="#fff" stroke="none" stroke-width="0.3" />
<path d="M451.12 449.95 A70.3 70.3 0 0 1 450.02 449.83 L450.61 444.77 A65.2 65.2 0 0 0 451.62 444.88 Z" fill="#aaa" stroke="none" stroke-width="0.3" />
<path d="M450.02 449.83 A70.3 70.3 0 0 1 448.56 449.65 L449.25 444.6 A65.2 65.2 0 0 0 450.61 444.77 Z" fill="#fff" stroke="none" stroke-width="0.3" />
<path d="M448.56 449.65 A70.3 70.3 0 0 1 446.62 449.36 L447.45 444.32 A65.2 65.2 0 0 0 449.25 444.6 Z" fill="#777" stroke="none" stroke-width="0.3" />
<path d="M446.62 449.36 A70.3 70.3 0 0 1 445.53 449.17 L446.44 444.15 A65.2 65.2 0 0 0 447.45 444.32 Z" fill="#f6f6f6" stroke="none" stroke-width="0.3" />
<path d="M445.53 449.17 A70.3 70.3 0 0 1 444.69 449.01 L445.66 444 A65.2 65.2 0 0 0 446.44 444.15 Z" fill="#222" stroke="none" stroke-width="0.3" />
<path d="M444.69 449.01 A70.3 70.3 0 0 1 443.24 448.71 L444.32 443.73 A65.2 65.2 0 0 0 445.66 444 Z" fill="#444" stroke="none" stroke-width="0.3" />
<path d="M443.24 448.71 A70.3 70.3 0 0 1 440.85 448.15 L442.11 443.21 A65.2 65.2 0 0 0 444.32 443.73 Z" fill="#222" stroke="none" stroke-width="0.3" />
<path d="M440.85 448.15 A70.3 70.3 0 0 1 440.02 447.94 L441.33 443.01 A65.2 65.2 0 0 0 442.11 443.21 Z" fill="#444" stroke="none" stroke-width="0.3" />
<path d="M440.02 447.94 A70.3 70.3 0 0 1 439.19 447.71 L440.57 442.8 A65.2 65.2 0 0 0 441.33 443.01 Z" fill="#fff" stroke="none" stroke-width="0.3" />
<path d="M439.19 447.71 A70.3 70.3 0 0 1 436.84 447.01 L438.39 442.15 A65.2 65.2 0 0 0 440.57 442.8 Z" fill="#fff" stroke="none" stroke-width="0.3" />
<path d="M436.84 447.01 A70.3 70.3 0 0 1 435.79 446.67 L437.41 441.83 A65.2 65.2 0 0 0 438.39 442.15 Z" fill="#fff" stroke="none" stroke-width="0.3" />
<path d="M435.79 446.67 A70.3 70.3 0 0 1 435.79 446.67 L437.41 441.83 A65.2 65.2 0 0 0 437.41 441.83 Z" fill="#fff" stroke="none" stroke-width="0.3" />
<path d="M446.6 449.35 A70.3 70.3 0 0 1 445.76 449.21 L446.65 444.19 A65.2 65.2 0 0 0 447.44 444.32 Z" fill="#e85a5a" stroke="none" stroke-width="0.3" />
<path d="M453.09 443.6 A63.8 63.8 0 0 1 451.32 443.44 L451.78 439.16 A59.5 59.5 0 0 0 453.43 439.32 Z" fill="#7fa8c0" stroke="none" stroke-width="0.3" />
<path d="M451.32 443.44 A63.8 63.8 0 0 1 448.45 443.07 L449.1 438.82 A59.5 59.5 0 0 0 451.78 439.16 Z" fill="#68bcac" stroke="none" stroke-width="0.3" />
<path d="M448.45 443.07 A63.8 63.8 0 0 1 445.6 442.56 L446.44 438.35 A59.5 59.5 0 0 0 449.1 438.82 Z" fill="#b0bcd4" stroke="none" stroke-width="0.3" />
<path d="M445.6 442.56 A63.8 63.8 0 0 1 444.62 442.36 L445.53 438.16 A59.5 59.5 0 0 0 446.44 438.35 Z" fill="#9aa2cc" stroke="none" stroke-width="0.3" />
<path d="M444.62 442.36 A63.8 63.8 0 0 1 442.45 441.85 L443.5 437.68 A59.5 59.5 0 0 0 445.53 438.16 Z" fill="#8ac4b8" stroke="none" stroke-width="0.3" />
<path d="M442.45 441.85 A63.8 63.8 0 0 1 441.48 441.6 L442.6 437.45 A59.5 59.5 0 0 0 443.5 437.68 Z" fill="#7fa8c0" stroke="none" stroke-width="0.3" />
<path d="M441.48 441.6 A63.8 63.8 0 0 1 439.34 440.98 L440.6 436.87 A59.5 59.5 0 0 0 442.6 437.45 Z" fill="#8ac4b8" stroke="none" stroke-width="0.3" />
<path d="M439.34 440.98 A63.8 63.8 0 0 1 438.07 440.57 L439.42 436.49 A59.5 59.5 0 0 0 440.6 436.87 Z" fill="#94acac" stroke="none" stroke-width="0.3" />
<path d="M438.07 440.57 A63.8 63.8 0 0 1 437.86 440.5 L439.22 436.43 A59.5 59.5 0 0 0 439.42 436.49 Z" fill="#58b0a0" stroke="none" stroke-width="0.3" />
<path d="M453.48 438.72 A58.9 58.9 0 0 1 439.41 435.86 L443.19 424.57 A47 47 0 0 0 454.41 426.86 Z" fill="none" stroke="#c8c8c8" stroke-width="0.3" />
<path d="M454.45 426.36 A46.5 46.5 0 0 1 443.35 424.1 L445.15 418.69 A40.8 40.8 0 0 0 454.9 420.67 Z" fill="none" stroke="#c8c8c8" stroke-width="0.3" />
<path d="M454.93 420.28 A40.4 40.4 0 0 1 445.28 418.31 L445.98 416.23 A38.2 38.2 0 0 0 455.1 418.08 Z" fill="none" stroke="#d0d0d0" stroke-width="0.3" />
<text x="442.63" y="456.04" font-size="6.3" fill="#444" text-anchor="middle" dominant-baseline="central" transform="rotate(191.5 442.63 456.04)">10</text>
<path d="M434.06 446.06 A70.3 70.3 0 0 1 418.48 438.07 L421.36 433.86 A65.2 65.2 0 0 0 435.8 441.27 Z" fill="#f4f4f4" stroke="none" stroke-width="0.3" />
<path d="M434.06 446.06 A70.3 70.3 0 0 1 432.68 445.54 L434.52 440.79 A65.2 65.2 0 0 0 435.8 441.27 Z" fill="#ececec" stroke="none" stroke-width="0.3" />
<path d="M432.68 445.54 A70.3 70.3 0 0 1 430.41 444.62 L432.41 439.93 A65.2 65.2 0 0 0 434.52 440.79 Z" fill="#f6f6f6" stroke="none" stroke-width="0.3" />
<path d="M430.41 444.62 A70.3 70.3 0 0 1 429.06 444.02 L431.17 439.38 A65.2 65.2 0 0 0 432.41 439.93 Z" fill="#fff" stroke="none" stroke-width="0.3" />
<path d="M429.06 444.02 A70.3 70.3 0 0 1 427.28 443.19 L429.52 438.6 A65.2 65.2 0 0 0 431.17 439.38 Z" fill="#777" stroke="none" stroke-width="0.3" />
<path d="M427.28 443.19 A70.3 70.3 0 0 1 425.97 442.53 L428.3 437.99 A65.2 65.2 0 0 0 429.52 438.6 Z" fill="#222" stroke="none" stroke-width="0.3" />
<path d="M425.97 442.53 A70.3 70.3 0 0 1 424.66 441.84 L427.09 437.35 A65.2 65.2 0 0 0 428.3 437.99 Z" fill="#222" stroke="none" stroke-width="0.3" />
<path d="M424.66 441.84 A70.3 70.3 0 0 1 422.95 440.88 L425.5 436.46 A65.2 65.2 0 0 0 427.09 437.35 Z" fill="#ececec" stroke="none" stroke-width="0.3" />
<path d="M422.95 440.88 A70.3 70.3 0 0 1 420.85 439.62 L423.55 435.29 A65.2 65.2 0 0 0 425.5 436.46 Z" fill="#111" stroke="none" stroke-width="0.3" />
<path d="M420.85 439.62 A70.3 70.3 0 0 1 418.79 438.28 L421.64 434.05 A65.2 65.2 0 0 0 423.55 435.29 Z" fill="#e2e2e2" stroke="none" stroke-width="0.3" />
<path d="M418.79 438.28 A70.3 70.3 0 0 1 418.48 438.07 L421.36 433.86 A65.2 65.2 0 0 0 421.64 434.05 Z" fill="#f6f6f6" stroke="none" stroke-width="0.3" />
<path d="M426.53 442.81 A70.3 70.3 0 0 1 425.77 442.42 L428.11 437.9 A65.2 65.2 0 0 0 428.82 438.26 Z" fill="#e85a5a" stroke="none" stroke-width="0.3" />
<path d="M436.28 439.95 A63.8 63.8 0 0 1 435.03 439.48 L436.58 435.47 A59.5 59.5 0 0 0 437.75 435.91 Z" fill="#b0bcd4" stroke="none" stroke-width="0.3" />
<path d="M435.03 439.48 A63.8 63.8 0 0 1 434.1 439.11 L435.71 435.13 A59.5 59.5 0 0 0 436.58 435.47 Z" fill="#7fa8c0" stroke="none" stroke-width="0.3" />
<path d="M434.1 439.11 A63.8 63.8 0 0 1 433.17 438.73 L434.85 434.77 A59.5 59.5 0 0 0 435.71 435.13 Z" fill="#68bcac" stroke="none" stroke-width="0.3" />
<path d="M433.17 438.73 A63.8 63.8 0 0 1 431.95 438.19 L433.71 434.27 A59.5 59.5 0 0 0 434.85 434.77 Z" fill="#8ac4b8" stroke="none" stroke-width="0.3" />
<path d="M431.95 438.19 A63.8 63.8 0 0 1 430.73 437.63 L432.58 433.75 A59.5 59.5 0 0 0 433.71 434.27 Z" fill="#68bcac" stroke="none" stroke-width="0.3" />
<path d="M430.73 437.63 A63.8 63.8 0 0 1 428.74 436.64 L430.72 432.83 A59.5 59.5 0 0 0 432.58 433.75 Z" fill="#b6a2cc" stroke="none" stroke-width="0.3" />
<path d="M428.74 436.64 A63.8 63.8 0 0 1 427.17 435.8 L429.25 432.04 A59.5 59.5 0 0 0 430.72 432.83 Z" fill="#68bcac" stroke="none" stroke-width="0.3" />
<path d="M427.17 435.8 A63.8 63.8 0 0 1 425.24 434.69 L427.46 431 A59.5 59.5 0 0 0 429.25 432.04 Z" fill="#b6a2cc" stroke="none" stroke-width="0.3" />
<path d="M425.24 434.69 A63.8 63.8 0 0 1 423.73 433.75 L426.04 430.13 A59.5 59.5 0 0 0 427.46 431 Z" fill="#94acac" stroke="none" stroke-width="0.3" />
<path d="M423.73 433.75 A63.8 63.8 0 0 1 422.15 432.71 L424.57 429.15 A59.5 59.5 0 0 0 426.04 430.13 Z" fill="#58b0a0" stroke="none" stroke-width="0.3" />
<path d="M437.96 435.35 A58.9 58.9 0 0 1 424.91 428.66 L431.61 418.83 A47 47 0 0 0 442.03 424.17 Z" fill="none" stroke="#c8c8c8" stroke-width="0.3" />
<path d="M442.2 423.7 A46.5 46.5 0 0 1 431.9 418.41 L435.11 413.7 A40.8 40.8 0 0 0 444.15 418.34 Z" fill="none" stroke="#c8c8c8" stroke-width="0.3" />
<path d="M444.28 417.96 A40.4 40.4 0 0 1 435.33 413.37 L436.57 411.56 A38.2 38.2 0 0 0 445.03 415.9 Z" fill="none" stroke="#d0d0d0" stroke-width="0.3" />
<text x="422.69" y="449.05" font-size="6.3" fill="#444" text-anchor="middle" dominant-baseline="central" transform="rotate(207.15 422.69 449.05)">11</text>
<path d="M416.78 436.87 A70.3 70.3 0 0 1 405.04 426.12 L408.89 422.78 A65.2 65.2 0 0 0 419.78 432.75 Z" fill="#f4f4f4" stroke="none" stroke-width="0.3" />
<path d="M416.78 436.87 A70.3 70.3 0 0 1 416.09 436.36 L419.13 432.28 A65.2 65.2 0 0 0 419.78 432.75 Z" fill="#aaa" stroke="none" stroke-width="0.3" />
<path d="M416.09 436.36 A70.3 70.3 0 0 1 415.21 435.7 L418.32 431.66 A65.2 65.2 0 0 0 419.13 432.28 Z" fill="#222" stroke="none" stroke-width="0.3" />
<path d="M415.21 435.7 A70.3 70.3 0 0 1 414.34 435.02 L417.51 431.03 A65.2 65.2 0 0 0 418.32 431.66 Z" fill="#444" stroke="none" stroke-width="0.3" />
<path d="M414.34 435.02 A70.3 70.3 0 0 1 413.19 434.09 L416.45 430.16 A65.2 65.2 0 0 0 417.51 431.03 Z" fill="#fff" stroke="none" stroke-width="0.3" />
<path d="M413.19 434.09 A70.3 70.3 0 0 1 411.7 432.81 L415.07 428.98 A65.2 65.2 0 0 0 416.45 430.16 Z" fill="#777" stroke="none" stroke-width="0.3" />
<path d="M411.7 432.81 A70.3 70.3 0 0 1 409.89 431.16 L413.38 427.45 A65.2 65.2 0 0 0 415.07 428.98 Z" fill="#ccc" stroke="none" stroke-width="0.3" />
<path d="M409.89 431.16 A70.3 70.3 0 0 1 409.27 430.57 L412.81 426.9 A65.2 65.2 0 0 0 413.38 427.45 Z" fill="#ccc" stroke="none" stroke-width="0.3" />
<path d="M409.27 430.57 A70.3 70.3 0 0 1 408.48 429.8 L412.08 426.18 A65.2 65.2 0 0 0 412.81 426.9 Z" fill="#ccc" stroke="none" stroke-width="0.3" />
<path d="M408.48 429.8 A70.3 70.3 0 0 1 407.7 429.01 L411.36 425.46 A65.2 65.2 0 0 0 412.08 426.18 Z" fill="#111" stroke="none" stroke-width="0.3" />
<path d="M407.7 429.01 A70.3 70.3 0 0 1 406.35 427.58 L410.11 424.13 A65.2 65.2 0 0 0 411.36 425.46 Z" fill="#111" stroke="none" stroke-width="0.3" />
<path d="M406.35 427.58 A70.3 70.3 0 0 1 405.37 426.49 L409.19 423.12 A65.2 65.2 0 0 0 410.11 424.13 Z" fill="#ececec" stroke="none" stroke-width="0.3" />
<path d="M405.37 426.49 A70.3 70.3 0 0 1 405.04 426.12 L408.89 422.78 A65.2 65.2 0 0 0 409.19 423.12 Z" fill="#111" stroke="none" stroke-width="0.3" />
<path d="M411.88 432.97 A70.3 70.3 0 0 1 411.23 432.4 L414.63 428.6 A65.2 65.2 0 0 0 415.23 429.12 Z" fill="#e85a5a" stroke="none" stroke-width="0.3" />
<path d="M420.6 431.62 A63.8 63.8 0 0 1 419.79 431.02 L422.37 427.58 A59.5 59.5 0 0 0 423.13 428.14 Z" fill="#b6a2cc" stroke="none" stroke-width="0.3" />
<path d="M419.79 431.02 A63.8 63.8 0 0 1 418.04 429.65 L420.74 426.31 A59.5 59.5 0 0 0 422.37 427.58 Z" fill="#9aa2cc" stroke="none" stroke-width="0.3" />
<path d="M418.04 429.65 A63.8 63.8 0 0 1 417.26 429.02 L420.01 425.71 A59.5 59.5 0 0 0 420.74 426.31 Z" fill="#58b0a0" stroke="none" stroke-width="0.3" />
<path d="M417.26 429.02 A63.8 63.8 0 0 1 415.91 427.86 L418.75 424.63 A59.5 59.5 0 0 0 420.01 425.71 Z" fill="#b6a2cc" stroke="none" stroke-width="0.3" />
<path d="M415.91 427.86 A63.8 63.8 0 0 1 414.92 426.96 L417.83 423.8 A59.5 59.5 0 0 0 418.75 424.63 Z" fill="#9aa2cc" stroke="none" stroke-width="0.3" />
<path d="M414.92 426.96 A63.8 63.8 0 0 1 414.18 426.28 L417.14 423.16 A59.5 59.5 0 0 0 417.83 423.8 Z" fill="#8ac4b8" stroke="none" stroke-width="0.3" />
<path d="M414.18 426.28 A63.8 63.8 0 0 1 413.46 425.58 L416.47 422.51 A59.5 59.5 0 0 0 417.14 423.16 Z" fill="#94acac" stroke="none" stroke-width="0.3" />
<path d="M413.46 425.58 A63.8 63.8 0 0 1 412.52 424.64 L415.59 421.63 A59.5 59.5 0 0 0 416.47 422.51 Z" fill="#7fa8c0" stroke="none" stroke-width="0.3" />
<path d="M412.52 424.64 A63.8 63.8 0 0 1 410.54 422.52 L413.74 419.66 A59.5 59.5 0 0 0 415.59 421.63 Z" fill="#b0bcd4" stroke="none" stroke-width="0.3" />
<path d="M410.54 422.52 A63.8 63.8 0 0 1 409.95 421.86 L413.19 419.04 A59.5 59.5 0 0 0 413.74 419.66 Z" fill="#a4b0c0" stroke="none" stroke-width="0.3" />
<path d="M423.48 427.65 A58.9 58.9 0 0 1 413.65 418.64 L422.63 410.83 A47 47 0 0 0 430.47 418.02 Z" fill="none" stroke="#c8c8c8" stroke-width="0.3" />
<path d="M430.77 417.62 A46.5 46.5 0 0 1 423.01 410.51 L427.31 406.77 A40.8 40.8 0 0 0 434.12 413.01 Z" fill="none" stroke="#c8c8c8" stroke-width="0.3" />
<path d="M434.35 412.68 A40.4 40.4 0 0 1 427.61 406.5 L429.27 405.06 A38.2 38.2 0 0 0 435.65 410.9 Z" fill="none" stroke="#d0d0d0" stroke-width="0.3" />
<text x="405.67" y="437.21" font-size="6.3" fill="#444" text-anchor="middle" dominant-baseline="central" transform="rotate(222.5 405.67 437.21)">12</text>
<path d="M403.7 424.53 A70.3 70.3 0 0 1 395.63 412.24 L400.16 409.9 A65.2 65.2 0 0 0 407.65 421.3 Z" fill="#f4f4f4" stroke="none" stroke-width="0.3" />
<path d="M403.7 424.53 A70.3 70.3 0 0 1 402.78 423.38 L406.79 420.23 A65.2 65.2 0 0 0 407.65 421.3 Z" fill="#ccc" stroke="none" stroke-width="0.3" />
<path d="M402.78 423.38 A70.3 70.3 0 0 1 402.25 422.7 L406.3 419.6 A65.2 65.2 0 0 0 406.79 420.23 Z" fill="#f6f6f6" stroke="none" stroke-width="0.3" />
<path d="M402.25 422.7 A70.3 70.3 0 0 1 401.08 421.12 L405.22 418.14 A65.2 65.2 0 0 0 406.3 419.6 Z" fill="#777" stroke="none" stroke-width="0.3" />
<path d="M401.08 421.12 A70.3 70.3 0 0 1 400.44 420.22 L404.63 417.3 A65.2 65.2 0 0 0 405.22 418.14 Z" fill="#777" stroke="none" stroke-width="0.3" />
<path d="M400.44 420.22 A70.3 70.3 0 0 1 399.82 419.31 L404.05 416.46 A65.2 65.2 0 0 0 404.63 417.3 Z" fill="#111" stroke="none" stroke-width="0.3" />
<path d="M399.82 419.31 A70.3 70.3 0 0 1 398.48 417.25 L402.81 414.55 A65.2 65.2 0 0 0 404.05 416.46 Z" fill="#fff" stroke="none" stroke-width="0.3" />
<path d="M398.48 417.25 A70.3 70.3 0 0 1 397.72 416 L402.1 413.39 A65.2 65.2 0 0 0 402.81 414.55 Z" fill="#111" stroke="none" stroke-width="0.3" />
<path d="M397.72 416 A70.3 70.3 0 0 1 396.73 414.3 L401.19 411.81 A65.2 65.2 0 0 0 402.1 413.39 Z" fill="#111" stroke="none" stroke-width="0.3" />
<path d="M396.73 414.3 A70.3 70.3 0 0 1 395.8 412.57 L400.32 410.21 A65.2 65.2 0 0 0 401.19 411.81 Z" fill="#222" stroke="none" stroke-width="0.3" />
<path d="M395.8 412.57 A70.3 70.3 0 0 1 395.63 412.24 L400.16 409.9 A65.2 65.2 0 0 0 400.32 410.21 Z" fill="#777" stroke="none" stroke-width="0.3" />
<path d="M400.7 420.58 A70.3 70.3 0 0 1 400.2 419.88 L404.4 416.98 A65.2 65.2 0 0 0 404.86 417.64 Z" fill="#e85a5a" stroke="none" stroke-width="0.3" />
<path d="M408.73 420.41 A63.8 63.8 0 0 1 408.1 419.63 L411.47 416.96 A59.5 59.5 0 0 0 412.06 417.69 Z" fill="#68bcac" stroke="none" stroke-width="0.3" />
<path d="M408.1 419.63 A63.8 63.8 0 0 1 406.35 417.32 L409.84 414.8 A59.5 59.5 0 0 0 411.47 416.96 Z" fill="#6cb8b8" stroke="none" stroke-width="0.3" />
<path d="M406.35 417.32 A63.8 63.8 0 0 1 404.71 414.93 L408.31 412.58 A59.5 59.5 0 0 0 409.84 414.8 Z" fill="#58b0a0" stroke="none" stroke-width="0.3" />
<path d="M404.71 414.93 A63.8 63.8 0 0 1 404.17 414.09 L407.81 411.79 A59.5 59.5 0 0 0 408.31 412.58 Z" fill="#7fa8c0" stroke="none" stroke-width="0.3" />
<path d="M404.17 414.09 A63.8 63.8 0 0 1 403.47 412.95 L407.15 410.73 A59.5 59.5 0 0 0 407.81 411.79 Z" fill="#b6a2cc" stroke="none" stroke-width="0.3" />
<path d="M403.47 412.95 A63.8 63.8 0 0 1 402.96 412.09 L406.68 409.93 A59.5 59.5 0 0 0 407.15 410.73 Z" fill="#b6a2cc" stroke="none" stroke-width="0.3" />
<path d="M402.96 412.09 A63.8 63.8 0 0 1 402.46 411.22 L406.21 409.12 A59.5 59.5 0 0 0 406.68 409.93 Z" fill="#8ac4b8" stroke="none" stroke-width="0.3" />
<path d="M402.46 411.22 A63.8 63.8 0 0 1 401.98 410.34 L405.76 408.3 A59.5 59.5 0 0 0 406.21 409.12 Z" fill="#b6a2cc" stroke="none" stroke-width="0.3" />
<path d="M401.98 410.34 A63.8 63.8 0 0 1 401.41 409.26 L405.23 407.29 A59.5 59.5 0 0 0 405.76 408.3 Z" fill="#68bcac" stroke="none" stroke-width="0.3" />
<path d="M412.52 417.31 A58.9 58.9 0 0 1 405.76 407.01 L416.33 401.56 A47 47 0 0 0 421.73 409.77 Z" fill="none" stroke="#c8c8c8" stroke-width="0.3" />
<path d="M422.12 409.45 A46.5 46.5 0 0 1 416.78 401.33 L421.84 398.71 A40.8 40.8 0 0 0 426.53 405.84 Z" fill="none" stroke="#c8c8c8" stroke-width="0.3" />
<path d="M426.84 405.59 A40.4 40.4 0 0 1 422.2 398.53 L424.15 397.52 A38.2 38.2 0 0 0 428.54 404.2 Z" fill="none" stroke="#d0d0d0" stroke-width="0.3" />
<text x="393.24" y="422.6" font-size="6.3" fill="#444" text-anchor="middle" dominant-baseline="central" transform="rotate(236.7 393.24 422.6)">13</text>
<path d="M394.75 410.49 A70.3 70.3 0 0 1 389.74 396.41 L394.7 395.22 A65.2 65.2 0 0 0 399.35 408.27 Z" fill="#f4f4f4" stroke="none" stroke-width="0.3" />
<path d="M394.75 410.49 A70.3 70.3 0 0 1 393.93 408.71 L398.58 406.62 A65.2 65.2 0 0 0 399.35 408.27 Z" fill="#fff" stroke="none" stroke-width="0.3" />
<path d="M393.93 408.71 A70.3 70.3 0 0 1 393.34 407.36 L398.04 405.37 A65.2 65.2 0 0 0 398.58 406.62 Z" fill="#222" stroke="none" stroke-width="0.3" />
<path d="M393.34 407.36 A70.3 70.3 0 0 1 393.01 406.56 L397.73 404.64 A65.2 65.2 0 0 0 398.04 405.37 Z" fill="#111" stroke="none" stroke-width="0.3" />
<path d="M393.01 406.56 A70.3 70.3 0 0 1 392.6 405.54 L397.35 403.68 A65.2 65.2 0 0 0 397.73 404.64 Z" fill="#777" stroke="none" stroke-width="0.3" />
<path d="M392.6 405.54 A70.3 70.3 0 0 1 391.75 403.24 L396.56 401.55 A65.2 65.2 0 0 0 397.35 403.68 Z" fill="#222" stroke="none" stroke-width="0.3" />
<path d="M391.75 403.24 A70.3 70.3 0 0 1 391.13 401.37 L395.99 399.82 A65.2 65.2 0 0 0 396.56 401.55 Z" fill="#aaa" stroke="none" stroke-width="0.3" />
<path d="M391.13 401.37 A70.3 70.3 0 0 1 390.42 399.02 L395.33 397.64 A65.2 65.2 0 0 0 395.99 399.82 Z" fill="#aaa" stroke="none" stroke-width="0.3" />
<path d="M390.42 399.02 A70.3 70.3 0 0 1 390.2 398.19 L395.12 396.88 A65.2 65.2 0 0 0 395.33 397.64 Z" fill="#ececec" stroke="none" stroke-width="0.3" />
<path d="M390.2 398.19 A70.3 70.3 0 0 1 389.98 397.36 L394.92 396.1 A65.2 65.2 0 0 0 395.12 396.88 Z" fill="#444" stroke="none" stroke-width="0.3" />
<path d="M389.98 397.36 A70.3 70.3 0 0 1 389.74 396.41 L394.7 395.22 A65.2 65.2 0 0 0 394.92 396.1 Z" fill="#777" stroke="none" stroke-width="0.3" />
<path d="M392.88 406.25 A70.3 70.3 0 0 1 392.57 405.45 L397.32 403.6 A65.2 65.2 0 0 0 397.61 404.34 Z" fill="#e85a5a" stroke="none" stroke-width="0.3" />
<path d="M400.61 407.67 A63.8 63.8 0 0 1 399.42 405.03 L403.37 403.34 A59.5 59.5 0 0 0 404.49 405.8 Z" fill="#7fa8c0" stroke="none" stroke-width="0.3" />
<path d="M399.42 405.03 A63.8 63.8 0 0 1 398.9 403.8 L402.89 402.19 A59.5 59.5 0 0 0 403.37 403.34 Z" fill="#94acac" stroke="none" stroke-width="0.3" />
<path d="M398.9 403.8 A63.8 63.8 0 0 1 398.54 402.86 L402.55 401.32 A59.5 59.5 0 0 0 402.89 402.19 Z" fill="#b6a2cc" stroke="none" stroke-width="0.3" />
<path d="M398.54 402.86 A63.8 63.8 0 0 1 397.56 400.14 L401.64 398.78 A59.5 59.5 0 0 0 402.55 401.32 Z" fill="#58b0a0" stroke="none" stroke-width="0.3" />
<path d="M397.56 400.14 A63.8 63.8 0 0 1 396.9 398.01 L401.02 396.8 A59.5 59.5 0 0 0 401.64 398.78 Z" fill="#b0bcd4" stroke="none" stroke-width="0.3" />
<path d="M396.9 398.01 A63.8 63.8 0 0 1 396.14 395.22 L400.32 394.19 A59.5 59.5 0 0 0 401.02 396.8 Z" fill="#b0bcd4" stroke="none" stroke-width="0.3" />
<path d="M396.14 395.22 A63.8 63.8 0 0 1 396.06 394.89 L400.24 393.89 A59.5 59.5 0 0 0 400.32 394.19 Z" fill="#9aa2cc" stroke="none" stroke-width="0.3" />
<path d="M405.03 405.54 A58.9 58.9 0 0 1 400.83 393.75 L412.4 390.97 A47 47 0 0 0 415.75 400.38 Z" fill="none" stroke="#c8c8c8" stroke-width="0.3" />
<path d="M416.2 400.17 A46.5 46.5 0 0 1 412.88 390.86 L418.43 389.52 A40.8 40.8 0 0 0 421.34 397.69 Z" fill="none" stroke="#c8c8c8" stroke-width="0.3" />
<path d="M421.7 397.52 A40.4 40.4 0 0 1 418.82 389.43 L420.96 388.92 A38.2 38.2 0 0 0 423.68 396.57 Z" fill="none" stroke="#d0d0d0" stroke-width="0.3" />
<text x="385" y="406.03" font-size="6.3" fill="#444" text-anchor="middle" dominant-baseline="central" transform="rotate(250.4 385 406.03)">14</text>
<path d="M389.34 394.62 A70.3 70.3 0 0 1 387.82 381.59 L392.92 381.48 A65.2 65.2 0 0 0 394.32 393.56 Z" fill="#f4f4f4" stroke="none" stroke-width="0.3" />
<path d="M389.34 394.62 A70.3 70.3 0 0 1 389.05 393.17 L394.05 392.22 A65.2 65.2 0 0 0 394.32 393.56 Z" fill="#f6f6f6" stroke="none" stroke-width="0.3" />
<path d="M389.05 393.17 A70.3 70.3 0 0 1 388.7 391.24 L393.74 390.42 A65.2 65.2 0 0 0 394.05 392.22 Z" fill="#aaa" stroke="none" stroke-width="0.3" />
<path d="M388.7 391.24 A70.3 70.3 0 0 1 388.35 388.81 L393.41 388.17 A65.2 65.2 0 0 0 393.74 390.42 Z" fill="#444" stroke="none" stroke-width="0.3" />
<path d="M388.35 388.81 A70.3 70.3 0 0 1 388.22 387.71 L393.29 387.15 A65.2 65.2 0 0 0 393.41 388.17 Z" fill="#ccc" stroke="none" stroke-width="0.3" />
<path d="M388.22 387.71 A70.3 70.3 0 0 1 388.04 385.76 L393.12 385.34 A65.2 65.2 0 0 0 393.29 387.15 Z" fill="#444" stroke="none" stroke-width="0.3" />
<path d="M388.04 385.76 A70.3 70.3 0 0 1 387.93 384.29 L393.02 383.98 A65.2 65.2 0 0 0 393.12 385.34 Z" fill="#fff" stroke="none" stroke-width="0.3" />
<path d="M387.93 384.29 A70.3 70.3 0 0 1 387.86 382.82 L392.95 382.62 A65.2 65.2 0 0 0 393.02 383.98 Z" fill="#777" stroke="none" stroke-width="0.3" />
<path d="M387.86 382.82 A70.3 70.3 0 0 1 387.82 381.72 L392.92 381.59 A65.2 65.2 0 0 0 392.95 382.62 Z" fill="#fff" stroke="none" stroke-width="0.3" />
<path d="M387.82 381.72 A70.3 70.3 0 0 1 387.82 381.59 L392.92 381.48 A65.2 65.2 0 0 0 392.92 381.59 Z" fill="#fff" stroke="none" stroke-width="0.3" />
<path d="M388.36 388.86 A70.3 70.3 0 0 1 388.26 388 L393.32 387.42 A65.2 65.2 0 0 0 393.42 388.21 Z" fill="#e85a5a" stroke="none" stroke-width="0.3" />
<path d="M395.69 393.26 A63.8 63.8 0 0 1 395.43 391.95 L399.65 391.15 A59.5 59.5 0 0 0 399.9 392.37 Z" fill="#7fa8c0" stroke="none" stroke-width="0.3" />
<path d="M395.43 391.95 A63.8 63.8 0 0 1 395.05 389.76 L399.3 389.1 A59.5 59.5 0 0 0 399.65 391.15 Z" fill="#94acac" stroke="none" stroke-width="0.3" />
<path d="M395.05 389.76 A63.8 63.8 0 0 1 394.86 388.44 L399.12 387.87 A59.5 59.5 0 0 0 399.3 389.1 Z" fill="#a4b0c0" stroke="none" stroke-width="0.3" />
<path d="M394.86 388.44 A63.8 63.8 0 0 1 394.74 387.44 L399.01 386.94 A59.5 59.5 0 0 0 399.12 387.87 Z" fill="#b6a2cc" stroke="none" stroke-width="0.3" />
<path d="M394.74 387.44 A63.8 63.8 0 0 1 394.59 386.11 L398.87 385.7 A59.5 59.5 0 0 0 399.01 386.94 Z" fill="#68bcac" stroke="none" stroke-width="0.3" />
<path d="M394.59 386.11 A63.8 63.8 0 0 1 394.48 384.78 L398.77 384.46 A59.5 59.5 0 0 0 398.87 385.7 Z" fill="#a4b0c0" stroke="none" stroke-width="0.3" />
<path d="M394.48 384.78 A63.8 63.8 0 0 1 394.37 383.01 L398.67 382.8 A59.5 59.5 0 0 0 398.77 384.46 Z" fill="#7fa8c0" stroke="none" stroke-width="0.3" />
<path d="M394.37 383.01 A63.8 63.8 0 0 1 394.33 382 L398.63 381.87 A59.5 59.5 0 0 0 398.67 382.8 Z" fill="#b0bcd4" stroke="none" stroke-width="0.3" />
<path d="M394.33 382 A63.8 63.8 0 0 1 394.32 381.45 L398.62 381.35 A59.5 59.5 0 0 0 398.63 381.87 Z" fill="#b0bcd4" stroke="none" stroke-width="0.3" />
<path d="M400.49 392.25 A58.9 58.9 0 0 1 399.22 381.34 L411.11 381.07 A47 47 0 0 0 412.13 389.77 Z" fill="none" stroke="#c8c8c8" stroke-width="0.3" />
<path d="M412.62 389.67 A46.5 46.5 0 0 1 411.61 381.05 L417.31 380.93 A40.8 40.8 0 0 0 418.19 388.48 Z" fill="none" stroke="#c8c8c8" stroke-width="0.3" />
<path d="M418.58 388.4 A40.4 40.4 0 0 1 417.71 380.92 L419.91 380.87 A38.2 38.2 0 0 0 420.73 387.94 Z" fill="none" stroke="#d0d0d0" stroke-width="0.3" />
<text x="381.02" y="388.99" font-size="6.3" fill="#444" text-anchor="middle" dominant-baseline="central" transform="rotate(263.35 381.02 388.99)">15</text>
<path d="M387.8 379.75 A70.3 70.3 0 0 1 388.98 367.19 L393.99 368.12 A65.2 65.2 0 0 0 392.9 379.77 Z" fill="#f4f4f4" stroke="none" stroke-width="0.3" />
<path d="M387.8 379.75 A70.3 70.3 0 0 1 387.85 377.3 L392.95 377.5 A65.2 65.2 0 0 0 392.9 379.77 Z" fill="#111" stroke="none" stroke-width="0.3" />
<path d="M387.85 377.3 A70.3 70.3 0 0 1 387.92 375.83 L393.01 376.13 A65.2 65.2 0 0 0 392.95 377.5 Z" fill="#222" stroke="none" stroke-width="0.3" />
<path d="M387.92 375.83 A70.3 70.3 0 0 1 388 374.73 L393.08 375.11 A65.2 65.2 0 0 0 393.01 376.13 Z" fill="#e2e2e2" stroke="none" stroke-width="0.3" />
<path d="M388 374.73 A70.3 70.3 0 0 1 388.07 373.87 L393.15 374.32 A65.2 65.2 0 0 0 393.08 375.11 Z" fill="#fff" stroke="none" stroke-width="0.3" />
<path d="M388.07 373.87 A70.3 70.3 0 0 1 388.17 372.77 L393.25 373.3 A65.2 65.2 0 0 0 393.15 374.32 Z" fill="#f6f6f6" stroke="none" stroke-width="0.3" />
<path d="M388.17 372.77 A70.3 70.3 0 0 1 388.27 371.92 L393.33 372.51 A65.2 65.2 0 0 0 393.25 373.3 Z" fill="#f6f6f6" stroke="none" stroke-width="0.3" />
<path d="M388.27 371.92 A70.3 70.3 0 0 1 388.37 371.07 L393.43 371.72 A65.2 65.2 0 0 0 393.33 372.51 Z" fill="#f6f6f6" stroke="none" stroke-width="0.3" />
<path d="M388.37 371.07 A70.3 70.3 0 0 1 388.65 369.12 L393.69 369.91 A65.2 65.2 0 0 0 393.43 371.72 Z" fill="#ccc" stroke="none" stroke-width="0.3" />
<path d="M388.65 369.12 A70.3 70.3 0 0 1 388.78 368.28 L393.81 369.13 A65.2 65.2 0 0 0 393.69 369.91 Z" fill="#fff" stroke="none" stroke-width="0.3" />
<path d="M388.78 368.28 A70.3 70.3 0 0 1 388.98 367.19 L393.99 368.12 A65.2 65.2 0 0 0 393.81 369.13 Z" fill="#777" stroke="none" stroke-width="0.3" />
<path d="M388.05 374.07 A70.3 70.3 0 0 1 388.13 373.21 L393.2 373.71 A65.2 65.2 0 0 0 393.13 374.5 Z" fill="#e85a5a" stroke="none" stroke-width="0.3" />
<path d="M394.3 379.78 A63.8 63.8 0 0 1 394.33 378 L398.63 378.13 A59.5 59.5 0 0 0 398.6 379.79 Z" fill="#7fa8c0" stroke="none" stroke-width="0.3" />
<path d="M394.33 378 A63.8 63.8 0 0 1 394.41 376.22 L398.7 376.47 A59.5 59.5 0 0 0 398.63 378.13 Z" fill="#9aa2cc" stroke="none" stroke-width="0.3" />
<path d="M394.41 376.22 A63.8 63.8 0 0 1 394.51 374.88 L398.79 375.23 A59.5 59.5 0 0 0 398.7 376.47 Z" fill="#a4b0c0" stroke="none" stroke-width="0.3" />
<path d="M394.51 374.88 A63.8 63.8 0 0 1 394.72 372.67 L398.99 373.16 A59.5 59.5 0 0 0 398.79 375.23 Z" fill="#58b0a0" stroke="none" stroke-width="0.3" />
<path d="M394.72 372.67 A63.8 63.8 0 0 1 394.95 370.9 L399.21 371.51 A59.5 59.5 0 0 0 398.99 373.16 Z" fill="#68bcac" stroke="none" stroke-width="0.3" />
<path d="M394.95 370.9 A63.8 63.8 0 0 1 395.1 369.91 L399.35 370.59 A59.5 59.5 0 0 0 399.21 371.51 Z" fill="#6cb8b8" stroke="none" stroke-width="0.3" />
<path d="M395.1 369.91 A63.8 63.8 0 0 1 395.37 368.37 L399.6 369.16 A59.5 59.5 0 0 0 399.35 370.59 Z" fill="#68bcac" stroke="none" stroke-width="0.3" />
<path d="M399.2 379.79 A58.9 58.9 0 0 1 400.19 369.27 L411.89 371.43 A47 47 0 0 0 411.1 379.84 Z" fill="none" stroke="#c8c8c8" stroke-width="0.3" />
<path d="M411.6 379.84 A46.5 46.5 0 0 1 412.38 371.53 L417.98 372.56 A40.8 40.8 0 0 0 417.3 379.86 Z" fill="none" stroke="#c8c8c8" stroke-width="0.3" />
<path d="M417.7 379.86 A40.4 40.4 0 0 1 418.38 372.64 L420.54 373.04 A38.2 38.2 0 0 0 419.9 379.87 Z" fill="none" stroke="#d0d0d0" stroke-width="0.3" />
<text x="380.84" y="372.76" font-size="6.3" fill="#444" text-anchor="middle" dominant-baseline="central" transform="rotate(275.35 380.84 372.76)">16</text>
<path d="M389.34 365.38 A70.3 70.3 0 0 1 392.34 355.15 L397.11 356.95 A65.2 65.2 0 0 0 394.32 366.44 Z" fill="#f4f4f4" stroke="none" stroke-width="0.3" />
<path d="M389.34 365.38 A70.3 70.3 0 0 1 389.52 364.54 L394.5 365.67 A65.2 65.2 0 0 0 394.32 366.44 Z" fill="#777" stroke="none" stroke-width="0.3" />
<path d="M389.52 364.54 A70.3 70.3 0 0 1 389.86 363.11 L394.81 364.34 A65.2 65.2 0 0 0 394.5 365.67 Z" fill="#fff" stroke="none" stroke-width="0.3" />
<path d="M389.86 363.11 A70.3 70.3 0 0 1 390.23 361.69 L395.15 363.02 A65.2 65.2 0 0 0 394.81 364.34 Z" fill="#e2e2e2" stroke="none" stroke-width="0.3" />
<path d="M390.23 361.69 A70.3 70.3 0 0 1 390.46 360.86 L395.36 362.25 A65.2 65.2 0 0 0 395.15 363.02 Z" fill="#aaa" stroke="none" stroke-width="0.3" />
<path d="M390.46 360.86 A70.3 70.3 0 0 1 391.17 358.51 L396.02 360.07 A65.2 65.2 0 0 0 395.36 362.25 Z" fill="#fff" stroke="none" stroke-width="0.3" />
<path d="M391.17 358.51 A70.3 70.3 0 0 1 391.51 357.46 L396.34 359.1 A65.2 65.2 0 0 0 396.02 360.07 Z" fill="#ececec" stroke="none" stroke-width="0.3" />
<path d="M391.51 357.46 A70.3 70.3 0 0 1 391.87 356.42 L396.68 358.13 A65.2 65.2 0 0 0 396.34 359.1 Z" fill="#ececec" stroke="none" stroke-width="0.3" />
<path d="M391.87 356.42 A70.3 70.3 0 0 1 392.34 355.15 L397.11 356.95 A65.2 65.2 0 0 0 396.68 358.13 Z" fill="#111" stroke="none" stroke-width="0.3" />
<path d="M390.09 362.21 A70.3 70.3 0 0 1 390.31 361.38 L395.23 362.73 A65.2 65.2 0 0 0 395.02 363.5 Z" fill="#e85a5a" stroke="none" stroke-width="0.3" />
<path d="M395.69 366.74 A63.8 63.8 0 0 1 395.99 365.43 L400.17 366.41 A59.5 59.5 0 0 0 399.9 367.63 Z" fill="#94acac" stroke="none" stroke-width="0.3" />
<path d="M395.99 365.43 A63.8 63.8 0 0 1 396.71 362.63 L400.85 363.8 A59.5 59.5 0 0 0 400.17 366.41 Z" fill="#9aa2cc" stroke="none" stroke-width="0.3" />
<path d="M396.71 362.63 A63.8 63.8 0 0 1 396.99 361.67 L401.11 362.9 A59.5 59.5 0 0 0 400.85 363.8 Z" fill="#a4b0c0" stroke="none" stroke-width="0.3" />
<path d="M396.99 361.67 A63.8 63.8 0 0 1 397.89 358.91 L401.94 360.33 A59.5 59.5 0 0 0 401.11 362.9 Z" fill="#94acac" stroke="none" stroke-width="0.3" />
<path d="M397.89 358.91 A63.8 63.8 0 0 1 398.34 357.66 L402.37 359.16 A59.5 59.5 0 0 0 401.94 360.33 Z" fill="#9aa2cc" stroke="none" stroke-width="0.3" />
<path d="M398.34 357.66 A63.8 63.8 0 0 1 398.42 357.45 L402.44 358.97 A59.5 59.5 0 0 0 402.37 359.16 Z" fill="#b0bcd4" stroke="none" stroke-width="0.3" />
<path d="M400.49 367.75 A58.9 58.9 0 0 1 403 359.18 L414.13 363.39 A47 47 0 0 0 412.13 370.23 Z" fill="none" stroke="#c8c8c8" stroke-width="0.3" />
<path d="M412.62 370.33 A46.5 46.5 0 0 1 414.6 363.56 L419.93 365.58 A40.8 40.8 0 0 0 418.19 371.52 Z" fill="none" stroke="#c8c8c8" stroke-width="0.3" />
<path d="M418.58 371.6 A40.4 40.4 0 0 1 420.31 365.72 L422.37 366.5 A38.2 38.2 0 0 0 420.73 372.06 Z" fill="none" stroke="#d0d0d0" stroke-width="0.3" />
<text x="383.64" y="358.16" font-size="6.3" fill="#444" text-anchor="middle" dominant-baseline="central" transform="rotate(286.35 383.64 358.16)">17</text>
<path d="M393.01 353.44 A70.3 70.3 0 0 1 398.29 343.06 L402.63 345.74 A65.2 65.2 0 0 0 397.73 355.36 Z" fill="#f4f4f4" stroke="none" stroke-width="0.3" />
<path d="M393.01 353.44 A70.3 70.3 0 0 1 393.34 352.64 L398.04 354.63 A65.2 65.2 0 0 0 397.73 355.36 Z" fill="#ececec" stroke="none" stroke-width="0.3" />
<path d="M393.34 352.64 A70.3 70.3 0 0 1 393.93 351.29 L398.58 353.38 A65.2 65.2 0 0 0 398.04 354.63 Z" fill="#fff" stroke="none" stroke-width="0.3" />
<path d="M393.93 351.29 A70.3 70.3 0 0 1 394.39 350.29 L399.01 352.45 A65.2 65.2 0 0 0 398.58 353.38 Z" fill="#fff" stroke="none" stroke-width="0.3" />
<path d="M394.39 350.29 A70.3 70.3 0 0 1 395.46 348.08 L400.01 350.4 A65.2 65.2 0 0 0 399.01 352.45 Z" fill="#fff" stroke="none" stroke-width="0.3" />
<path d="M395.46 348.08 A70.3 70.3 0 0 1 395.97 347.1 L400.48 349.49 A65.2 65.2 0 0 0 400.01 350.4 Z" fill="#fff" stroke="none" stroke-width="0.3" />
<path d="M395.97 347.1 A70.3 70.3 0 0 1 396.38 346.35 L400.86 348.79 A65.2 65.2 0 0 0 400.48 349.49 Z" fill="#222" stroke="none" stroke-width="0.3" />
<path d="M396.38 346.35 A70.3 70.3 0 0 1 396.91 345.38 L401.35 347.89 A65.2 65.2 0 0 0 400.86 348.79 Z" fill="#fff" stroke="none" stroke-width="0.3" />
<path d="M396.91 345.38 A70.3 70.3 0 0 1 397.9 343.69 L402.27 346.32 A65.2 65.2 0 0 0 401.35 347.89 Z" fill="#fff" stroke="none" stroke-width="0.3" />
<path d="M397.9 343.69 A70.3 70.3 0 0 1 398.29 343.06 L402.63 345.74 A65.2 65.2 0 0 0 402.27 346.32 Z" fill="#111" stroke="none" stroke-width="0.3" />
<path d="M395.22 348.57 A70.3 70.3 0 0 1 395.61 347.8 L400.14 350.14 A65.2 65.2 0 0 0 399.78 350.85 Z" fill="#e85a5a" stroke="none" stroke-width="0.3" />
<path d="M399.03 355.89 A63.8 63.8 0 0 1 399.42 354.97 L403.37 356.66 A59.5 59.5 0 0 0 403.01 357.52 Z" fill="#9aa2cc" stroke="none" stroke-width="0.3" />
<path d="M399.42 354.97 A63.8 63.8 0 0 1 400.32 352.94 L404.22 354.76 A59.5 59.5 0 0 0 403.37 356.66 Z" fill="#68bcac" stroke="none" stroke-width="0.3" />
<path d="M400.32 352.94 A63.8 63.8 0 0 1 400.9 351.73 L404.76 353.64 A59.5 59.5 0 0 0 404.22 354.76 Z" fill="#68bcac" stroke="none" stroke-width="0.3" />
<path d="M400.9 351.73 A63.8 63.8 0 0 1 401.36 350.84 L405.18 352.8 A59.5 59.5 0 0 0 404.76 353.64 Z" fill="#94acac" stroke="none" stroke-width="0.3" />
<path d="M401.36 350.84 A63.8 63.8 0 0 1 401.98 349.66 L405.76 351.7 A59.5 59.5 0 0 0 405.18 352.8 Z" fill="#b6a2cc" stroke="none" stroke-width="0.3" />
<path d="M401.98 349.66 A63.8 63.8 0 0 1 402.85 348.1 L406.57 350.25 A59.5 59.5 0 0 0 405.76 351.7 Z" fill="#b0bcd4" stroke="none" stroke-width="0.3" />
<path d="M402.85 348.1 A63.8 63.8 0 0 1 403.82 346.47 L407.48 348.73 A59.5 59.5 0 0 0 406.57 350.25 Z" fill="#8ac4b8" stroke="none" stroke-width="0.3" />
<path d="M403.57 357.75 A58.9 58.9 0 0 1 407.99 349.05 L418.11 355.3 A47 47 0 0 0 414.58 362.24 Z" fill="none" stroke="#c8c8c8" stroke-width="0.3" />
<path d="M415.05 362.43 A46.5 46.5 0 0 1 418.54 355.57 L423.39 358.56 A40.8 40.8 0 0 0 420.32 364.58 Z" fill="none" stroke="#c8c8c8" stroke-width="0.3" />
<path d="M420.69 364.74 A40.4 40.4 0 0 1 423.73 358.77 L425.6 359.93 A38.2 38.2 0 0 0 422.73 365.57 Z" fill="none" stroke="#d0d0d0" stroke-width="0.3" />
<text x="388.93" y="344.83" font-size="6.3" fill="#444" text-anchor="middle" dominant-baseline="central" transform="rotate(296.95 388.93 344.83)">18</text>
<path d="M399.28 341.51 A70.3 70.3 0 0 1 405.37 333.51 L409.19 336.88 A65.2 65.2 0 0 0 403.54 344.3 Z" fill="#f4f4f4" stroke="none" stroke-width="0.3" />
<path d="M399.28 341.51 A70.3 70.3 0 0 1 399.89 340.59 L404.11 343.45 A65.2 65.2 0 0 0 403.54 344.3 Z" fill="#ccc" stroke="none" stroke-width="0.3" />
<path d="M399.89 340.59 A70.3 70.3 0 0 1 401.3 338.58 L405.42 341.58 A65.2 65.2 0 0 0 404.11 343.45 Z" fill="#fff" stroke="none" stroke-width="0.3" />
<path d="M401.3 338.58 A70.3 70.3 0 0 1 402.18 337.4 L406.24 340.49 A65.2 65.2 0 0 0 405.42 341.58 Z" fill="#aaa" stroke="none" stroke-width="0.3" />
<path d="M402.18 337.4 A70.3 70.3 0 0 1 403.08 336.24 L407.07 339.41 A65.2 65.2 0 0 0 406.24 340.49 Z" fill="#ececec" stroke="none" stroke-width="0.3" />
<path d="M403.08 336.24 A70.3 70.3 0 0 1 403.78 335.38 L407.72 338.62 A65.2 65.2 0 0 0 407.07 339.41 Z" fill="#222" stroke="none" stroke-width="0.3" />
<path d="M403.78 335.38 A70.3 70.3 0 0 1 404.33 334.72 L408.23 338 A65.2 65.2 0 0 0 407.72 338.62 Z" fill="#e2e2e2" stroke="none" stroke-width="0.3" />
<path d="M404.33 334.72 A70.3 70.3 0 0 1 405.37 333.51 L409.19 336.88 A65.2 65.2 0 0 0 408.23 338 Z" fill="#fff" stroke="none" stroke-width="0.3" />
<path d="M401.22 338.69 A70.3 70.3 0 0 1 401.73 338 L405.82 341.04 A65.2 65.2 0 0 0 405.35 341.69 Z" fill="#e85a5a" stroke="none" stroke-width="0.3" />
<path d="M404.71 345.07 A63.8 63.8 0 0 1 405.71 343.59 L409.24 346.04 A59.5 59.5 0 0 0 408.31 347.42 Z" fill="#9aa2cc" stroke="none" stroke-width="0.3" />
<path d="M405.71 343.59 A63.8 63.8 0 0 1 406.48 342.5 L409.96 345.03 A59.5 59.5 0 0 0 409.24 346.04 Z" fill="#8ac4b8" stroke="none" stroke-width="0.3" />
<path d="M406.48 342.5 A63.8 63.8 0 0 1 407.82 340.72 L411.21 343.37 A59.5 59.5 0 0 0 409.96 345.03 Z" fill="#b0bcd4" stroke="none" stroke-width="0.3" />
<path d="M407.82 340.72 A63.8 63.8 0 0 1 408.45 339.94 L411.79 342.64 A59.5 59.5 0 0 0 411.21 343.37 Z" fill="#7fa8c0" stroke="none" stroke-width="0.3" />
<path d="M408.45 339.94 A63.8 63.8 0 0 1 409.3 338.9 L412.59 341.67 A59.5 59.5 0 0 0 411.79 342.64 Z" fill="#b0bcd4" stroke="none" stroke-width="0.3" />
<path d="M409.3 338.9 A63.8 63.8 0 0 1 409.95 338.14 L413.19 340.96 A59.5 59.5 0 0 0 412.59 341.67 Z" fill="#a4b0c0" stroke="none" stroke-width="0.3" />
<path d="M409.95 338.14 A63.8 63.8 0 0 1 410.24 337.81 L413.47 340.65 A59.5 59.5 0 0 0 413.19 340.96 Z" fill="#58b0a0" stroke="none" stroke-width="0.3" />
<path d="M408.81 347.75 A58.9 58.9 0 0 1 413.92 341.05 L422.84 348.92 A47 47 0 0 0 418.77 354.26 Z" fill="none" stroke="#c8c8c8" stroke-width="0.3" />
<path d="M419.19 354.54 A46.5 46.5 0 0 1 423.22 349.25 L427.5 353.02 A40.8 40.8 0 0 0 423.96 357.66 Z" fill="none" stroke="#c8c8c8" stroke-width="0.3" />
<path d="M424.29 357.88 A40.4 40.4 0 0 1 427.8 353.28 L429.45 354.74 A38.2 38.2 0 0 0 426.14 359.08 Z" fill="none" stroke="#d0d0d0" stroke-width="0.3" />
<text x="396.37" y="332.98" font-size="6.3" fill="#444" text-anchor="middle" dominant-baseline="central" transform="rotate(307.3 396.37 332.98)">19</text>
<path d="M406.52 332.24 A70.3 70.3 0 0 1 412.63 326.38 L415.93 330.27 A65.2 65.2 0 0 0 410.26 335.7 Z" fill="#f4f4f4" stroke="none" stroke-width="0.3" />
<path d="M406.52 332.24 A70.3 70.3 0 0 1 407.87 330.81 L411.52 334.38 A65.2 65.2 0 0 0 410.26 335.7 Z" fill="#fff" stroke="none" stroke-width="0.3" />
<path d="M407.87 330.81 A70.3 70.3 0 0 1 409.62 329.09 L413.14 332.78 A65.2 65.2 0 0 0 411.52 334.38 Z" fill="#444" stroke="none" stroke-width="0.3" />
<path d="M409.62 329.09 A70.3 70.3 0 0 1 410.43 328.34 L413.88 332.08 A65.2 65.2 0 0 0 413.14 332.78 Z" fill="#fff" stroke="none" stroke-width="0.3" />
<path d="M410.43 328.34 A70.3 70.3 0 0 1 411.06 327.76 L414.47 331.55 A65.2 65.2 0 0 0 413.88 332.08 Z" fill="#444" stroke="none" stroke-width="0.3" />
<path d="M411.06 327.76 A70.3 70.3 0 0 1 412.63 326.38 L415.93 330.27 A65.2 65.2 0 0 0 414.47 331.55 Z" fill="#e2e2e2" stroke="none" stroke-width="0.3" />
<path d="M408.85 329.83 A70.3 70.3 0 0 1 409.47 329.24 L413 332.92 A65.2 65.2 0 0 0 412.42 333.47 Z" fill="#e85a5a" stroke="none" stroke-width="0.3" />
<path d="M411.29 336.65 A63.8 63.8 0 0 1 413.3 334.57 L416.32 337.63 A59.5 59.5 0 0 0 414.44 339.57 Z" fill="#94acac" stroke="none" stroke-width="0.3" />
<path d="M413.3 334.57 A63.8 63.8 0 0 1 414.26 333.64 L417.22 336.77 A59.5 59.5 0 0 0 416.32 337.63 Z" fill="#b0bcd4" stroke="none" stroke-width="0.3" />
<path d="M414.26 333.64 A63.8 63.8 0 0 1 415 332.96 L417.9 336.13 A59.5 59.5 0 0 0 417.22 336.77 Z" fill="#58b0a0" stroke="none" stroke-width="0.3" />
<path d="M415 332.96 A63.8 63.8 0 0 1 415.74 332.29 L418.6 335.51 A59.5 59.5 0 0 0 417.9 336.13 Z" fill="#94acac" stroke="none" stroke-width="0.3" />
<path d="M415.74 332.29 A63.8 63.8 0 0 1 416.83 331.34 L419.62 334.62 A59.5 59.5 0 0 0 418.6 335.51 Z" fill="#6cb8b8" stroke="none" stroke-width="0.3" />
<path d="M414.88 339.98 A58.9 58.9 0 0 1 420 335.08 L427.7 344.15 A47 47 0 0 0 423.61 348.07 Z" fill="none" stroke="#c8c8c8" stroke-width="0.3" />
<path d="M423.98 348.41 A46.5 46.5 0 0 1 428.02 344.54 L431.71 348.88 A40.8 40.8 0 0 0 428.16 352.28 Z" fill="none" stroke="#c8c8c8" stroke-width="0.3" />
<path d="M428.46 352.55 A40.4 40.4 0 0 1 431.97 349.19 L433.39 350.87 A38.2 38.2 0 0 0 430.07 354.05 Z" fill="none" stroke="#d0d0d0" stroke-width="0.3" />
<text x="404.44" y="323.94" font-size="6.3" fill="#444" text-anchor="middle" dominant-baseline="central" transform="rotate(316.25 404.44 323.94)">20</text>
<path d="M413.86 325.37 A70.3 70.3 0 0 1 419.81 321.04 L422.59 325.32 A65.2 65.2 0 0 0 417.07 329.33 Z" fill="#f4f4f4" stroke="none" stroke-width="0.3" />
<path d="M413.86 325.37 A70.3 70.3 0 0 1 415.4 324.15 L418.5 328.2 A65.2 65.2 0 0 0 417.07 329.33 Z" fill="#fff" stroke="none" stroke-width="0.3" />
<path d="M415.4 324.15 A70.3 70.3 0 0 1 416.98 322.98 L419.96 327.12 A65.2 65.2 0 0 0 418.5 328.2 Z" fill="#fff" stroke="none" stroke-width="0.3" />
<path d="M416.98 322.98 A70.3 70.3 0 0 1 418.99 321.58 L421.83 325.82 A65.2 65.2 0 0 0 419.96 327.12 Z" fill="#f6f6f6" stroke="none" stroke-width="0.3" />
<path d="M418.99 321.58 A70.3 70.3 0 0 1 419.81 321.04 L422.59 325.32 A65.2 65.2 0 0 0 421.83 325.82 Z" fill="#222" stroke="none" stroke-width="0.3" />
<path d="M416.05 323.66 A70.3 70.3 0 0 1 416.74 323.16 L419.74 327.28 A65.2 65.2 0 0 0 419.1 327.75 Z" fill="#e85a5a" stroke="none" stroke-width="0.3" />
<path d="M417.95 330.42 A63.8 63.8 0 0 1 418.73 329.79 L421.39 333.18 A59.5 59.5 0 0 0 420.66 333.76 Z" fill="#6cb8b8" stroke="none" stroke-width="0.3" />
<path d="M418.73 329.79 A63.8 63.8 0 0 1 419.79 328.98 L422.37 332.42 A59.5 59.5 0 0 0 421.39 333.18 Z" fill="#b0bcd4" stroke="none" stroke-width="0.3" />
<path d="M419.79 328.98 A63.8 63.8 0 0 1 421.23 327.93 L423.72 331.44 A59.5 59.5 0 0 0 422.37 332.42 Z" fill="#94acac" stroke="none" stroke-width="0.3" />
<path d="M421.23 327.93 A63.8 63.8 0 0 1 422.06 327.36 L424.48 330.91 A59.5 59.5 0 0 0 423.72 331.44 Z" fill="#6cb8b8" stroke="none" stroke-width="0.3" />
<path d="M422.06 327.36 A63.8 63.8 0 0 1 423.17 326.61 L425.52 330.21 A59.5 59.5 0 0 0 424.48 330.91 Z" fill="#a4b0c0" stroke="none" stroke-width="0.3" />
<path d="M423.17 326.61 A63.8 63.8 0 0 1 423.35 326.49 L425.69 330.1 A59.5 59.5 0 0 0 425.52 330.21 Z" fill="#7fa8c0" stroke="none" stroke-width="0.3" />
<path d="M421.03 334.23 A58.9 58.9 0 0 1 426.02 330.6 L432.5 340.58 A47 47 0 0 0 428.52 343.47 Z" fill="none" stroke="#c8c8c8" stroke-width="0.3" />
<path d="M428.84 343.86 A46.5 46.5 0 0 1 432.77 341 L435.88 345.78 A40.8 40.8 0 0 0 432.42 348.29 Z" fill="none" stroke="#c8c8c8" stroke-width="0.3" />
<path d="M432.68 348.6 A40.4 40.4 0 0 1 436.1 346.12 L437.29 347.96 A38.2 38.2 0 0 0 434.06 350.31 Z" fill="none" stroke="#d0d0d0" stroke-width="0.3" />
<text x="412.49" y="317.22" font-size="6.3" fill="#444" text-anchor="middle" dominant-baseline="central" transform="rotate(324 412.49 317.22)">21</text>
<path d="M421.26 320.12 A70.3 70.3 0 0 1 427.72 316.6 L429.93 321.2 A65.2 65.2 0 0 0 423.94 324.47 Z" fill="#f4f4f4" stroke="none" stroke-width="0.3" />
<path d="M421.26 320.12 A70.3 70.3 0 0 1 422.53 319.37 L425.11 323.76 A65.2 65.2 0 0 0 423.94 324.47 Z" fill="#e2e2e2" stroke="none" stroke-width="0.3" />
<path d="M422.53 319.37 A70.3 70.3 0 0 1 424.66 318.16 L427.09 322.65 A65.2 65.2 0 0 0 425.11 323.76 Z" fill="#f6f6f6" stroke="none" stroke-width="0.3" />
<path d="M424.66 318.16 A70.3 70.3 0 0 1 426.4 317.25 L428.7 321.8 A65.2 65.2 0 0 0 427.09 322.65 Z" fill="#ccc" stroke="none" stroke-width="0.3" />
<path d="M426.4 317.25 A70.3 70.3 0 0 1 427.17 316.87 L429.42 321.45 A65.2 65.2 0 0 0 428.7 321.8 Z" fill="#ccc" stroke="none" stroke-width="0.3" />
<path d="M427.17 316.87 A70.3 70.3 0 0 1 427.72 316.6 L429.93 321.2 A65.2 65.2 0 0 0 429.42 321.45 Z" fill="#444" stroke="none" stroke-width="0.3" />
<path d="M423.2 318.98 A70.3 70.3 0 0 1 423.95 318.55 L426.42 323.01 A65.2 65.2 0 0 0 425.73 323.4 Z" fill="#e85a5a" stroke="none" stroke-width="0.3" />
<path d="M424.67 325.66 A63.8 63.8 0 0 1 425.53 325.14 L427.72 328.84 A59.5 59.5 0 0 0 426.92 329.32 Z" fill="#7fa8c0" stroke="none" stroke-width="0.3" />
<path d="M425.53 325.14 A63.8 63.8 0 0 1 427.07 324.25 L429.16 328.01 A59.5 59.5 0 0 0 427.72 328.84 Z" fill="#58b0a0" stroke="none" stroke-width="0.3" />
<path d="M427.07 324.25 A63.8 63.8 0 0 1 429.63 322.9 L431.55 326.75 A59.5 59.5 0 0 0 429.16 328.01 Z" fill="#94acac" stroke="none" stroke-width="0.3" />
<path d="M429.63 322.9 A63.8 63.8 0 0 1 430.53 322.46 L432.39 326.34 A59.5 59.5 0 0 0 431.55 326.75 Z" fill="#8ac4b8" stroke="none" stroke-width="0.3" />
<path d="M427.24 329.83 A58.9 58.9 0 0 1 432.65 326.88 L437.79 337.61 A47 47 0 0 0 433.47 339.97 Z" fill="none" stroke="#c8c8c8" stroke-width="0.3" />
<path d="M433.73 340.39 A46.5 46.5 0 0 1 438.01 338.06 L440.47 343.21 A40.8 40.8 0 0 0 436.72 345.25 Z" fill="none" stroke="#c8c8c8" stroke-width="0.3" />
<path d="M436.93 345.59 A40.4 40.4 0 0 1 440.64 343.57 L441.59 345.55 A38.2 38.2 0 0 0 438.08 347.46 Z" fill="none" stroke="#d0d0d0" stroke-width="0.3" />
<text x="420.95" y="311.87" font-size="6.3" fill="#444" text-anchor="middle" dominant-baseline="central" transform="rotate(331.4 420.95 311.87)">22</text>
<path d="M429.51 315.78 A70.3 70.3 0 0 1 446.38 310.68 L447.23 315.71 A65.2 65.2 0 0 0 431.58 320.44 Z" fill="#f4f4f4" stroke="none" stroke-width="0.3" />
<path d="M429.51 315.78 A70.3 70.3 0 0 1 430.29 315.43 L432.31 320.12 A65.2 65.2 0 0 0 431.58 320.44 Z" fill="#444" stroke="none" stroke-width="0.3" />
<path d="M430.29 315.43 A70.3 70.3 0 0 1 431.31 315 L433.25 319.72 A65.2 65.2 0 0 0 432.31 320.12 Z" fill="#ececec" stroke="none" stroke-width="0.3" />
<path d="M431.31 315 A70.3 70.3 0 0 1 433.6 314.11 L435.37 318.89 A65.2 65.2 0 0 0 433.25 319.72 Z" fill="#fff" stroke="none" stroke-width="0.3" />
<path d="M433.6 314.11 A70.3 70.3 0 0 1 435.44 313.45 L437.09 318.28 A65.2 65.2 0 0 0 435.37 318.89 Z" fill="#111" stroke="none" stroke-width="0.3" />
<path d="M435.44 313.45 A70.3 70.3 0 0 1 437.31 312.84 L438.82 317.72 A65.2 65.2 0 0 0 437.09 318.28 Z" fill="#fff" stroke="none" stroke-width="0.3" />
<path d="M437.31 312.84 A70.3 70.3 0 0 1 438.37 312.53 L439.8 317.42 A65.2 65.2 0 0 0 438.82 317.72 Z" fill="#222" stroke="none" stroke-width="0.3" />
<path d="M438.37 312.53 A70.3 70.3 0 0 1 440.74 311.88 L442 316.82 A65.2 65.2 0 0 0 439.8 317.42 Z" fill="#aaa" stroke="none" stroke-width="0.3" />
<path d="M440.74 311.88 A70.3 70.3 0 0 1 443.12 311.31 L444.21 316.3 A65.2 65.2 0 0 0 442 316.82 Z" fill="#ececec" stroke="none" stroke-width="0.3" />
<path d="M443.12 311.31 A70.3 70.3 0 0 1 445.05 310.92 L445.99 315.93 A65.2 65.2 0 0 0 444.21 316.3 Z" fill="#ececec" stroke="none" stroke-width="0.3" />
<path d="M445.05 310.92 A70.3 70.3 0 0 1 445.89 310.77 L446.78 315.79 A65.2 65.2 0 0 0 445.99 315.93 Z" fill="#f6f6f6" stroke="none" stroke-width="0.3" />
<path d="M445.89 310.77 A70.3 70.3 0 0 1 446.38 310.68 L447.23 315.71 A65.2 65.2 0 0 0 446.78 315.79 Z" fill="#f6f6f6" stroke="none" stroke-width="0.3" />
<path d="M436.04 313.25 A70.3 70.3 0 0 1 436.86 312.99 L438.4 317.85 A65.2 65.2 0 0 0 437.64 318.09 Z" fill="#e85a5a" stroke="none" stroke-width="0.3" />
<path d="M432.15 321.72 A63.8 63.8 0 0 1 433.79 321.01 L435.43 324.99 A59.5 59.5 0 0 0 433.9 325.64 Z" fill="#8ac4b8" stroke="none" stroke-width="0.3" />
<path d="M433.79 321.01 A63.8 63.8 0 0 1 434.72 320.64 L436.29 324.64 A59.5 59.5 0 0 0 435.43 324.99 Z" fill="#8ac4b8" stroke="none" stroke-width="0.3" />
<path d="M434.72 320.64 A63.8 63.8 0 0 1 436.38 320.01 L437.85 324.05 A59.5 59.5 0 0 0 436.29 324.64 Z" fill="#a4b0c0" stroke="none" stroke-width="0.3" />
<path d="M436.38 320.01 A63.8 63.8 0 0 1 438.07 319.43 L439.42 323.51 A59.5 59.5 0 0 0 437.85 324.05 Z" fill="#94acac" stroke="none" stroke-width="0.3" />
<path d="M438.07 319.43 A63.8 63.8 0 0 1 439.02 319.12 L440.31 323.22 A59.5 59.5 0 0 0 439.42 323.51 Z" fill="#9aa2cc" stroke="none" stroke-width="0.3" />
<path d="M439.02 319.12 A63.8 63.8 0 0 1 439.98 318.83 L441.2 322.95 A59.5 59.5 0 0 0 440.31 323.22 Z" fill="#b0bcd4" stroke="none" stroke-width="0.3" />
<path d="M439.98 318.83 A63.8 63.8 0 0 1 441.26 318.46 L442.4 322.61 A59.5 59.5 0 0 0 441.2 322.95 Z" fill="#8ac4b8" stroke="none" stroke-width="0.3" />
<path d="M441.26 318.46 A63.8 63.8 0 0 1 442.23 318.2 L443.3 322.37 A59.5 59.5 0 0 0 442.4 322.61 Z" fill="#94acac" stroke="none" stroke-width="0.3" />
<path d="M442.23 318.2 A63.8 63.8 0 0 1 445.05 317.55 L445.93 321.76 A59.5 59.5 0 0 0 443.3 322.37 Z" fill="#6cb8b8" stroke="none" stroke-width="0.3" />
<path d="M445.05 317.55 A63.8 63.8 0 0 1 447.24 317.13 L447.97 321.37 A59.5 59.5 0 0 0 445.93 321.76 Z" fill="#b0bcd4" stroke="none" stroke-width="0.3" />
<path d="M447.24 317.13 A63.8 63.8 0 0 1 447.46 317.09 L448.18 321.33 A59.5 59.5 0 0 0 447.97 321.37 Z" fill="#b0bcd4" stroke="none" stroke-width="0.3" />
<path d="M434.14 326.19 A58.9 58.9 0 0 1 448.28 321.92 L450.26 333.66 A47 47 0 0 0 438.98 337.06 Z" fill="none" stroke="#c8c8c8" stroke-width="0.3" />
<path d="M439.19 337.52 A46.5 46.5 0 0 1 450.35 334.15 L451.3 339.77 A40.8 40.8 0 0 0 441.51 342.73 Z" fill="none" stroke="#c8c8c8" stroke-width="0.3" />
<path d="M441.67 343.09 A40.4 40.4 0 0 1 451.36 340.17 L451.73 342.33 A38.2 38.2 0 0 0 442.56 345.1 Z" fill="none" stroke="#d0d0d0" stroke-width="0.3" />
<text x="435.67" y="305.71" font-size="6.3" fill="#444" text-anchor="middle" dominant-baseline="central" transform="rotate(343.2 435.67 305.71)">X</text>
<path d="M448.07 310.42 A70.3 70.3 0 0 1 456.87 309.71 L456.96 314.81 A65.2 65.2 0 0 0 448.8 315.47 Z" fill="#f4f4f4" stroke="none" stroke-width="0.3" />
<path d="M448.07 310.42 A70.3 70.3 0 0 1 450.51 310.11 L451.06 315.18 A65.2 65.2 0 0 0 448.8 315.47 Z" fill="#ddd" stroke="none" stroke-width="0.3" />
<path d="M450.51 310.11 A70.3 70.3 0 0 1 452.46 309.93 L452.87 315.01 A65.2 65.2 0 0 0 451.06 315.18 Z" fill="#eee" stroke="none" stroke-width="0.3" />
<path d="M452.46 309.93 A70.3 70.3 0 0 1 454.91 309.77 L455.14 314.87 A65.2 65.2 0 0 0 452.87 315.01 Z" fill="#fff" stroke="none" stroke-width="0.3" />
<path d="M454.91 309.77 A70.3 70.3 0 0 1 456.87 309.71 L456.96 314.81 A65.2 65.2 0 0 0 455.14 314.87 Z" fill="#fff" stroke="none" stroke-width="0.3" />
<path d="M449 316.85 A63.8 63.8 0 0 1 449.99 316.72 L450.54 320.98 A59.5 59.5 0 0 0 449.61 321.11 Z" fill="#dfe4f0" stroke="none" stroke-width="0.3" />
<path d="M449.99 316.72 A63.8 63.8 0 0 1 452.87 316.41 L453.22 320.7 A59.5 59.5 0 0 0 450.54 320.98 Z" fill="#dfe4f0" stroke="none" stroke-width="0.3" />
<path d="M452.87 316.41 A63.8 63.8 0 0 1 454.21 316.32 L454.47 320.61 A59.5 59.5 0 0 0 453.22 320.7 Z" fill="#e8ecf4" stroke="none" stroke-width="0.3" />
<path d="M454.21 316.32 A63.8 63.8 0 0 1 455.98 316.24 L456.13 320.53 A59.5 59.5 0 0 0 454.47 320.61 Z" fill="#e8ecf4" stroke="none" stroke-width="0.3" />
<path d="M455.98 316.24 A63.8 63.8 0 0 1 456.99 316.21 L457.06 320.51 A59.5 59.5 0 0 0 456.13 320.53 Z" fill="#e8ecf4" stroke="none" stroke-width="0.3" />
<path d="M449.7 321.7 A58.9 58.9 0 0 1 457.07 321.11 L457.28 333.01 A47 47 0 0 0 451.4 333.48 Z" fill="none" stroke="#c8c8c8" stroke-width="0.3" />
<path d="M451.47 333.98 A46.5 46.5 0 0 1 457.29 333.51 L457.39 339.21 A40.8 40.8 0 0 0 452.28 339.62 Z" fill="none" stroke="#c8c8c8" stroke-width="0.3" />
<path d="M452.34 340.01 A40.4 40.4 0 0 1 457.39 339.61 L457.43 341.81 A38.2 38.2 0 0 0 452.65 342.19 Z" fill="none" stroke="#d0d0d0" stroke-width="0.3" />
<text x="451.88" y="302.65" font-size="6.3" fill="#444" text-anchor="middle" dominant-baseline="central" transform="rotate(355.4 451.88 302.65)">Y</text>
<circle cx="458.1" cy="380" r="37.4" fill="none" stroke="#f0506a" stroke-width="0.6"/>
<circle cx="458.1" cy="380" r="39.5" fill="none" stroke="#a0509a" stroke-width="0.35" stroke-dasharray="3 1.2 5 0.8 2 1.5"/>
<circle cx="472.23" cy="326.12" r="0.75" fill="#2a2aff"/>
<circle cx="477.6" cy="326.12" r="0.75" fill="#f01818"/>
<circle cx="486.2" cy="331.91" r="0.75" fill="#2a2aff"/>
<circle cx="490.6" cy="334.77" r="0.75" fill="#2a2aff"/>
<circle cx="495.24" cy="336.36" r="0.75" fill="#f01818"/>
<circle cx="496.23" cy="339.4" r="0.75" fill="#2a2aff"/>
<circle cx="498.23" cy="341.38" r="0.75" fill="#2a2aff"/>
<circle cx="503.84" cy="348.21" r="0.75" fill="#2a2aff"/>
<circle cx="505.44" cy="350.65" r="0.75" fill="#2a2aff"/>
<circle cx="511.52" cy="359.28" r="0.75" fill="#f01818"/>
<circle cx="511.1" cy="362.88" r="0.75" fill="#2a2aff"/>
<circle cx="512" cy="365.96" r="0.75" fill="#2a2aff"/>
<circle cx="514.8" cy="371.73" r="0.75" fill="#f01818"/>
<circle cx="513.27" cy="387.66" r="0.75" fill="#2a2aff"/>
<circle cx="514.84" cy="387.97" r="0.75" fill="#f01818"/>
<circle cx="512" cy="394.04" r="0.75" fill="#2a2aff"/>
<circle cx="513.04" cy="396.27" r="0.75" fill="#f01818"/>
<circle cx="509.56" cy="401.32" r="0.75" fill="#2a2aff"/>
<circle cx="506.67" cy="407.26" r="0.75" fill="#2a2aff"/>
<circle cx="504.11" cy="411.39" r="0.75" fill="#2a2aff"/>
<circle cx="501.54" cy="417.37" r="0.75" fill="#f01818"/>
<circle cx="494.05" cy="422.54" r="0.75" fill="#2a2aff"/>
<circle cx="493" cy="423.41" r="0.75" fill="#2a2aff"/>
<circle cx="488.92" cy="426.39" r="0.75" fill="#2a2aff"/>
<circle cx="474.48" cy="433.24" r="0.75" fill="#2a2aff"/>
<circle cx="465.76" cy="435.17" r="0.75" fill="#2a2aff"/>
<circle cx="459.56" cy="435.68" r="0.75" fill="#2a2aff"/>
<circle cx="423.05" cy="423.29" r="0.75" fill="#2a2aff"/>
<circle cx="420.66" cy="423.38" r="0.75" fill="#f01818"/>
<circle cx="420.33" cy="420.93" r="0.75" fill="#2a2aff"/>
<circle cx="416.33" cy="419.22" r="0.75" fill="#f01818"/>
<circle cx="416.06" cy="416.54" r="0.75" fill="#2a2aff"/>
<circle cx="416.17" cy="409.03" r="0.75" fill="#18c018"/>
<circle cx="409.94" cy="411.04" r="0.75" fill="#f01818"/>
<circle cx="408.53" cy="408.74" r="0.75" fill="#f01818"/>
<circle cx="410.71" cy="398.86" r="0.75" fill="#18c018"/>
<circle cx="403.96" cy="393.1" r="0.75" fill="#2a2aff"/>
<circle cx="407.67" cy="387.63" r="0.75" fill="#18c018"/>
<circle cx="400.84" cy="382.2" r="0.75" fill="#f01818"/>
<circle cx="402.44" cy="377.76" r="0.75" fill="#2a2aff"/>
<circle cx="401.65" cy="370.15" r="0.75" fill="#f01818"/>
<circle cx="404.95" cy="363.34" r="0.75" fill="#2a2aff"/>
<circle cx="409.72" cy="352.4" r="0.75" fill="#2a2aff"/>
<circle cx="408.53" cy="351.26" r="0.75" fill="#f01818"/>
<circle cx="411.98" cy="348.77" r="0.75" fill="#2a2aff"/>
<circle cx="416.9" cy="342.51" r="0.75" fill="#2a2aff"/>
<circle cx="417.56" cy="341.8" r="0.75" fill="#2a2aff"/>
<circle cx="429" cy="332.51" r="0.75" fill="#2a2aff"/>
<circle cx="428.59" cy="330.88" r="0.75" fill="#f01818"/>
<circle cx="439.51" cy="327.49" r="0.75" fill="#2a2aff"/>
<circle cx="440.89" cy="327.03" r="0.75" fill="#2a2aff"/>
<circle cx="442.28" cy="326.59" r="0.75" fill="#2a2aff"/>
<circle cx="445.99" cy="323.99" r="0.75" fill="#f01818"/>
<circle cx="442.17" cy="331.55" r="0.75" fill="#18c018"/>
<circle cx="446.89" cy="330.25" r="0.75" fill="#18c018"/>
<path d="M430.09 344.15 A45.5 45.5 0 0 1 432.66 342.28 L434.05 344.35 A43 43 0 0 0 431.63 346.12 Z" fill="none" stroke="#5a5aff" stroke-width="0.35" />
<path d="M440.52 338.58 A45 45 0 0 1 449.51 335.83 L449.99 338.28 A42.5 42.5 0 0 0 441.49 340.88 Z" fill="none" stroke="#5a5aff" stroke-width="0.35" />
<path d="M464.22 336.43 A44 44 0 0 1 473.15 338.65 L472.64 340.06 A42.5 42.5 0 0 0 464.01 337.91 Z" fill="none" stroke="#5a5aff" stroke-width="0.35" />
<path d="M413.44 374.52 A45 45 0 0 1 414.25 369.88 L417.18 370.55 A42 42 0 0 0 416.41 374.88 Z" fill="none" stroke="#5a5aff" stroke-width="0.35" />
<path d="M428.66 412.7 A44 44 0 0 1 423.43 407.09 L425 405.86 A42 42 0 0 0 430 411.21 Z" fill="none" stroke="#5a5aff" stroke-width="0.35" />
<path d="M419.99 402 A44 44 0 0 1 417.9 397.9 L419.73 397.08 A42 42 0 0 0 421.73 401 Z" fill="none" stroke="#5a5aff" stroke-width="0.35" />
<path d="M453.61 422.76 A43 43 0 0 1 446.25 421.33 L446.66 419.89 A41.5 41.5 0 0 0 453.76 421.27 Z" fill="none" stroke="#5a5aff" stroke-width="0.35" />
<path d="M501.76 390.89 A45 45 0 0 1 499.82 396.86 L497.04 395.73 A42 42 0 0 0 498.85 390.16 Z" fill="none" stroke="#5a5aff" stroke-width="0.35" />
<path d="M438.73 348.01 Q458.1 380 479.87 349.59" fill="none" stroke="#f0506a" stroke-width="0.6"/>
<path d="M467.78 343.87 Q458.1 380 448.55 416.16" fill="none" stroke="#f0506a" stroke-width="0.6"/>
</svg>
</body></html>
